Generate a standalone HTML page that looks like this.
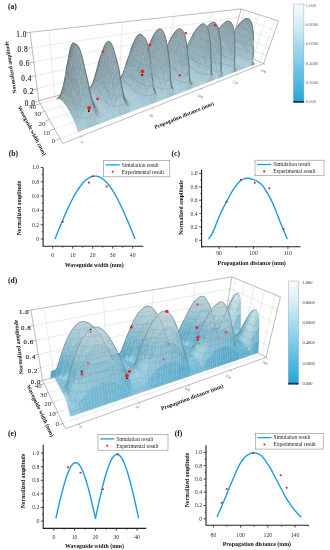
<!DOCTYPE html><html><head><meta charset="utf-8"><style>html,body{margin:0;padding:0;background:#fff;width:330px;height:550px;overflow:hidden}svg{display:block}</style></head><body><svg width="330" height="550" viewBox="0 0 330 550" font-family="Liberation Serif, serif"><style>.c0{fill:#87a2ab;stroke:#87a2ab}.c1{fill:#99bac6;stroke:#99bac6}.c2{fill:#a2c3cf;stroke:#a2c3cf}.c3{fill:#78878d;stroke:#78878d}.c4{fill:#8dabb7;stroke:#8dabb7}.c5{fill:#99bac3;stroke:#99bac3}.c6{fill:#8aa5ae;stroke:#8aa5ae}.c7{fill:#9cbac3;stroke:#9cbac3}.c8{fill:#a5c9d2;stroke:#a5c9d2}.c9{fill:#8aa2ab;stroke:#8aa2ab}.c10{fill:#a5c9d5;stroke:#a5c9d5}.c11{fill:#8dabb4;stroke:#8dabb4}.c12{fill:#8da5ae;stroke:#8da5ae}.c13{fill:#a8ccd8;stroke:#a8ccd8}.c14{fill:#a2c6cf;stroke:#a2c6cf}.c15{fill:#a8c9d5;stroke:#a8c9d5}.c16{fill:#7b8d96;stroke:#7b8d96}.c17{fill:#a2c6d2;stroke:#a2c6d2}.c18{fill:#9cbdc6;stroke:#9cbdc6}.c19{fill:#8da2ab;stroke:#8da2ab}.c20{fill:#a5c6d2;stroke:#a5c6d2}.c21{fill:#96b1bd;stroke:#96b1bd}.c22{fill:#9cc0c9;stroke:#9cc0c9}.c23{fill:#a8ccd5;stroke:#a8ccd5}.c24{fill:#9fc0cc;stroke:#9fc0cc}.c25{fill:#9fc0c9;stroke:#9fc0c9}.c26{fill:#8da2a8;stroke:#8da2a8}.c27{fill:#9cbdc9;stroke:#9cbdc9}.c28{fill:#8daeb7;stroke:#8daeb7}.c29{fill:#96b7c3;stroke:#96b7c3}.c30{fill:#93b1bd;stroke:#93b1bd}.c31{fill:#7b8d93;stroke:#7b8d93}.c32{fill:#96b7c0;stroke:#96b7c0}.c33{fill:#8d9fa8;stroke:#8d9fa8}.c34{fill:#728187;stroke:#728187}.c35{fill:#9cbac6;stroke:#9cbac6}.c36{fill:#8da8b1;stroke:#8da8b1}.c37{fill:#8a9fa5;stroke:#8a9fa5}.c38{fill:#84969f;stroke:#84969f}.c39{fill:#9fbdc9;stroke:#9fbdc9}.c40{fill:#8a9ca5;stroke:#8a9ca5}.c41{fill:#a2c3cc;stroke:#a2c3cc}.c42{fill:#96b4bd;stroke:#96b4bd}.c43{fill:#93b1ba;stroke:#93b1ba}.c44{fill:#99b7c3;stroke:#99b7c3}.c45{fill:#879ca5;stroke:#879ca5}.c46{fill:#90aeb7;stroke:#90aeb7}.c47{fill:#81969c;stroke:#81969c}.c48{fill:#90aeba;stroke:#90aeba}.c49{fill:#93aeb7;stroke:#93aeb7}.c50{fill:#9fc3cc;stroke:#9fc3cc}.c51{fill:#90b1ba;stroke:#90b1ba}.c52{fill:#87999f;stroke:#87999f}.c53{fill:#93b4c0;stroke:#93b4c0}.c54{fill:#99bdc6;stroke:#99bdc6}.c55{fill:#75848a;stroke:#75848a}.c56{fill:#8a9fa8;stroke:#8a9fa8}.c57{fill:#96b1ba;stroke:#96b1ba}.c58{fill:#8da5ab;stroke:#8da5ab}.c59{fill:#90abb4;stroke:#90abb4}.c60{fill:#9fc3cf;stroke:#9fc3cf}.c61{fill:#788a90;stroke:#788a90}.c62{fill:#81939c;stroke:#81939c}.c63{fill:#96b4c0;stroke:#96b4c0}.c64{fill:#8d9ca5;stroke:#8d9ca5}.c65{fill:#75848d;stroke:#75848d}.c66{fill:#7e939c;stroke:#7e939c}.c67{fill:#84999f;stroke:#84999f}.c68{fill:#8a99a2;stroke:#8a99a2}.c69{fill:#84969c;stroke:#84969c}.c70{fill:#727e87;stroke:#727e87}.c71{fill:#78848d;stroke:#78848d}.c72{fill:#7e9099;stroke:#7e9099}.c73{fill:#8d9fa5;stroke:#8d9fa5}.c74{fill:#93b4bd;stroke:#93b4bd}.c75{fill:#81969f;stroke:#81969f}.c76{fill:#758187;stroke:#758187}.c77{fill:#8aa5ab;stroke:#8aa5ab}.c78{fill:#879ca2;stroke:#879ca2}.c79{fill:#879fa8;stroke:#879fa8}.c80{fill:#8aa2a8;stroke:#8aa2a8}.c81{fill:#7b9096;stroke:#7b9096}.c82{fill:#819099;stroke:#819099}.c83{fill:#8da8b4;stroke:#8da8b4}.c84{fill:#8499a2;stroke:#8499a2}.c85{fill:#8a9ca2;stroke:#8a9ca2}.c86{fill:#849fa5;stroke:#849fa5}.c87{fill:#849ca5;stroke:#849ca5}.c88{fill:#7b8a90;stroke:#7b8a90}.c89{fill:#819399;stroke:#819399}.c90{fill:#90abb7;stroke:#90abb7}.c91{fill:#727e84;stroke:#727e84}.c92{fill:#93aeba;stroke:#93aeba}.c93{fill:#849ca2;stroke:#849ca2}.c94{fill:#7e9399;stroke:#7e9399}.c95{fill:#8aa2ae;stroke:#8aa2ae}.c96{fill:#8799a2;stroke:#8799a2}.c97{fill:#75818a;stroke:#75818a}.c98{fill:#99b7c0;stroke:#99b7c0}.c99{fill:#7e8d93;stroke:#7e8d93}.c100{fill:#84939c;stroke:#84939c}.c101{fill:#879fab;stroke:#879fab}.c102{fill:#7b8a93;stroke:#7b8a93}.c103{fill:#8199a2;stroke:#8199a2}.c104{fill:#7b878d;stroke:#7b878d}.c105{fill:#7b9099;stroke:#7b9099}.c106{fill:#87969c;stroke:#87969c}.c107{fill:#819096;stroke:#819096}.c108{fill:#818d93;stroke:#818d93}.c109{fill:#8abacc;stroke:#8abacc}.c110{fill:#78b7cf;stroke:#78b7cf}.c111{fill:#84c0d5;stroke:#84c0d5}.c112{fill:#abcfde;stroke:#abcfde}.c113{fill:#99c9db;stroke:#99c9db}.c114{fill:#93c6db;stroke:#93c6db}.c115{fill:#abd2e1;stroke:#abd2e1}.c116{fill:#63aec9;stroke:#63aec9}.c117{fill:#9cc3cf;stroke:#9cc3cf}.c118{fill:#abd2de;stroke:#abd2de}.c119{fill:#90c3d8;stroke:#90c3d8}.c120{fill:#81bacf;stroke:#81bacf}.c121{fill:#6cb1cc;stroke:#6cb1cc}.c122{fill:#60abc9;stroke:#60abc9}.c123{fill:#8ac0d5;stroke:#8ac0d5}.c124{fill:#84bdcf;stroke:#84bdcf}.c125{fill:#90bdcc;stroke:#90bdcc}.c126{fill:#a8c6cf;stroke:#a8c6cf}.c127{fill:#69b1cc;stroke:#69b1cc}.c128{fill:#aed2de;stroke:#aed2de}.c129{fill:#bad5de;stroke:#bad5de}.c130{fill:#bad8e1;stroke:#bad8e1}.c131{fill:#a5c6cf;stroke:#a5c6cf}.c132{fill:#aed2db;stroke:#aed2db}.c133{fill:#a2c9d2;stroke:#a2c9d2}.c134{fill:#b7cfd5;stroke:#b7cfd5}.c135{fill:#aec9d2;stroke:#aec9d2}.c136{fill:#5da8c6;stroke:#5da8c6}.c137{fill:#c9dee4;stroke:#c9dee4}.c138{fill:#c6dbe1;stroke:#c6dbe1}.c139{fill:#b7d2d8;stroke:#b7d2d8}.c140{fill:#63aecc;stroke:#63aecc}.c141{fill:#c3d8db;stroke:#c3d8db}.c142{fill:#c3d8de;stroke:#c3d8de}.c143{fill:#cfe1e4;stroke:#cfe1e4}.c144{fill:#60aec9;stroke:#60aec9}.c145{fill:#63abc9;stroke:#63abc9}.c146{fill:#66aecc;stroke:#66aecc}.c147{fill:#6caec9;stroke:#6caec9}.c148{fill:#75b7cf;stroke:#75b7cf}.c149{fill:#7bb4c9;stroke:#7bb4c9}.c150{fill:#6fb1cc;stroke:#6fb1cc}.c151{fill:#93c6d8;stroke:#93c6d8}.c152{fill:#5dabc9;stroke:#5dabc9}.c153{fill:#5aabc9;stroke:#5aabc9}.c154{fill:#9fccde;stroke:#9fccde}.c155{fill:#66b1cc;stroke:#66b1cc}.c156{fill:#8ac0d2;stroke:#8ac0d2}.c157{fill:#5daecc;stroke:#5daecc}.c158{fill:#66b1cf;stroke:#66b1cf}.c159{fill:#a8d2e1;stroke:#a8d2e1}.c160{fill:#7bbad2;stroke:#7bbad2}.c161{fill:#72b7d2;stroke:#72b7d2}.c162{fill:#8abdcc;stroke:#8abdcc}.c163{fill:#a2ccdb;stroke:#a2ccdb}.c164{fill:#96c9db;stroke:#96c9db}.c165{fill:#75b7d2;stroke:#75b7d2}.c166{fill:#60aecf;stroke:#60aecf}.c167{fill:#96c0cc;stroke:#96c0cc}.c168{fill:#6cb4cf;stroke:#6cb4cf}.c169{fill:#78bad2;stroke:#78bad2}.c170{fill:#a8cfde;stroke:#a8cfde}.c171{fill:#90c0d2;stroke:#90c0d2}.c172{fill:#72b4cc;stroke:#72b4cc}.c173{fill:#87c0d5;stroke:#87c0d5}.c174{fill:#63aecf;stroke:#63aecf}.c175{fill:#78b7cc;stroke:#78b7cc}.c176{fill:#93c0cc;stroke:#93c0cc}.c177{fill:#7bbacf;stroke:#7bbacf}.c178{fill:#6fb1c9;stroke:#6fb1c9}.c179{fill:#69b1cf;stroke:#69b1cf}.c180{fill:#6cb1cf;stroke:#6cb1cf}.c181{fill:#b4d5e1;stroke:#b4d5e1}.c182{fill:#a5cfde;stroke:#a5cfde}.c183{fill:#6fb4cf;stroke:#6fb4cf}.c184{fill:#9cc3d2;stroke:#9cc3d2}.c185{fill:#a8c9d2;stroke:#a8c9d2}.c186{fill:#93c0cf;stroke:#93c0cf}.c187{fill:#72b7cf;stroke:#72b7cf}.c188{fill:#63b1cf;stroke:#63b1cf}.c189{fill:#6cb1c9;stroke:#6cb1c9}.c190{fill:#99c6d5;stroke:#99c6d5}.c191{fill:#c3dbe4;stroke:#c3dbe4}.c192{fill:#63abc6;stroke:#63abc6}.c193{fill:#b4d2db;stroke:#b4d2db}.c194{fill:#7eb7c9;stroke:#7eb7c9}.c195{fill:#7eb7cc;stroke:#7eb7cc}.c196{fill:#5aa8c6;stroke:#5aa8c6}.c197{fill:#60abc6;stroke:#60abc6}.c198{fill:#78b4c9;stroke:#78b4c9}.c199{fill:#99c0cf;stroke:#99c0cf}.c200{fill:#72b1c9;stroke:#72b1c9}.c201{fill:#51a8c9;stroke:#51a8c9}.c202{fill:#5dabc6;stroke:#5dabc6}.c203{fill:#75b4c9;stroke:#75b4c9}.c204{fill:#90c6d8;stroke:#90c6d8}.c205{fill:#84bacc;stroke:#84bacc}.c206{fill:#abc9d2;stroke:#abc9d2}.c207{fill:#54a8c9;stroke:#54a8c9}.c208{fill:#b1ccd2;stroke:#b1ccd2}.c209{fill:#7ebad2;stroke:#7ebad2}.c210{fill:#66aec9;stroke:#66aec9}.c211{fill:#57a8c9;stroke:#57a8c9}.c212{fill:#aeccd2;stroke:#aeccd2}.c213{fill:#abc9cf;stroke:#abc9cf}.c214{fill:#96c0cf;stroke:#96c0cf}.c215{fill:#87bacc;stroke:#87bacc}.c216{fill:#b4ccd2;stroke:#b4ccd2}.c217{fill:#7bb7c9;stroke:#7bb7c9}.c218{fill:#b4ccd5;stroke:#b4ccd5}.c219{fill:#8dbdcc;stroke:#8dbdcc}.c220{fill:#6cb4cc;stroke:#6cb4cc}.c221{fill:#99c3cf;stroke:#99c3cf}.c222{fill:#7bb7cc;stroke:#7bb7cc}.c223{fill:#8ac0d8;stroke:#8ac0d8}.c224{fill:#99c0cc;stroke:#99c0cc}.c225{fill:#9cccde;stroke:#9cccde}.c226{fill:#81b7c9;stroke:#81b7c9}.c227{fill:#81bacc;stroke:#81bacc}.c228{fill:#99c9d8;stroke:#99c9d8}.c229{fill:#78bad5;stroke:#78bad5}.c230{fill:#87c0d8;stroke:#87c0d8}.c231{fill:#96c9de;stroke:#96c9de}.c232{fill:#a2cfde;stroke:#a2cfde}.c233{fill:#57a8c6;stroke:#57a8c6}.c234{fill:#7bbdd5;stroke:#7bbdd5}.c235{fill:#8dc3d8;stroke:#8dc3d8}.c236{fill:#81bdd5;stroke:#81bdd5}.c237{fill:#7bbad5;stroke:#7bbad5}.c238{fill:#84bacf;stroke:#84bacf}.c239{fill:#8ac3d8;stroke:#8ac3d8}.c240{fill:#9cc9db;stroke:#9cc9db}.c241{fill:#81b7cc;stroke:#81b7cc}.c242{fill:#87bdcf;stroke:#87bdcf}.c243{fill:#72b7d5;stroke:#72b7d5}.c244{fill:#bacfd5;stroke:#bacfd5}.c245{fill:#84b7cc;stroke:#84b7cc}.c246{fill:#60aecc;stroke:#60aecc}.c247{fill:#bdd2d5;stroke:#bdd2d5}.c248{fill:#93bdcc;stroke:#93bdcc}.c249{fill:#5aabcc;stroke:#5aabcc}.c250{fill:#a8c9cf;stroke:#a8c9cf}.c251{fill:#78b4cc;stroke:#78b4cc}.c252{fill:#69aec6;stroke:#69aec6}.c253{fill:#69aec9;stroke:#69aec9}.c254{fill:#9fc6cf;stroke:#9fc6cf}.c255{fill:#72b4c9;stroke:#72b4c9}.c256{fill:#b1ccd5;stroke:#b1ccd5}.c257{fill:#84bdd5;stroke:#84bdd5}.c258{fill:#90bdcf;stroke:#90bdcf}.c259{fill:#78b7d2;stroke:#78b7d2}.c260{fill:#7ebdd2;stroke:#7ebdd2}.c261{fill:#66abc6;stroke:#66abc6}.c262{fill:#7ebdd8;stroke:#7ebdd8}.c263{fill:#8abdcf;stroke:#8abdcf}.c264{fill:#84bdd2;stroke:#84bdd2}.c265{fill:#84c0d8;stroke:#84c0d8}.c266{fill:#99ccde;stroke:#99ccde}.c267{fill:#96c6d8;stroke:#96c6d8}.c268{fill:#81c0d8;stroke:#81c0d8}.c269{fill:#90c6db;stroke:#90c6db}.c270{fill:#8ac3db;stroke:#8ac3db}.c271{fill:#8abdd2;stroke:#8abdd2}.c272{fill:#93c3d5;stroke:#93c3d5}.c273{fill:#8dc0d2;stroke:#8dc0d2}.c274{fill:#a2ccde;stroke:#a2ccde}.c275{fill:#99c9de;stroke:#99c9de}.c276{fill:#99c6d8;stroke:#99c6d8}.c277{fill:#8dc6db;stroke:#8dc6db}.c278{fill:#a8c6d2;stroke:#a8c6d2}.c279{fill:#93c9db;stroke:#93c9db}.c280{fill:#9fc9db;stroke:#9fc9db}.c281{fill:#c0d2d8;stroke:#c0d2d8}.c282{fill:#6fb7d2;stroke:#6fb7d2}.c283{fill:#72b4cf;stroke:#72b4cf}.c284{fill:#c3d2d8;stroke:#c3d2d8}.c285{fill:#6fb4d2;stroke:#6fb4d2}.c286{fill:#69b1c9;stroke:#69b1c9}.c287{fill:#bdd2d8;stroke:#bdd2d8}.c288{fill:#9fc6d2;stroke:#9fc6d2}.c289{fill:#6fb4cc;stroke:#6fb4cc}.c290{fill:#b4cfd5;stroke:#b4cfd5}.c291{fill:#8dbdcf;stroke:#8dbdcf}.c292{fill:#aeccd5;stroke:#aeccd5}.c293{fill:#8dc0cf;stroke:#8dc0cf}.c294{fill:#7ebdd5;stroke:#7ebdd5}.c295{fill:#81bdd8;stroke:#81bdd8}.c296{fill:#87c3db;stroke:#87c3db}.c297{fill:#a2cfe1;stroke:#a2cfe1}.c298{fill:#87bdd2;stroke:#87bdd2}.c299{fill:#90c3d5;stroke:#90c3d5}path[class]{stroke-width:.3}path.sl{stroke:#66727a;stroke-width:.8;fill:none}path.sd{stroke:#6f8c99;stroke-width:.7;fill:none}path.cd{stroke:#3f86a8;stroke-opacity:.35;stroke-width:.4;fill:none}path.ct{stroke:#8a9aa2;stroke-width:.45;fill:none}</style><path d="M37.2 88.6L232.5 40.8M35.6 75.7L234.6 33.2M33.8 62.1L236.7 25.3M32 47.6L238.9 17.2M54.7 96.4L48.9 30.2M119.5 78.6L122.5 22M166.6 65.7L174 16.3M202.4 55.9L212 12.1M266.4 55.7L232.5 40.8M269.2 47.5L234.6 33.2M272.2 39L236.7 25.3M275.3 30.2L238.9 17.2M260.2 62.1L274.6 19.8M252.9 58.7L266.4 17.1M246 55.4L258.6 14.6M239.3 52.3L251.1 12.1M232.9 49.3L243.9 9.8M60.1 138.6L260.2 62.1M54.6 128.8L252.9 58.7M49.4 119.7L246 55.4M44.7 111.4L239.3 52.3M40.4 103.7L232.9 49.3M81.1 136.1L54.7 96.4M152.1 107.9L119.5 78.6M200.9 88.5L166.6 65.7M236.5 74.4L202.4 55.9" stroke="#d6d6d6" stroke-width=".5" fill="none"/><path d="M38.7 100.8L30.1 32.3M30.1 32.3L241.2 8.9M230.5 48.2L241.2 8.9M241.2 8.9L278.5 21M278.5 21L263.6 63.7M38.7 100.8L62.8 143.4M62.8 143.4L263.6 63.7M263.6 63.7L230.5 48.2M38.7 100.8L230.5 48.2" stroke="#8e8e8e" stroke-width=".6" fill="none"/><path class="c0" d="M232.2 36.5l2.6-6.5-3.4 5.5-2.2 4.9z"/><path class="c1" d="M232.3 51.2l3.1-8.1-2.1 .3-2.9 7.5z"/><path class="c2" d="M233.9 56.4l2-3.9-1.8-.7-1.9 3.8z"/><path class="c3" d="M253 62.1l.6 .3-1.7-1.3-.5-.8z"/><path class="c4" d="M233.3 43.4l4.2-12.3-2.6 2.3-3.8 10.7z"/><path class="c5" d="M234.1 51.7l3.3-8.5-2-.1-3.1 8.1z"/><path class="c6" d="M235 33.4l3-7.9-3.2 4.5-2.6 6.5z"/><path class="c7" d="M254.4 64.3l.8-.3-1.7-1.5-.6-.3z"/><path class="c8" d="M234.2 59.2l1.4-1.9-1.7-.9-1.4 2z"/><path class="c2" d="M235.6 57.3l2-3.9-1.7-.9-2 3.9z"/><path class="c5" d="M235.9 52.5l3.3-8.7-1.9-.6-3.3 8.5z"/><path class="c9" d="M253.6 64.6l.9-.3-1.4-2.2-.4-1.2z"/><path class="c10" d="M236 60.2l1.4-1.9-1.7-1-1.4 1.9z"/><path class="c11" d="M235.4 43.1l4.6-13.4-2.4 1.5-4.2 12.3z"/><path class="c2" d="M237.4 58.3l1.9-3.7-1.7-1.2-2 3.9z"/><path class="c10" d="M234.8 61.3l1.2-1.2-1.7-1-1.2 1.2z"/><path class="c5" d="M237.6 53.4l3.3-8.6-1.7-1-3.3 8.7z"/><path class="c10" d="M237.7 61.2l1.4-1.8-1.7-1.1-1.4 1.9z"/><path class="c3" d="M252.7 64.9l.9-.3-1-3.7 .2-2.8z"/><path class="c12" d="M237.6 31.2l3.4-9.1-3 3.4-3 7.9z"/><path class="c12" d="M241 22.1l-.3 4-2.8 2.9 .1-3.5z"/><path class="c2" d="M239.1 59.4l1.9-3.5-1.7-1.4-1.9 3.7z"/><path class="c10" d="M236.6 62.3l1.2-1.1-1.8-1-1.2 1.2z"/><path class="c11" d="M237.3 43.2l4.9-14.1-2.2 .6-4.6 13.4z"/><path class="c1" d="M239.3 54.6l3.3-8.3-1.6-1.5-3.3 8.6z"/><path class="c13" d="M235.5 63l1.1-.7-1.8-1-1.1 .8z"/><path class="c10" d="M239.5 62.3l1.3-1.6-1.7-1.2-1.4 1.8z"/><path class="c14" d="M240.8 60.6l1.8-3.1-1.6-1.6-1.9 3.5z"/><path class="c15" d="M238.4 63.3l1.1-1-1.8-1.1-1.2 1.1z"/><path class="c1" d="M241 55.9l3.1-7.7-1.5-2-3.3 8.3z"/><path class="c10" d="M234.5 63.5l1-.5-1.8-.9-1 .5z"/><path class="c16" d="M251.9 65.3l.9-.3 .1-6.9 .4-3.7z"/><path class="c13" d="M237.3 64l1-.7-1.8-1-1.1 .7z"/><path class="c17" d="M242.5 62l1.6-2.7-1.6-1.8-1.8 3.1z"/><path class="c11" d="M239.2 43.7l5-14.4-2-.3-4.9 14.1z"/><path class="c10" d="M241.3 63.4l1.2-1.4-1.7-1.3-1.3 1.6z"/><path class="c18" d="M242.6 57.5l2.9-6.8-1.4-2.4-3.1 7.7z"/><path class="c19" d="M240 29.7l3.7-9.9-2.7 2.3-3.4 9.1z"/><path class="c19" d="M243.6 19.8l-.4 4.5-2.6 1.9 .3-4z"/><path class="c15" d="M240.2 64.3l1.1-.9-1.8-1.1-1.1 1z"/><path class="c8" d="M236.3 64.5l1-.5-1.8-1-1 .5z"/><path class="c20" d="M244.2 63.4l1.5-2.1-1.5-2-1.6 2.7z"/><path class="c21" d="M251 65.6l.9-.3 1.3-10.9-.4-1.1z"/><path class="c22" d="M244.1 59.3l2.6-5.8-1.3-2.9-2.9 6.8z"/><path class="c10" d="M243 64.6l1.2-1.2-1.7-1.5-1.2 1.4z"/><path class="c12" d="M253.2 54.4l-.4 3.7-.6-4.9 1.3-6.5z"/><path class="c23" d="M239.1 64.9l1-.6-1.8-1-1 .7z"/><path class="c11" d="M240.9 44.8l5-14.2-1.8-1.2-5 14.4z"/><path class="c24" d="M245.7 61.3l2.2-4.4-1.1-3.4-2.6 5.8z"/><path class="c14" d="M235.4 64.9l1-.4-1.8-.9-1 .4z"/><path class="c25" d="M250.1 65.9l.9-.3 1.8-12.3-1.8 3.2z"/><path class="c13" d="M242 65.4l1.1-.8-1.8-1.2-1.1 .9z"/><path class="c10" d="M245.9 65l1.2-1.4-1.4-2.3-1.5 2.1z"/><path class="c17" d="M249.2 66.3l.9-.3 .8-9.5-2.2 4.3z"/><path class="c14" d="M247.1 63.6l1.7-2.8-.9-3.9-2.2 4.4z"/><path class="c20" d="M238.2 65.4l1-.5-1.8-1-1 .5z"/><path class="c10" d="M248.3 66.6l.9-.3-.4-5.5-1.7 2.8z"/><path class="c15" d="M244.8 65.9l1.1-.8-1.7-1.6-1.2 1.2z"/><path class="c11" d="M242.6 46.3l4.9-13.6-1.5-2.1-5 14.2z"/><path class="c10" d="M241 65.9l1-.6-1.8-1.1-1 .6z"/><path class="c2" d="M234.4 65.2l1-.3-1.8-.9-1 .3z"/><path class="c13" d="M247.4 67l.9-.3-1.2-3-1.2 1.4z"/><path class="c19" d="M242.2 29.1l3.9-10.5-2.4 1.2-3.7 9.9z"/><path class="c26" d="M246.1 18.6l-.5 4.7-2.3 .9 .4-4.5z"/><path class="c14" d="M237.2 65.8l1-.4-1.8-1-1 .4z"/><path class="c13" d="M243.8 66.5l1-.6-1.8-1.3-1.1 .8z"/><path class="c27" d="M248.8 60.8l2.2-4.3-.1-6.6-3 7z"/><path class="c4" d="M244.1 48.2l4.6-12.6-1.2-3-4.9 13.6z"/><path class="c13" d="M246.5 67.3l.9-.3-1.6-1.9-1.1 .8z"/><path class="c20" d="M240 66.4l1-.4-1.8-1-1 .5z"/><path class="c28" d="M245.5 50.7l4.2-11.1-1-3.9-4.6 12.6z"/><path class="c29" d="M247.8 56.9l3-7-.4-5.6-3.7 9.3z"/><path class="c30" d="M246.7 53.5l3.7-9.3-.7-4.7-4.2 11.1z"/><path class="c31" d="M252.8 53.3l.4 1.1 .2-7.6-.2-2z"/><path class="c10" d="M242.8 67l1-.5-1.8-1.1-1 .6z"/><path class="c2" d="M236.3 66.1l1-.3-1.8-.9-1 .3z"/><path class="c10" d="M245.6 67.7l.9-.4-1.7-1.5-1 .6z"/><path class="c32" d="M251 56.5l1.8-3.2 .5-8.6-2.4 5.2z"/><path class="c2" d="M239.1 66.8l1-.4-1.8-1-1 .4z"/><path class="c19" d="M244.2 29.3l4-10.7-2.1-.1-3.9 10.5z"/><path class="c33" d="M248.2 18.6l-.5 4.8-2-.2 .5-4.7z"/><path class="c20" d="M241.9 67.4l1-.4-1.9-1-1 .4z"/><path class="c24" d="M235.3 66.4l.9-.3-1.8-1-.9 .3z"/><path class="c20" d="M244.7 68l.9-.4-1.8-1.2-1 .5z"/><path class="c2" d="M238.1 67.1l1-.3-1.8-1-1 .3z"/><path class="c34" d="M253.3 44.7l.2 2-.2-6.4 .1-2.9z"/><path class="c2" d="M240.9 67.7l.9-.4-1.9-1-1 .4z"/><path class="c28" d="M250.9 49.9l2.4-5.2 .1-7.3-2.9 6.8z"/><path class="c19" d="M245.9 30.5l4-10.6-1.8-1.3-4 10.7z"/><path class="c35" d="M234.4 66.6l.9-.2-1.8-1-.9 .2z"/><path class="c33" d="M249.9 19.9l-.5 4.8-1.8-1.2 .5-4.8z"/><path class="c14" d="M243.8 68.4l.9-.4-1.9-1.1-1 .4z"/><path class="c24" d="M237.2 67.4l.9-.3-1.9-1-.9 .3z"/><path class="c34" d="M253.4 37.4l-.1 2.9-.5-5.4 .3-3.6z"/><path class="c2" d="M240 68.1l.9-.4-1.9-1-1 .3z"/><path class="c36" d="M250.4 44.2l2.9-6.8-.3-6.1-3.4 8.2z"/><path class="c19" d="M247.5 32.6l3.9-10.1-1.4-2.6-4 10.6z"/><path class="c37" d="M251.3 22.5l-.5 4.5-1.4-2.3 .5-4.8z"/><path class="c2" d="M242.8 68.7l.9-.4-1.9-1-.9 .4z"/><path class="c12" d="M249.7 39.5l3.4-8.2-.7-5-3.7 9.3z"/><path class="c12" d="M248.7 35.6l3.7-9.3-1-3.8-3.9 10.1z"/><path class="c38" d="M253 31.3l-.3 3.6-.8-4.4 .4-4.1z"/><path class="c39" d="M236.2 67.7l.9-.2-1.8-1-.9 .2z"/><path class="c40" d="M252.4 26.3l-.4 4.1-1.1-3.4 .5-4.5z"/><path class="c41" d="M239 68.4l.9-.3-1.9-1-.9 .3z"/><path class="c2" d="M241.9 69.1l.9-.4-1.9-1-.9 .4z"/><path class="c42" d="M235.3 67.8l.9-.1-1.8-1-.9 0z"/><path class="c24" d="M238.1 68.7l.9-.3-1.9-1-.9 .2z"/><path class="c2" d="M240.9 69.5l1-.4-1.9-1-.9 .3z"/><path class="c16" d="M234.5 67.7l.8 .1-1.8-1.1-.8-.3z"/><path class="c35" d="M237.2 68.9l.9-.2-1.9-1.1-.9 .1z"/><path class="c2" d="M239.9 69.8l1-.4-1.9-1-.9 .3z"/><path class="c43" d="M236.3 69l.9-.1-1.8-1.2-.8-.1z"/><path class="c2" d="M239 70.2l1-.4-1.9-1.1-.9 .2z"/><path class="c2" d="M238 70.6l1-.4-1.8-1.3-.9 .1z"/><path class="c3" d="M235.4 68.9l.8 .2-1.8-1.4-.7-.5z"/><path class="c24" d="M237 71l1-.4-1.7-1.6-.8-.2z"/><path class="c44" d="M236 71.3l1-.4-1.6-2.1-.7-.8z"/><path class="c12" d="M216.1 41l4.2-13-2.8 3.3-3.7 11.4z"/><path class="c45" d="M235 71.7l1-.4-1.3-3.2-.3-2.2z"/><path class="c46" d="M218.1 53.4l4.3-13.2-2-.5-4.2 12.9z"/><path class="c47" d="M234 72.1l1-.4-.5-5.8 .2-3.8z"/><path class="c3" d="M220.3 28l1.8-3.2-2.9 3.7-1.7 2.8z"/><path class="c22" d="M220.7 63.8l2.5-6-1.6-1.9-2.6 6.4z"/><path class="c17" d="M220.8 67.8l1.6-2.4-1.7-1.6-1.7 2.6z"/><path class="c12" d="M218.4 40l4.5-14.3-2.6 2.2-4.2 13z"/><path class="c48" d="M219.9 54.5l4.3-13-1.8-1.2-4.3 13.2z"/><path class="c24" d="M222.4 65.4l2.4-5.3-1.6-2.2-2.5 6z"/><path class="c36" d="M234.7 62.1l-.2 3.8-1-4.2 1-6.7z"/><path class="c20" d="M222.5 69.2l1.5-2.1-1.7-1.8-1.6 2.4z"/><path class="c49" d="M233 72.5l1-.4 .7-10-.1-3z"/><path class="c10" d="M221.3 70.2l1.3-1-1.8-1.4-1.3 1.1z"/><path class="c50" d="M224.1 67.1l2.2-4.5-1.5-2.6-2.4 5.3z"/><path class="c51" d="M221.6 56l4.2-12.5-1.6-2-4.3 13z"/><path class="c10" d="M224.3 70.8l1.4-1.7-1.6-2-1.5 2.1z"/><path class="c12" d="M220.5 39.8l4.8-15.1-2.4 1.1-4.5 14.3z"/><path class="c19" d="M227.2 21.1l-1.9 11.7-2.2 .6 1.7-11.1z"/><path class="c2" d="M225.7 69.1l1.9-3.5-1.4-3-2.2 4.5z"/><path class="c30" d="M223.3 57.8l4-11.6-1.4-2.8-4.2 12.5z"/><path class="c52" d="M222.9 25.8l1.9-3.4-2.7 2.5-1.8 3.2z"/><path class="c35" d="M231.9 72.9l1-.4 1.6-13.4-1.3 1.3z"/><path class="c10" d="M223.1 71.7l1.2-.9-1.8-1.6-1.3 1z"/><path class="c2" d="M230.9 73.3l1-.4 1.3-12.5-2.2 4.5z"/><path class="c17" d="M227.3 71.3l1.6-2.3-1.3-3.4-1.9 3.5z"/><path class="c8" d="M229.8 73.7l1.1-.4 .1-8.3-2.1 4.1z"/><path class="c53" d="M224.8 60l3.7-10.3-1.2-3.5-4 11.6z"/><path class="c10" d="M226 72.5l1.3-1.2-1.6-2.2-1.4 1.7z"/><path class="c10" d="M228.8 74.1l1.1-.4-.9-4.7-1.6 2.3z"/><path class="c17" d="M222 72l1.1-.4-1.8-1.4-1.1 .3z"/><path class="c29" d="M226.3 62.6l3.3-8.6-1.1-4.3-3.7 10.3z"/><path class="c24" d="M228.9 69l2.1-4.1-.6-5.9-2.8 6.5z"/><path class="c54" d="M227.7 65.6l2.8-6.5-.8-5-3.3 8.6z"/><path class="c15" d="M224.9 73.2l1.2-.7-1.7-1.7-1.2 .9z"/><path class="c55" d="M234.6 59.1l.1 3-.2-7.1 .5-5.3z"/><path class="c12" d="M222.5 40.2l4.9-15.4-2.1-.1-4.8 15.1z"/><path class="c13" d="M227.7 74.5l1.1-.4-1.4-2.8-1.3 1.2z"/><path class="c26" d="M229.4 21.1l-2.1 12-2-.3 1.9-11.7z"/><path class="c56" d="M221 71.9l1 .2-1.8-1.4-.9-.3z"/><path class="c20" d="M223.8 73.6l1.1-.4-1.8-1.5-1.1 .4z"/><path class="c13" d="M226.6 74.9l1.1-.4-1.7-2-1.2 .7z"/><path class="c40" d="M225.3 24.7l2-3.6-2.4 1.3-1.9 3.4z"/><path class="c5" d="M231 65l2.2-4.5 .2-8.8-3 7.4z"/><path class="c12" d="M224.2 41.5l4.9-15.2-1.8-1.4-4.9 15.4z"/><path class="c26" d="M231.2 22.6l-2.1 11.8-1.8-1.3 2.1-12z"/><path class="c30" d="M233.3 60.4l1.3-1.3 .4-9.4-1.5 1.9z"/><path class="c44" d="M222.8 73.6l1-.1-1.8-1.5-1-.2z"/><path class="c10" d="M225.5 75.4l1.1-.4-1.7-1.8-1.1 .4z"/><path class="c51" d="M230.4 59.1l3-7.4-.2-7.4-3.7 9.8z"/><path class="c12" d="M225.9 43.5l4.8-14.6-1.5-2.7-4.9 15.2z"/><path class="c26" d="M232.7 25.4l-2 11.3-1.6-2.3 2.1-11.8z"/><path class="c11" d="M229.6 54l3.7-9.8-.5-6.3-4.2 11.8z"/><path class="c33" d="M227.4 24.8l2-3.7-2.1-.1-2 3.6z"/><path class="c20" d="M224.4 75.8l1.1-.4-1.7-1.8-1 .1z"/><path class="c36" d="M227.3 46.3l4.6-13.4-1.2-3.9-4.8 14.6z"/><path class="c36" d="M228.5 49.8l4.2-11.8-.9-5.1-4.6 13.4z"/><path class="c3" d="M221.9 73.2l.9 .4-1.7-1.8-.7-1z"/><path class="c11" d="M233.5 51.7l1.5-1.9 0-8-1.7 2.5z"/><path class="c24" d="M223.3 76.2l1.1-.4-1.7-2.1-.9-.4z"/><path class="c33" d="M229.2 26.3l2-3.7-1.8-1.4-2 3.7z"/><path class="c36" d="M233.3 44.2l1.7-2.5-.4-6.7-1.8 2.9z"/><path class="c33" d="M230.7 28.9l2-3.5-1.5-2.8-2 3.7z"/><path class="c12" d="M232.7 38l1.8-2.9-.8-5.5-1.9 3.3z"/><path class="c57" d="M222.2 76.6l1.1-.4-1.4-3-.6-1.6z"/><path class="c19" d="M231.9 32.8l1.9-3.3-1.1-4.2-2 3.5z"/><path class="c6" d="M186 52.4l3.1-10-2.9 5.4-2.6 7.5z"/><path class="c9" d="M221.1 77.1l1.1-.4-.9-5-.1-3.4z"/><path class="c30" d="M185.3 59.9l3.1-9.7-2.3 2.2-2.7 8.1z"/><path class="c11" d="M191.3 37.7l.3 4.9-2.9 5.2-.6-3.5z"/><path class="c58" d="M207.3 26.5l.5 3.3-2.8 3.6-.6-2.8z"/><path class="c9" d="M221.2 68.2l.1 3.4-1.3-3.7 .5-6z"/><path class="c34" d="M189.1 42.4l2.1-4.7-3.2 6.6-1.9 3.5z"/><path class="c59" d="M219.9 77.5l1.1-.4 .1-8.9 0-3.9z"/><path class="c18" d="M186.7 66.2l2.5-6.3-1.9-.1-2.3 5.8z"/><path class="c43" d="M187.3 59.7l3.4-11.1-2.3 1.6-3.1 9.7z"/><path class="c36" d="M206.1 49.8l4.6-15.3-2.1-.3-4.5 15z"/><path class="c6" d="M188.4 50.2l3.6-12.2-2.8 4.4-3.1 10z"/><path class="c44" d="M218.8 77.9l1.2-.4 1.2-13.2-.9-.7z"/><path class="c26" d="M210 23.7l.4 3.6-2.6 2.4-.5-3.3z"/><path class="c18" d="M188.5 67l2.5-6.6-1.9-.5-2.5 6.3z"/><path class="c29" d="M209.8 65.5l2.8-7-1.4-3.1-3 7.8z"/><path class="c55" d="M221.1 64.3l0 3.9-.6-6.3 .7-6.9z"/><path class="c24" d="M217.6 78.4l1.2-.4 1.5-14.4-2 3.6z"/><path class="c14" d="M188.4 71.3l1.9-3.3-1.8-1-1.9 3.2z"/><path class="c1" d="M211.3 68.2l2.5-5.9-1.3-3.7-2.8 7z"/><path class="c17" d="M216.4 78.8l1.2-.5 .7-11.3-2.3 4.6z"/><path class="c36" d="M194.3 32.3l.1 6.1-2.8 4.2-.3-4.9z"/><path class="c60" d="M211.4 72.5l1.4-1.4-1.5-3-1.5 1.7z"/><path class="c36" d="M207.9 51l4.6-15.2-1.8-1.4-4.6 15.3z"/><path class="c51" d="M189.2 59.8l3.6-12.1-2.2 .9-3.4 11.1z"/><path class="c10" d="M215.2 79.3l1.2-.5-.4-7.1-1.8 2.9z"/><path class="c27" d="M212.8 71.2l2.2-4.5-1.1-4.3-2.5 5.9z"/><path class="c60" d="M214.2 74.6l1.8-2.9-1-5.1-2.2 4.5z"/><path class="c17" d="M212.8 75.6l1.3-1-1.4-3.5-1.4 1.4z"/><path class="c18" d="M190.3 68l2.6-6.8-1.8-.9-2.5 6.6z"/><path class="c10" d="M214 79.8l1.2-.5-1.1-4.7-1.3 1z"/><path class="c61" d="M191.9 38l2.4-5.7-3 5.4-2.1 4.7z"/><path class="c17" d="M190.2 72.4l1.9-3.3-1.8-1.2-1.9 3.3z"/><path class="c33" d="M208.7 34.1l3.8-11.8-2.4 1.4-3.6 11.1z"/><path class="c36" d="M209.6 52.9l4.5-14.5-1.6-2.5-4.6 15.2z"/><path class="c10" d="M188.6 74.3l1.6-1.9-1.8-1.2-1.6 1.9z"/><path class="c18" d="M216 71.7l2.3-4.6-.2-7.9-3 7.5z"/><path class="c33" d="M212.5 22.4l.3 3.9-2.4 1.1-.4-3.6z"/><path class="c62" d="M211.9 75l1 .6-1.5-3.1-.8-1.3z"/><path class="c6" d="M190.6 48.6l4-13.9-2.7 3.3-3.6 12.2z"/><path class="c24" d="M212.8 80.2l1.2-.5-1.2-4.1-1-.6z"/><path class="c11" d="M211.2 55.5l4.3-13.4-1.4-3.6-4.5 14.5z"/><path class="c48" d="M191.1 60.3l3.8-12.7-2.1 .1-3.6 12.1z"/><path class="c63" d="M215 66.7l3-7.5-.6-6.7-3.6 9.9z"/><path class="c6" d="M220.3 63.6l.9 .7 .1-9.3-.7-1.6z"/><path class="c27" d="M192.1 69.2l2.6-6.7-1.8-1.3-2.6 6.8z"/><path class="c4" d="M212.6 58.6l4-11.9-1.1-4.7-4.3 13.4z"/><path class="c48" d="M213.9 62.3l3.6-9.9-.8-5.7-4 11.9z"/><path class="c63" d="M218.3 67.1l2-3.6 .3-10.2-2.6 5.8z"/><path class="c17" d="M192 73.7l1.9-3.2-1.8-1.4-1.9 3.3z"/><path class="c10" d="M190.4 75.6l1.6-1.8-1.8-1.3-1.6 1.9z"/><path class="c26" d="M210.7 34.4l3.9-12-2.2-.1-3.8 11.8z"/><path class="c10" d="M188.9 76.7l1.5-1.2-1.8-1.2-1.5 1.2z"/><path class="c57" d="M211.6 80.7l1.2-.5-1-5.2-.5-2.6z"/><path class="c27" d="M193.9 70.6l2.6-6.5-1.7-1.6-2.6 6.7z"/><path class="c64" d="M214.6 22.4l.3 4-2.1-.2-.3-3.9z"/><path class="c48" d="M192.9 61.2l3.9-13-2-.6-3.8 12.7z"/><path class="c17" d="M193.8 75.1l1.9-3-1.8-1.6-1.9 3.2z"/><path class="c65" d="M211.4 72.5l.5 2.6-1.3-3.8 0-4.6z"/><path class="c10" d="M192.2 76.9l1.6-1.7-1.8-1.4-1.6 1.8z"/><path class="c66" d="M220.6 53.4l.7 1.6-.3-7.9-.5-2.3z"/><path class="c4" d="M218 59.2l2.6-5.8-.1-8.6-3 7.6z"/><path class="c12" d="M192.8 47.8l4.3-15.3-2.5 2.2-4 13.9z"/><path class="c26" d="M212.5 35.9l3.9-11.9-1.8-1.6-3.9 12z"/><path class="c10" d="M190.7 78l1.5-1.1-1.8-1.3-1.5 1.2z"/><path class="c67" d="M194.6 34.7l2.6-6.6-2.9 4.2-2.4 5.7z"/><path class="c22" d="M195.6 72.2l2.5-6-1.7-2-2.6 6.5z"/><path class="c68" d="M216.5 24l.3 3.9-1.8-1.5-.3-4z"/><path class="c17" d="M195.6 76.6l1.8-2.7-1.7-1.8-1.9 3z"/><path class="c49" d="M210.4 81.2l1.2-.5-.2-8.2-.2-3.8z"/><path class="c48" d="M194.7 62.5l3.9-12.8-1.8-1.4-3.9 13z"/><path class="c36" d="M217.4 52.4l3-7.6-.5-7.3-3.4 9.2z"/><path class="c34" d="M220.5 44.8l.5 2.3-.6-6.7-.4-2.9z"/><path class="c10" d="M194 78.2l1.6-1.6-1.8-1.5-1.6 1.7z"/><path class="c10" d="M189.3 78.6l1.4-.7-1.8-1.3-1.4 .7z"/><path class="c19" d="M214.1 38.4l3.8-11.4-1.5-3.1-3.9 11.9z"/><path class="c24" d="M197.4 73.9l2.4-5.4-1.6-2.4-2.5 6z"/><path class="c12" d="M216.6 46.7l3.4-9.2-.8-5.9-3.7 10.5z"/><path class="c19" d="M215.5 42l3.7-10.5-1.2-4.5-3.8 11.4z"/><path class="c69" d="M218 27.1l.3 3.7-1.5-2.9-.3-3.9z"/><path class="c15" d="M192.5 79.3l1.5-1.1-1.8-1.4-1.5 1.1z"/><path class="c70" d="M220 37.5l.4 2.9-.9-5.5-.3-3.3z"/><path class="c71" d="M219.2 31.6l.3 3.3-1.2-4.2-.3-3.7z"/><path class="c20" d="M197.4 78.3l1.7-2.3-1.7-2-1.8 2.7z"/><path class="c51" d="M196.5 64.1l3.8-12.3-1.7-2.2-3.9 12.8z"/><path class="c12" d="M194.9 47.6l4.5-16.2-2.3 1-4.3 15.3z"/><path class="c10" d="M195.8 79.7l1.5-1.4-1.8-1.6-1.6 1.6z"/><path class="c60" d="M199.1 75.9l2.2-4.6-1.6-2.8-2.4 5.4z"/><path class="c10" d="M191.2 79.9l1.4-.6-1.8-1.3-1.4 .7z"/><path class="c44" d="M209.1 81.6l1.2-.5 .8-12.5-.7-1.9z"/><path class="c55" d="M211.2 68.7l.2 3.8-.8-5.9 .5-6.8z"/><path class="c30" d="M198.2 66.1l3.7-11.4-1.5-2.9-3.8 12.3z"/><path class="c23" d="M194.4 80.6l1.4-1-1.8-1.4-1.5 1.1z"/><path class="c10" d="M199.2 80l1.6-1.9-1.7-2.2-1.7 2.3z"/><path class="c2" d="M200.8 78.1l2-3.6-1.5-3.2-2.2 4.6z"/><path class="c40" d="M197.1 32.5l2.7-7.2-2.7 2.8-2.6 6.6z"/><path class="c24" d="M189.8 80.2l1.3-.3-1.8-1.3-1.3 .2z"/><path class="c22" d="M207.9 82.1l1.3-.5 1.3-14.9-1.8 2.4z"/><path class="c10" d="M197.7 81.2l1.5-1.2-1.8-1.7-1.5 1.4z"/><path class="c63" d="M199.8 68.5l3.5-10.1-1.4-3.7-3.7 11.4z"/><path class="c10" d="M193 81.3l1.4-.6-1.8-1.4-1.4 .6z"/><path class="c14" d="M206.6 82.6l1.3-.5 .8-12.9-2.3 4.9z"/><path class="c20" d="M202.5 80.5l1.7-2.4-1.4-3.7-2 3.6z"/><path class="c10" d="M205.3 83.1l1.3-.5-.2-8.5-2.1 4.1z"/><path class="c12" d="M196.8 48.3l4.7-16.5-2.1-.3-4.5 16.2z"/><path class="c10" d="M201 81.9l1.5-1.3-1.7-2.4-1.6 1.9z"/><path class="c5" d="M201.3 71.3l3.1-8.5-1.2-4.4-3.5 10.1z"/><path class="c13" d="M196.3 82.1l1.4-.9-1.8-1.5-1.4 1z"/><path class="c10" d="M204 83.6l1.3-.5-1.1-4.9-1.7 2.4z"/><path class="c27" d="M202.8 74.5l2.7-6.5-1.1-5.2-3.1 8.5z"/><path class="c24" d="M204.2 78.2l2.1-4.1-.8-6.1-2.7 6.5z"/><path class="c33" d="M202.2 23.9l-.5 8.4-2.3 .9 .3-7.9z"/><path class="c23" d="M199.5 82.8l1.4-.9-1.8-1.9-1.5 1.2z"/><path class="c2" d="M191.7 81.6l1.3-.3-1.9-1.3-1.3 .3z"/><path class="c13" d="M202.7 84.1l1.3-.5-1.5-3.1-1.5 1.3z"/><path class="c10" d="M194.9 82.7l1.4-.6-1.9-1.4-1.4 .6z"/><path class="c72" d="M210.5 66.7l.7 1.9-.2-8.8-.3-3.6z"/><path class="c12" d="M198.6 49.6l4.7-16.3-1.9-1.6-4.7 16.5z"/><path class="c13" d="M198.1 83.5l1.4-.7-1.9-1.6-1.4 .9z"/><path class="c73" d="M199.4 31.5l2.8-7.6-2.4 1.4-2.7 7.2z"/><path class="c1" d="M206.3 74.1l2.3-4.9-.1-9.1-3.1 8z"/><path class="c13" d="M201.4 84.6l1.3-.5-1.7-2.2-1.4 .9z"/><path class="c21" d="M190.4 81.5l1.3 0-1.8-1.4-1.3-.1z"/><path class="c14" d="M193.5 83l1.3-.4-1.9-1.4-1.3 .3z"/><path class="c10" d="M196.8 84.1l1.4-.6-1.9-1.5-1.4 .6z"/><path class="c74" d="M208.7 69.2l1.8-2.4 .2-10.5-2.1 3.8z"/><path class="c12" d="M200.3 51.8l4.6-15.6-1.6-2.9-4.7 16.3z"/><path class="c30" d="M205.5 68l3.1-8-.5-7.8-3.6 10.6z"/><path class="c13" d="M200 85.1l1.3-.5-1.8-1.8-1.4 .7z"/><path class="c36" d="M201.9 54.7l4.4-14.4-1.3-4.1-4.6 15.6z"/><path class="c34" d="M210.7 56.2l.3 3.6-.5-7.5 0-5.1z"/><path class="c4" d="M204.5 62.8l3.6-10.6-.8-6.6-4.1 12.7z"/><path class="c35" d="M192.3 83.1l1.3-.1-1.9-1.4-1.3 0z"/><path class="c11" d="M203.2 58.4l4.1-12.7-1.1-5.4-4.4 14.4z"/><path class="c20" d="M195.4 84.5l1.3-.4-1.9-1.4-1.3 .4z"/><path class="c73" d="M201.5 31.7l2.9-7.8-2.2-.1-2.8 7.6z"/><path class="c15" d="M198.7 85.6l1.4-.5-1.9-1.6-1.4 .6z"/><path class="c34" d="M166.3 48.5l2.3-5.5-2.9 6.8-2 4.1z"/><path class="c11" d="M208.6 60l2.1-3.8-.2-9-2.4 5z"/><path class="c55" d="M210.5 47.2l0 5.1-.8-6.3 .2-6.3z"/><path class="c56" d="M191 82.9l1.2 .3-1.8-1.6-1.2-.5z"/><path class="c41" d="M194.1 84.8l1.3-.3-1.9-1.5-1.3 .1z"/><path class="c10" d="M197.3 86.2l1.4-.5-1.9-1.5-1.3 .4z"/><path class="c33" d="M203.3 33.3l2.9-7.7-1.9-1.6-2.9 7.8z"/><path class="c36" d="M208.1 52.3l2.4-5-.6-7.6-2.6 6z"/><path class="c7" d="M192.8 84.8l1.3-.1-1.8-1.7-1.2-.3z"/><path class="c10" d="M195.9 86.7l1.4-.5-1.9-1.6-1.3 .3z"/><path class="c26" d="M204.9 36.2l2.9-7.4-1.5-3.2-2.9 7.7z"/><path class="c0" d="M165.5 56.5l3.3-12.4-2.6 4.4-2.9 10.2z"/><path class="c3" d="M189.9 81.9l1.1 1-1.8-1.8-1-1.5z"/><path class="c12" d="M207.3 45.7l2.6-6-.9-6.2-2.8 6.8z"/><path class="c19" d="M206.3 40.3l2.8-6.8-1.2-4.7-2.9 7.4z"/><path class="c10" d="M194.5 87.2l1.4-.5-1.8-1.9-1.3 .1z"/><path class="c75" d="M191.6 84.5l1.2 .4-1.8-2-1.1-1z"/><path class="c46" d="M166.4 66.2l3.3-12-2.1 .8-3.1 11z"/><path class="c17" d="M193.1 87.8l1.4-.5-1.7-2.4-1.2-.4z"/><path class="c76" d="M168.8 44.1l2.5-6.7-2.8 5.6-2.3 5.5z"/><path class="c9" d="M167.7 55l3.6-14.2-2.5 3.3-3.3 12.4z"/><path class="c3" d="M190.6 83l1 1.4-1.7-2.6-.8-2.8z"/><path class="c39" d="M191.7 88.3l1.4-.5-1.5-3.3-1-1.4z"/><path class="c46" d="M168.3 66.8l3.4-12.6-2 0-3.3 12z"/><path class="c1" d="M169.4 75.8l2.5-6.5-1.8-1.4-2.5 6.6z"/><path class="c2" d="M169.2 80.1l1.9-2.7-1.8-1.6-1.9 2.8z"/><path class="c42" d="M190.3 88.8l1.4-.6-1.1-5.3-.7-3.2z"/><path class="c46" d="M170.1 67.8l3.5-12.9-1.9-.7-3.4 12.6z"/><path class="c18" d="M171.2 77.4l2.5-6.3-1.7-1.8-2.5 6.5z"/><path class="c65" d="M189.9 79.8l.7 3.2-1.4-3.9-.2-5.7z"/><path class="c77" d="M169.7 54.3l3.9-15.6-2.3 2.2-3.6 14.2z"/><path class="c38" d="M171.3 40.8l2.7-7.7-2.7 4.3-2.5 6.7z"/><path class="c14" d="M171 81.7l1.9-2.6-1.8-1.8-1.9 2.7z"/><path class="c27" d="M172.9 79.2l2.5-5.9-1.7-2.2-2.5 6.3z"/><path class="c46" d="M171.9 69.2l3.6-12.8-1.8-1.5-3.5 12.9z"/><path class="c63" d="M188.8 89.4l1.5-.6-.4-9-.6-4z"/><path class="c17" d="M172.8 83.5l1.9-2.3-1.7-2-1.9 2.6z"/><path class="c24" d="M174.6 81.2l2.4-5.3-1.7-2.6-2.5 5.9z"/><path class="c20" d="M171.2 84.4l1.6-.9-1.8-1.8-1.6 .9z"/><path class="c6" d="M171.7 54.2l4.1-16.5-2.2 .9-3.9 15.6z"/><path class="c51" d="M173.7 71.1l3.5-12.2-1.7-2.3-3.6 12.8z"/><path class="c26" d="M176.5 30.2l.4 6.8-2.4 2.2-.5-6.1z"/><path class="c17" d="M174.6 85.5l1.8-2.1-1.7-2.3-1.9 2.3z"/><path class="c60" d="M176.4 83.5l2.3-4.5-1.6-3-2.4 5.3z"/><path class="c35" d="M187.3 90l1.5-.6 .5-13.5-1.1-1.5z"/><path class="c55" d="M189.3 75.9l.6 4-.9-6.4 0-7.1z"/><path class="c78" d="M173.6 38.7l2.9-8.5-2.5 2.9-2.7 7.7z"/><path class="c30" d="M175.4 73.3l3.4-11.4-1.6-3.1-3.5 12.2z"/><path class="c8" d="M172.9 86.4l1.6-.8-1.8-2-1.6 .9z"/><path class="c2" d="M178.1 86l2.1-3.5-1.5-3.5-2.3 4.5z"/><path class="c20" d="M176.3 87.7l1.8-1.7-1.7-2.5-1.8 2.1z"/><path class="c24" d="M185.9 90.5l1.5-.6 .9-15.6-2 2.9z"/><path class="c63" d="M177 75.9l3.2-10.1-1.5-3.9-3.4 11.4z"/><path class="c12" d="M173.7 55l4.2-16.9-2-.4-4.1 16.5z"/><path class="c17" d="M184.4 91.1l1.5-.6 .4-13.3-2.4 5.1z"/><path class="c44" d="M171.5 86.2l1.5 .1-1.8-1.9-1.4-.3z"/><path class="c10" d="M182.8 91.7l1.5-.6-.5-8.8-2.2 4.1z"/><path class="c17" d="M179.8 88.7l1.9-2.4-1.5-4-2.1 3.5z"/><path class="c10" d="M174.7 88.4l1.6-.8-1.8-2.1-1.6 .8z"/><path class="c44" d="M178.6 79l3-8.5-1.3-4.7-3.2 10.1z"/><path class="c10" d="M178.1 90l1.7-1.3-1.7-2.8-1.8 1.7z"/><path class="c27" d="M180.2 82.4l2.6-6.5-1.2-5.4-3 8.5z"/><path class="c50" d="M181.6 86.4l2.2-4.1-1-6.4-2.6 6.5z"/><path class="c10" d="M181.3 92.3l1.5-.6-1.2-5.3-1.9 2.4z"/><path class="c12" d="M175.5 56.5l4.3-16.7-1.9-1.7-4.2 16.9z"/><path class="c25" d="M173.2 88.5l1.5 0-1.8-2.1-1.5-.1z"/><path class="c10" d="M176.5 90.7l1.6-.7-1.8-2.3-1.6 .8z"/><path class="c40" d="M175.9 37.7l3-9-2.3 1.4-2.9 8.5z"/><path class="c13" d="M179.8 92.9l1.6-.6-1.6-3.5-1.7 1.3z"/><path class="c6" d="M188.2 74.3l1.1 1.5-.4-9.6-.8-3.1z"/><path class="c1" d="M183.8 82.3l2.4-5.1-.4-9.5-3 8.2z"/><path class="c12" d="M177.2 58.8l4.2-16-1.7-3-4.3 16.7z"/><path class="c13" d="M178.2 93.5l1.6-.6-1.7-2.9-1.6 .7z"/><path class="c17" d="M175 91l1.5-.3-1.8-2.3-1.5 0z"/><path class="c53" d="M186.2 77.2l2-2.9-.1-11.1-2.3 4.5z"/><path class="c74" d="M182.8 75.9l3-8.2-.7-8.1-3.5 10.8z"/><path class="c3" d="M171.9 87.4l1.3 1.1-1.8-2.3-1.2-1.7z"/><path class="c36" d="M178.8 61.9l4.1-14.7-1.4-4.4-4.2 16z"/><path class="c28" d="M181.6 70.5l3.5-10.8-1-6.8-3.8 13z"/><path class="c11" d="M180.3 65.8l3.8-13-1.2-5.6-4.1 14.7z"/><path class="c73" d="M177.9 38.1l3-9.2-2.1-.2-3 9z"/><path class="c13" d="M176.6 94.1l1.6-.6-1.7-2.7-1.5 .3z"/><path class="c34" d="M188.1 63.2l.8 3.1-.7-8.2-.6-4.4z"/><path class="c36" d="M119.4 81.8l2.1-3.4-1.6 1.1-2 2.2z"/><path class="c59" d="M173.5 90.6l1.4 .4-1.7-2.5-1.3-1.1z"/><path class="c3" d="M121.5 78.4l2.2-6.1-1.8 3.3-2.1 3.8z"/><path class="c11" d="M185.8 67.7l2.3-4.5-.5-9.5-2.6 5.9z"/><path class="c20" d="M175 94.7l1.6-.6-1.7-3.1-1.4-.4z"/><path class="c34" d="M187.6 53.8l.6 4.4-.9-6.9-.5-5.4z"/><path class="c33" d="M179.8 39.8l3.1-9.1-1.9-1.8-3 9.2z"/><path class="c55" d="M123.7 72.3l2.4-8.3-2.1 6.6-2.2 5.1z"/><path class="c34" d="M149.2 47.1l2.6-8.3-2.6 6.3-2.4 6.8z"/><path class="c36" d="M185.1 59.7l2.6-5.9-.8-8-2.8 7.1z"/><path class="c79" d="M148 58.7l3.4-15.2-2.3 3.6-3.1 13.3z"/><path class="c21" d="M121 82.1l2.1-4.3-1.7 .6-2.1 3.4z"/><path class="c3" d="M172.3 88.8l1.2 1.8-1.6-3.2-1-3.4z"/><path class="c26" d="M181.4 42.8l3-8.7-1.6-3.4-3.1 9.1z"/><path class="c25" d="M173.4 95.3l1.6-.6-1.5-4.1-1.2-1.8z"/><path class="c61" d="M126.1 64l2.3-6.4-2.3 9.1-2.1 3.9z"/><path class="c12" d="M184.1 52.8l2.8-7.1-1.1-6.6-2.9 8z"/><path class="c19" d="M182.9 47.2l2.9-8-1.3-5-3 8.7z"/><path class="c11" d="M148.8 70.5l3.2-12.8-1.9 .1-3.1 12.1z"/><path class="c9" d="M123.1 77.8l2.4-8-1.8 2.6-2.2 6.1z"/><path class="c29" d="M149.9 79.1l2.4-6-1.8-1.6-2.4 6z"/><path class="c39" d="M120.5 85.3l2.1-2.7-1.6-.5-2 2.3z"/><path class="c44" d="M171.7 95.9l1.6-.6-1.1-6.6-.9-3.7z"/><path class="c42" d="M122.6 82.7l2.2-5.2-1.7 .3-2.1 4.3z"/><path class="c11" d="M150.6 71.6l3.3-13-1.9-.8-3.2 12.8z"/><path class="c80" d="M150 57.8l3.7-16.7-2.2 2.4-3.4 15.2z"/><path class="c19" d="M154.3 33.9l1.1 5-2.4 4.1-1.2-4.2z"/><path class="c44" d="M151.6 81l2.4-5.8-1.7-2.1-2.4 6z"/><path class="c65" d="M171.4 85.1l.9 3.7-1.4-4.8-.5-6.6z"/><path class="c81" d="M125.5 69.8l2.6-11.1-2.1 5.4-2.4 8.3z"/><path class="c82" d="M151.5 43.5l2.8-9.6-2.5 4.9-2.6 8.3z"/><path class="c36" d="M124.8 77.5l2.5-9.6-1.8 1.9-2.4 8z"/><path class="c25" d="M122.1 86.4l2.1-3-1.6-.7-2.1 2.7z"/><path class="c5" d="M170.1 96.6l1.7-.6-.4-10.9-.9-4.1z"/><path class="c11" d="M152.3 73.2l3.3-12.9-1.8-1.7-3.3 13z"/><path class="c63" d="M124.2 83.4l2.3-5.8-1.7-.1-2.2 5.2z"/><path class="c14" d="M120.1 88.1l2-1.7-1.6-1-2 1.5z"/><path class="c1" d="M153.4 83.1l2.4-5.4-1.7-2.5-2.4 5.8z"/><path class="c34" d="M128.2 58.7l2.5-8.6-2.3 7.5-2.3 6.4z"/><path class="c9" d="M152 57.8l3.9-17.7-2.1 1-3.7 16.7z"/><path class="c36" d="M130.7 50.1l1.8 .8-2.3 7.2-1.8-.4z"/><path class="c27" d="M155.1 85.6l2.3-4.8-1.7-3-2.4 5.4z"/><path class="c24" d="M153.2 86.8l1.9-1.2-1.7-2.5-1.9 1.3z"/><path class="c4" d="M154.1 75.2l3.3-12.4-1.7-2.6-3.3 12.9z"/><path class="c25" d="M123.7 87.6l2.1-3.2-1.6-1-2.1 3z"/><path class="c18" d="M168.4 97.2l1.7-.6 .4-15.6-1.4-1.1z"/><path class="c17" d="M121.7 89.4l2-1.8-1.6-1.2-2 1.7z"/><path class="c83" d="M126.5 77.6l2.7-10.9-1.8 1.2-2.5 9.6z"/><path class="c63" d="M125.8 84.4l2.4-6.3-1.7-.5-2.3 5.8z"/><path class="c24" d="M156.8 88.5l2.3-4.1-1.6-3.5-2.3 4.8z"/><path class="c60" d="M154.9 89.6l1.9-1.1-1.7-2.8-1.9 1.2z"/><path class="c48" d="M155.8 77.8l3.2-11.5-1.6-3.5-3.3 12.4z"/><path class="c84" d="M127.3 67.9l2.9-13.5-2.1 4.3-2.6 11.1z"/><path class="c55" d="M170.5 80.9l.9 4.1-.9-7.8-.4-7.5z"/><path class="c52" d="M153.7 41.1l3-10.5-2.4 3.3-2.8 9.6z"/><path class="c24" d="M166.7 97.9l1.7-.6 .6-17.4-2.2 3.5z"/><path class="c60" d="M158.4 91.6l2.1-3.3-1.5-4-2.3 4.1z"/><path class="c17" d="M165 98.5l1.7-.7 .1-14.5-2.5 5.4z"/><path class="c30" d="M157.4 80.8l3.1-10.2-1.5-4.3-3.2 11.5z"/><path class="c24" d="M125.3 88.9l2.2-3.4-1.7-1.2-2.1 3.2z"/><path class="c9" d="M153.8 58.6l4-18.1-2-.4-3.9 17.7z"/><path class="c10" d="M163.3 99.2l1.7-.7-.7-9.8-2.3 4.2z"/><path class="c14" d="M156.6 92.6l1.8-1-1.7-3.2-1.9 1.1z"/><path class="c17" d="M123.3 90.7l2.1-1.8-1.6-1.3-2 1.8z"/><path class="c17" d="M160 95.2l2-2.2-1.5-4.6-2.1 3.3z"/><path class="c32" d="M159 84.3l2.9-8.6-1.4-5.2-3.1 10.2z"/><path class="c10" d="M161.5 99.8l1.8-.7-1.2-6.2-2 2.2z"/><path class="c32" d="M127.5 85.5l2.4-6.6-1.7-.9-2.4 6.3z"/><path class="c65" d="M153.4 88l1.5 1.5-1.7-2.7-1.5-2z"/><path class="c34" d="M170 69.8l.4 7.5-1.1-6.6 0-10.4z"/><path class="c24" d="M162 93l2.3-4.2-1.1-7-2.6 6.6z"/><path class="c54" d="M160.6 88.3l2.6-6.6-1.3-6-2.9 8.6z"/><path class="c20" d="M158.2 96.1l1.8-.9-1.6-3.6-1.8 1z"/><path class="c11" d="M128.2 78.1l2.8-11.9-1.8 .5-2.7 10.9z"/><path class="c20" d="M121.3 91.6l2-.9-1.6-1.4-2 .9z"/><path class="c10" d="M159.7 100.5l1.8-.7-1.5-4.6-1.8 .9z"/><path class="c9" d="M155 91.7l1.6 1-1.7-3.1-1.5-1.5z"/><path class="c9" d="M155.6 60.2l4-17.9-1.9-1.9-4 18.1z"/><path class="c24" d="M127 90.4l2.2-3.4-1.7-1.4-2.2 3.4z"/><path class="c20" d="M124.9 92.2l2.1-1.9-1.6-1.5-2.1 1.8z"/><path class="c1" d="M164.3 88.8l2.5-5.4-.6-10.4-3 8.8z"/><path class="c85" d="M155.8 40.1l3.1-11.2-2.3 1.7-3 10.5z"/><path class="c11" d="M169 79.8l1.4 1.1-.4-11.1-1.3-2.4z"/><path class="c34" d="M130.2 54.4l2.7-10.5-2.3 6.2-2.5 8.6z"/><path class="c35" d="M156.6 95.8l1.7 .3-1.6-3.4-1.6-1z"/><path class="c44" d="M129.2 86.9l2.4-6.8-1.7-1.3-2.4 6.6z"/><path class="c86" d="M129.2 66.7l3.1-15.5-2 3.2-2.9 13.5z"/><path class="c12" d="M132.9 43.9l1.9 1.1-2.3 5.9-1.8-.8z"/><path class="c20" d="M122.9 93.2l2-.9-1.6-1.5-2 .9z"/><path class="c10" d="M157.9 101.2l1.8-.7-1.5-4.4-1.7-.3z"/><path class="c12" d="M157.4 62.8l4-17.2-1.7-3.3-4 17.9z"/><path class="c74" d="M166.8 83.3l2.2-3.5-.3-12.4-2.5 5.5z"/><path class="c30" d="M163.2 81.7l3-8.8-.9-8.8-3.4 11.6z"/><path class="c11" d="M129.9 78.9l2.9-12.6-1.8-.2-2.8 11.9z"/><path class="c24" d="M128.7 92l2.2-3.4-1.7-1.6-2.2 3.4z"/><path class="c12" d="M159 66.3l3.9-15.8-1.5-4.8-4 17.2z"/><path class="c20" d="M126.6 93.9l2.1-1.9-1.7-1.6-2.1 1.9z"/><path class="c11" d="M161.9 75.7l3.4-11.6-1.1-7.5-3.7 14z"/><path class="c36" d="M160.5 70.6l3.7-14-1.3-6.2-3.9 15.8z"/><path class="c44" d="M130.9 88.6l2.5-6.7-1.7-1.7-2.4 6.8z"/><path class="c24" d="M156.1 101.9l1.8-.7-1.4-5.4-1.5-2z"/><path class="c40" d="M157.8 40.5l3.2-11.5-2.1-.1-3.1 11.2z"/><path class="c10" d="M124.5 94.8l2-.9-1.7-1.6-2 .9z"/><path class="c87" d="M168.7 67.4l1.3 2.4-.8-9.5-1.2-3.4z"/><path class="c71" d="M155.1 93.7l1.5 2-1.6-4.1-1.2-3.9z"/><path class="c60" d="M130.3 93.7l2.2-3.3-1.7-1.9-2.2 3.4z"/><path class="c11" d="M131.6 80.2l3-12.8-1.8-1-2.9 12.6z"/><path class="c11" d="M166.2 73l2.5-5.5-.6-10.6-2.8 7.3z"/><path class="c8" d="M128.3 95.6l2.1-1.9-1.7-1.8-2.1 1.9z"/><path class="c79" d="M131 66.1l3.3-17-2 2-3.1 15.5z"/><path class="c5" d="M132.5 90.4l2.5-6.5-1.7-2.1-2.5 6.7z"/><path class="c18" d="M122.5 94.8l2 0-1.6-1.6-2 0z"/><path class="c88" d="M168.1 56.9l1.2 3.4-1-8.1-1.1-4.4z"/><path class="c10" d="M126.2 96.5l2-.9-1.7-1.7-2 .9z"/><path class="c73" d="M159.7 42.3l3.3-11.3-1.9-2-3.2 11.5z"/><path class="c89" d="M132.3 51.1l2.9-12.1-2.2 4.8-2.7 10.5z"/><path class="c18" d="M154.3 102.6l1.8-.7-1-8.2-1.3-3.8z"/><path class="c2" d="M132 95.6l2.2-3.1-1.7-2.1-2.2 3.3z"/><path class="c36" d="M165.3 64.1l2.8-7.3-.9-9-3 8.8z"/><path class="c90" d="M133.3 81.9l3-12.7-1.8-1.8-3 12.8z"/><path class="c3" d="M90.3 88.8l2.2-4.5-1.4 1.9-2.2 2.9z"/><path class="c10" d="M130 97.4l2.1-1.8-1.7-1.9-2.1 1.9z"/><path class="c26" d="M135.2 39.1l1.9 1.3-2.2 4.6-1.9-1.1z"/><path class="c70" d="M167.2 47.8l1.1 4.4-1.2-6.6-1-5.1z"/><path class="c9" d="M88.1 91.1l2.2-2.3-1.4 .3-2.2 1.6z"/><path class="c35" d="M134.3 92.5l2.5-6.1-1.7-2.5-2.5 6.5z"/><path class="c33" d="M161.4 45.7l3.2-10.8-1.7-3.8-3.3 11.3z"/><path class="c91" d="M166 40.5l1 5.1-1.5-5.1-1-5.7z"/><path class="c65" d="M92.6 84.3l2.2-7.3-1.4 4.7-2.2 4.5z"/><path class="c39" d="M124.2 96.6l2-.1-1.7-1.7-2 0z"/><path class="c12" d="M164.2 56.6l3-8.8-1.2-7.4-3.1 10z"/><path class="c19" d="M162.9 50.4l3.1-10-1.4-5.6-3.2 10.8z"/><path class="c10" d="M127.9 98.3l2-.9-1.7-1.8-2 .9z"/><path class="c79" d="M132.8 66.4l3.4-18-2 .8-3.3 17z"/><path class="c55" d="M153.8 89.9l1.3 3.8-1.3-6-.9-7z"/><path class="c17" d="M133.8 97.7l2.2-2.9-1.7-2.3-2.2 3.1z"/><path class="c46" d="M135 83.9l3-12.2-1.7-2.6-3 12.7z"/><path class="c27" d="M136 94.8l2.4-5.5-1.7-2.9-2.5 6.1z"/><path class="c10" d="M131.7 99.4l2.1-1.7-1.7-2.1-2.1 1.8z"/><path class="c18" d="M152.4 103.3l1.9-.7-.5-12.7-1.4-3.5z"/><path class="c55" d="M94.8 77l2.3-8.1-1.5 7.8-2.2 5z"/><path class="c24" d="M125.9 98.5l2-.1-1.7-1.8-2 .1z"/><path class="c92" d="M89.5 91.7l2.3-2.9-1.4 0-2.2 2.3z"/><path class="c10" d="M129.6 100.3l2.1-.9-1.7-1.9-2 .9z"/><path class="c20" d="M135.5 99.9l2.2-2.5-1.7-2.5-2.2 2.9z"/><path class="c43" d="M136.7 86.4l3-11.4-1.7-3.4-3 12.2z"/><path class="c93" d="M91.7 88.8l2.3-5.8-1.4 1.3-2.2 4.5z"/><path class="c24" d="M137.7 97.3l2.4-4.7-1.7-3.3-2.4 5.5z"/><path class="c38" d="M134.3 49.1l3.1-13.3-2.2 3.3-2.9 12.1z"/><path class="c10" d="M133.4 101.4l2.1-1.5-1.7-2.2-2.1 1.7z"/><path class="c9" d="M134.6 67.3l3.5-18.4-1.9-.6-3.4 18z"/><path class="c22" d="M150.5 104l1.9-.7 0-17-1.9 .1z"/><path class="c74" d="M138.4 89.3l2.9-10.1-1.6-4.1-3 11.4z"/><path class="c2" d="M127.6 100.5l2-.2-1.7-1.9-2 .1z"/><path class="c73" d="M137.3 35.8l1.9 1.5-2.2 3.1-1.9-1.3z"/><path class="c14" d="M139.4 100.1l2.3-3.7-1.6-3.7-2.4 4.7z"/><path class="c84" d="M123.9 97.6l2 .9-1.7-1.9-2-1z"/><path class="c10" d="M137.3 102.2l2.1-2.1-1.7-2.8-2.2 2.5z"/><path class="c10" d="M131.4 102.3l2.1-.9-1.7-2.1-2.1 .9z"/><path class="c55" d="M94 83l2.3-9.7-1.5 3.7-2.2 7.3z"/><path class="c60" d="M148.6 104.8l1.9-.7 0-17.6-2.4 4.3z"/><path class="c29" d="M140.1 92.7l2.8-8.5-1.5-4.9-2.9 10.1z"/><path class="c17" d="M146.7 105.5l1.9-.7-.4-14-2.5 5.6z"/><path class="c10" d="M135.2 103.6l2.1-1.4-1.8-2.4-2.1 1.5z"/><path class="c42" d="M90.9 92.5l2.3-3.4-1.4-.3-2.3 2.9z"/><path class="c94" d="M152.4 86.4l1.4 3.5-1-9.1-1-6.6z"/><path class="c20" d="M141.1 103.2l2.2-2.5-1.6-4.3-2.3 3.7z"/><path class="c10" d="M144.7 106.3l2-.7-1-9.1-2.4 4.2z"/><path class="c27" d="M141.7 96.4l2.6-6.6-1.5-5.7-2.8 8.5z"/><path class="c9" d="M136.3 69.1l3.6-18.3-1.8-2-3.5 18.4z"/><path class="c60" d="M143.3 100.7l2.4-4.2-1.4-6.6-2.6 6.6z"/><path class="c18" d="M88.6 94l2.3-1.5-1.4-.8-2.3 1.4z"/><path class="c10" d="M139 104.8l2.1-1.6-1.7-3.1-2.1 2.1z"/><path class="c95" d="M93.2 89.1l2.3-6.9-1.5 .8-2.3 5.8z"/><path class="c17" d="M129.3 102.6l2-.3-1.7-2-2 .2z"/><path class="c10" d="M142.8 107l2-.8-1.5-5.6-2.2 2.5z"/><path class="c36" d="M125.6 99.8l2 .7-1.7-2-2-.9z"/><path class="c10" d="M133.1 104.5l2.1-.9-1.8-2.2-2.1 .9z"/><path class="c96" d="M136.2 48.3l3.2-14.1-2.1 1.6-3.1 13.3z"/><path class="c15" d="M137 105.9l2.1-1.1-1.8-2.5-2.1 1.4z"/><path class="c6" d="M138.1 71.7l3.6-17.5-1.7-3.3-3.6 18.3z"/><path class="c13" d="M140.8 107.8l2-.8-1.7-3.8-2.1 1.6z"/><path class="c18" d="M145.7 96.4l2.5-5.6-1-10-2.9 9z"/><path class="c97" d="M96.3 73.3l2.4-10.9-1.6 6.4-2.3 8.1z"/><path class="c34" d="M151.8 74.2l1 6.6-1.2-7.8-.8-9.2z"/><path class="c63" d="M92.3 93.5l2.3-3.8-1.5-.6-2.3 3.4z"/><path class="c68" d="M139.4 34.2l1.8 1.7-2.1 1.4-1.9-1.5z"/><path class="c10" d="M131.1 104.9l2-.4-1.8-2.2-2 .3z"/><path class="c42" d="M127.3 102.2l2 .4-1.7-2.1-2-.7z"/><path class="c6" d="M139.7 75.1l3.5-16.1-1.6-4.7-3.6 17.5z"/><path class="c13" d="M134.9 106.8l2.1-.8-1.8-2.3-2.1 .9z"/><path class="c74" d="M144.3 89.8l2.9-9-1.2-8.6-3.2 11.9z"/><path class="c39" d="M90 95.2l2.3-1.7-1.4-1-2.3 1.5z"/><path class="c51" d="M150.6 86.5l1.9-.1-.7-12.2-1.9-.3z"/><path class="c62" d="M95.4 82.2l2.4-11.7-1.5 2.8-2.3 9.7z"/><path class="c13" d="M138.7 108.6l2-.8-1.7-3-2.1 1.1z"/><path class="c36" d="M141.3 79.2l3.4-14.3-1.5-6-3.5 16.1z"/><path class="c4" d="M142.8 84.1l3.2-11.9-1.3-7.3-3.4 14.3z"/><path class="c63" d="M148.2 90.8l2.4-4.3-.7-12.6-2.7 6.9z"/><path class="c36" d="M94.6 89.7l2.3-7.8-1.5 .3-2.3 6.9z"/><path class="c3" d="M123.7 97.5l1.9 2.3-1.7-2.2-1.9-2.7z"/><path class="c75" d="M98.6 62.4l2.4-5.2-1.6 7.7-2.3 3.9z"/><path class="c85" d="M138.1 48.9l3.3-14.5-2-.2-3.2 14.1z"/><path class="c15" d="M132.8 107.3l2.1-.6-1.8-2.3-2 .4z"/><path class="c39" d="M129 104.8l2 .1-1.7-2.3-2-.4z"/><path class="c13" d="M136.7 109.4l2.1-.8-1.8-2.7-2.1 .8z"/><path class="c98" d="M93.8 94.7l2.3-4.1-1.5-.9-2.3 3.8z"/><path class="c3" d="M125.4 100.4l2 1.8-1.7-2.4-1.9-2.3z"/><path class="c24" d="M91.4 96.5l2.3-1.8-1.5-1.2-2.3 1.7z"/><path class="c99" d="M141.4 34.5l1.8 1.7-2-.3-1.8-1.7z"/><path class="c4" d="M147.2 80.8l2.7-6.9-.9-10.8-3 9.2z"/><path class="c36" d="M149.9 73.9l1.9 .3-.9-10.4-1.8-.7z"/><path class="c13" d="M134.6 110.1l2.1-.8-1.8-2.6-2.1 .6z"/><path class="c17" d="M130.8 107.6l2.1-.3-1.8-2.4-2-.1z"/><path class="c83" d="M96.1 90.6l2.4-8.5-1.5-.2-2.3 7.8z"/><path class="c37" d="M139.9 50.9l3.3-14.3-1.9-2.1-3.3 14.5z"/><path class="c84" d="M96.9 81.9l2.4-13.3-1.6 1.9-2.4 11.7z"/><path class="c84" d="M127.1 103.7l2 1.1-1.7-2.6-2-1.8z"/><path class="c34" d="M97.8 70.5l2.5-13.3-1.6 5.2-2.4 10.9z"/><path class="c44" d="M95.3 96.2l2.4-4.3-1.5-1.2-2.3 4.1z"/><path class="c36" d="M146 72.3l3-9.2-1.1-9.2-3.1 11.1z"/><path class="c91" d="M143.3 36.6l1.8 1.7-1.9-2.1-1.8-1.7z"/><path class="c50" d="M92.9 98l2.4-1.8-1.5-1.4-2.3 1.8z"/><path class="c33" d="M141.7 54.2l3.3-13.7-1.7-4-3.3 14.3z"/><path class="c13" d="M132.5 111l2.1-.8-1.8-2.8-2.1 .3z"/><path class="c12" d="M149 63.1l1.8 .7-1.1-8.9-1.8-1.1z"/><path class="c12" d="M144.7 65l3.1-11.1-1.3-7.5-3.3 12.6z"/><path class="c5" d="M128.7 107.2l2 .4-1.7-2.8-2-1.1z"/><path class="c19" d="M143.2 58.9l3.3-12.6-1.5-5.8-3.3 13.7z"/><path class="c59" d="M97.6 91.9l2.4-9-1.6-.8-2.4 8.5z"/><path class="c100" d="M145 40.5l1.8 1.6-1.7-3.8-1.8-1.7z"/><path class="c35" d="M90.5 98.3l2.4-.3-1.5-1.5-2.4 .3z"/><path class="c33" d="M147.9 53.9l1.8 1.1-1.3-7.3-1.8-1.4z"/><path class="c61" d="M57.5 98.4l2.4-2.9-.8 2.9-2.6 .7z"/><path class="c85" d="M146.5 46.3l1.8 1.4-1.5-5.6-1.8-1.6z"/><path class="c13" d="M130.4 111.8l2.1-.8-1.7-3.4-2-.4z"/><path class="c5" d="M96.8 97.8l2.4-4.4-1.5-1.5-2.4 4.3z"/><path class="c34" d="M100.3 57.2l2.4-6.3-1.7 6.3-2.4 5.2z"/><path class="c2" d="M94.4 99.7l2.4-1.9-1.5-1.6-2.4 1.8z"/><path class="c87" d="M98.5 82.1l2.5-14.6-1.6 1-2.4 13.3z"/><path class="c71" d="M125.2 100.4l1.9 3.3-1.7-3.2-1.8-4.6z"/><path class="c75" d="M126.7 105.6l2 1.6-1.7-3.6-1.9-3.3z"/><path class="c90" d="M99.2 93.4l2.5-9.1-1.6-1.4-2.4 9z"/><path class="c27" d="M92 99.9l2.4-.3-1.5-1.7-2.4 .3z"/><path class="c17" d="M128.2 112.6l2.2-.8-1.6-4.5-2-1.6z"/><path class="c16" d="M99.4 68.6l2.6-15.3-1.7 3.9-2.5 13.3z"/><path class="c1" d="M98.3 99.7l2.4-4.4-1.6-1.9-2.4 4.4z"/><path class="c2" d="M96 101.5l2.4-1.9-1.6-1.9-2.4 1.9z"/><path class="c79" d="M100 82.9l2.6-15.4-1.6 0-2.5 14.6z"/><path class="c3" d="M58.6 98.5l2.4-4.4-1 1.4-2.4 2.9z"/><path class="c46" d="M100.8 95.3l2.5-9.1-1.6-1.9-2.5 9.1z"/><path class="c24" d="M93.5 101.8l2.4-.3-1.5-1.9-2.4 .3z"/><path class="c65" d="M60.9 94.1l2.2-7.3-.8 4.1-2.3 4.6z"/><path class="c18" d="M99.9 101.7l2.4-4.2-1.6-2.2-2.4 4.4z"/><path class="c24" d="M126 113.4l2.2-.8-1.5-7-1.9-3.4z"/><path class="c17" d="M97.5 103.6l2.4-1.9-1.6-2.1-2.4 1.9z"/><path class="c65" d="M124.8 102.3l1.9 3.4-1.6-5.2-1.8-6.2z"/><path class="c70" d="M101.9 53.2l2.5-7.2-1.7 4.9-2.4 6.3z"/><path class="c55" d="M123.4 94.2l1.8 6.2-1.6-4.6-1.7-8.6z"/><path class="c43" d="M102.3 97.5l2.5-8.8-1.6-2.5-2.5 9.1z"/><path class="c50" d="M95.1 103.9l2.4-.3-1.6-2.1-2.4 .3z"/><path class="c101" d="M101.6 84.3l2.7-15.8-1.7-1-2.6 15.4z"/><path class="c47" d="M101 67.5l2.7-16.8-1.7 2.5-2.6 15.3z"/><path class="c3" d="M91.1 100.2l2.5 1.6-1.5-1.9-2.5-1.7z"/><path class="c27" d="M101.5 104l2.4-4-1.6-2.5-2.4 4.2z"/><path class="c17" d="M99.1 105.8l2.4-1.8-1.6-2.3-2.4 1.9z"/><path class="c61" d="M59.7 98.9l2.3-5.7-1.1 .8-2.4 4.4z"/><path class="c25" d="M123.8 114.3l2.2-.8-1.2-11.2-2-4z"/><path class="c42" d="M104 100.1l2.6-8.2-1.6-3.1-2.5 8.8z"/><path class="c2" d="M96.7 106.2l2.4-.4-1.6-2.3-2.4 .3z"/><path class="c24" d="M103.2 106.6l2.5-3.7-1.6-2.9-2.4 4z"/><path class="c0" d="M103.3 86.2l2.7-15.6-1.7-2.1-2.7 15.8z"/><path class="c102" d="M92.6 102.4l2.5 1.5-1.6-2.1-2.5-1.6z"/><path class="c55" d="M62 93.3l2.1-9.7-1 3.2-2.2 7.3z"/><path class="c17" d="M100.7 108.3l2.4-1.7-1.6-2.5-2.4 1.8z"/><path class="c32" d="M105.6 102.9l2.6-7.3-1.6-3.7-2.6 8.2z"/><path class="c67" d="M102.6 67.5l2.8-17.8-1.7 1-2.7 16.8z"/><path class="c24" d="M121.5 115.1l2.2-.9-.9-16-2.2-1.5z"/><path class="c2" d="M104.8 109.3l2.5-3.2-1.7-3.2-2.5 3.7z"/><path class="c91" d="M103.6 50.7l2.6-8-1.8 3.3-2.5 7.2z"/><path class="c75" d="M60.8 99.6l2.3-6.7-1.1 .4-2.3 5.7z"/><path class="c17" d="M98.3 108.8l2.4-.5-1.6-2.4-2.4 .4z"/><path class="c75" d="M122.9 98.3l2 4-1.4-8.1-1.8-7.4z"/><path class="c6" d="M104.9 88.8l2.8-15-1.7-3.2-2.7 15.6z"/><path class="c45" d="M94.2 104.9l2.5 1.3-1.6-2.3-2.5-1.5z"/><path class="c20" d="M102.4 110.9l2.4-1.6-1.6-2.8-2.4 1.7z"/><path class="c1" d="M107.3 106.1l2.6-6.3-1.6-4.3-2.6 7.3z"/><path class="c50" d="M119.3 116l2.3-.9-.8-18.4-2.5 2.9z"/><path class="c17" d="M106.5 112.3l2.5-2.7-1.7-3.6-2.5 3.2z"/><path class="c97" d="M64 83.6l2-12.7-.8 6.4-2.1 9.4z"/><path class="c36" d="M106.5 91.9l2.8-13.9-1.7-4.2-2.8 15z"/><path class="c97" d="M121.6 86.8l1.8 7.4-1.5-7-1.7-10.3z"/><path class="c24" d="M108.9 109.7l2.5-4.9-1.6-4.9-2.6 6.3z"/><path class="c17" d="M117 116.9l2.3-.9-1-16.3-2.6 5.6z"/><path class="c20" d="M99.9 111.5l2.5-.5-1.6-2.6-2.4 .5z"/><path class="c8" d="M114.6 117.8l2.3-.9-1.3-11.7-2.6 5.1z"/><path class="c59" d="M95.8 107.7l2.5 1-1.6-2.5-2.5-1.3z"/><path class="c10" d="M104 113.8l2.4-1.4-1.7-3-2.4 1.6z"/><path class="c55" d="M63.1 92.9l2-11.7-1.1 2.3-2.1 9.7z"/><path class="c34" d="M120.2 76.9l1.7 10.3-1.6-6-1.6-12.8z"/><path class="c78" d="M104.3 68.5l2.8-18.3-1.8-.6-2.8 17.8z"/><path class="c17" d="M110.6 113.7l2.5-3.3-1.6-5.6-2.5 4.9z"/><path class="c4" d="M108.2 95.6l2.8-12.4-1.6-5.3-2.8 13.9z"/><path class="c10" d="M108.2 115.6l2.4-2-1.7-4-2.5 2.7z"/><path class="c10" d="M112.2 118.7l2.4-.9-1.5-7.5-2.5 3.3z"/><path class="c45" d="M62 100.6l2.3-7.6-1.2-.1-2.3 6.7z"/><path class="c43" d="M109.8 99.9l2.7-10.4-1.6-6.3-2.8 12.4z"/><path class="c25" d="M113.1 110.3l2.6-5.1-1.5-8.5-2.7 8z"/><path class="c29" d="M111.5 104.7l2.7-8-1.6-7.3-2.7 10.4z"/><path class="c10" d="M101.6 114.4l2.5-.7-1.7-2.8-2.5 .5z"/><path class="c82" d="M105.4 49.7l2.6-8.4-1.8 1.5-2.6 8z"/><path class="c10" d="M105.7 116.9l2.4-1.2-1.7-3.3-2.4 1.4z"/><path class="c23" d="M109.8 119.6l2.4-.9-1.6-5-2.4 2z"/><path class="c98" d="M97.4 110.8l2.5 .7-1.6-2.7-2.5-1z"/><path class="c48" d="M120.7 96.8l2.2 1.5-1.3-11.5-2.1-3.3z"/><path class="c45" d="M106 70.6l2.9-18.1-1.7-2.2-2.8 18.3z"/><path class="c5" d="M115.6 105.2l2.6-5.6-1.3-11.8-2.8 8.9z"/><path class="c13" d="M107.4 120.6l2.4-.9-1.7-4-2.4 1.2z"/><path class="c10" d="M103.2 117.6l2.5-.8-1.7-3.1-2.5 .7z"/><path class="c65" d="M93.3 103.9l2.5 3.9-1.6-2.8-2.6-4.5z"/><path class="c53" d="M118.2 99.7l2.5-2.9-1.2-13.3-2.6 4.4z"/><path class="c25" d="M99.1 114.1l2.5 .3-1.7-2.9-2.5-.7z"/><path class="c79" d="M63.3 101.8l2.3-8.2-1.3-.6-2.3 7.6z"/><path class="c61" d="M64.3 93l2-13.3-1.1 1.5-2 11.7z"/><path class="c56" d="M107.6 73.8l2.9-17.3-1.7-3.9-2.9 18.1z"/><path class="c51" d="M114.1 96.8l2.8-8.9-1.5-10.1-2.9 11.7z"/><path class="c34" d="M65.1 81.3l1.9-15.5-1 5.1-2 12.7z"/><path class="c0" d="M119.5 83.5l2.1 3.3-1.4-9.9-2.1-4.8z"/><path class="c52" d="M107.1 50.2l2.7-8.6-1.8-.4-2.6 8.4z"/><path class="c13" d="M104.9 121.5l2.5-.9-1.7-3.7-2.5 .8z"/><path class="c65" d="M94.9 107.7l2.5 3-1.6-3.1-2.5-3.9z"/><path class="c9" d="M109.3 78l3-16-1.7-5.6-2.9 17.3z"/><path class="c20" d="M100.7 117.9l2.5-.2-1.7-3.2-2.5-.3z"/><path class="c36" d="M112.6 89.5l2.9-11.7-1.5-8.6-2.9 14.1z"/><path class="c6" d="M111 83.2l2.9-14.1-1.6-7.1-3 16z"/><path class="c4" d="M116.9 87.9l2.6-4.4-1.4-11.4-2.7 5.6z"/><path class="c94" d="M118.1 72.1l2.1 4.8-1.5-8.4-2.1-6.1z"/><path class="c9" d="M64.6 103.4l2.3-8.6-1.3-1.1-2.3 8.2z"/><path class="c84" d="M96.6 112.1l2.5 2-1.6-3.4-2.5-3z"/><path class="c13" d="M102.4 122.5l2.5-1-1.7-3.9-2.5 .2z"/><path class="c40" d="M108.9 52.5l2.7-8.6-1.8-2.3-2.7 8.6z"/><path class="c72" d="M65.5 93.6l1.9-14.5-1.2 .6-2 13.3z"/><path class="c70" d="M116.6 62.4l2.1 6.1-1.6-7-2.1-7.1z"/><path class="c91" d="M115 54.4l2.1 7.1-1.7-5.4-2.1-7.9z"/><path class="c44" d="M98.2 117l2.5 .8-1.7-3.7-2.5-2z"/><path class="c36" d="M115.4 77.8l2.7-5.6-1.5-9.7-2.7 6.7z"/><path class="c10" d="M99.9 123.4l2.5-1-1.7-4.6-2.5-.8z"/><path class="c34" d="M67 65.8l2.2-11.5-.9 7.3-2.2 9.4z"/><path class="c33" d="M110.6 56.4l2.7-8.2-1.7-4.3-2.7 8.6z"/><path class="c12" d="M65.9 105.2l2.3-8.8-1.4-1.6-2.3 8.6z"/><path class="c12" d="M113.9 69.1l2.7-6.7-1.6-8-2.7 7.6z"/><path class="c34" d="M66.2 79.7l1.8-17.8-1.1 3.8-1.9 15.5z"/><path class="c19" d="M112.3 62l2.7-7.6-1.7-6.2-2.7 8.2z"/><path class="c47" d="M66.9 94.7l2-15.3-1.3-.3-1.9 14.5z"/><path class="c17" d="M97.3 124.4l2.6-1-1.7-6.4-2.6-2.6z"/><path class="c65" d="M94 107l2.6 5.1-1.7-4.4-2.6-7.1z"/><path class="c36" d="M67.3 107.3l2.3-8.8-1.4-2.2-2.3 8.8z"/><path class="c56" d="M95.6 114.4l2.6 2.6-1.7-4.9-2.6-5.1z"/><path class="c103" d="M68.2 96.4l2-15.7-1.4-1.3-2 15.3z"/><path class="c3" d="M67.5 79.1l1.8-19.6-1.2 2.4-1.8 17.8z"/><path class="c90" d="M68.8 109.8l2.4-8.5-1.5-2.7-2.3 8.8z"/><path class="c24" d="M94.7 125.4l2.6-1-1.7-10-2.7-4.3z"/><path class="c70" d="M68.1 61.9l2.2-13.3-1.1 5.7-2.2 11.5z"/><path class="c33" d="M70.3 48.6l2.9 1.5-1.2 5.3-2.9-1.2z"/><path class="c92" d="M70.2 112.5l2.5-7.9-1.5-3.3-2.4 8.5z"/><path class="c87" d="M69.7 98.6l2.1-15.6-1.5-2.3-2 15.7z"/><path class="c45" d="M93 110.1l2.7 4.3-1.7-7.4-2.7-8.1z"/><path class="c24" d="M92 126.4l2.7-1-1.7-15.3-2.8-3.7z"/><path class="c16" d="M68.8 79.4l1.8-20.8-1.4 .9-1.8 19.6z"/><path class="c55" d="M91.2 99l2.7 8.1-1.7-6.4-2.8-11.2z"/><path class="c42" d="M71.7 115.6l2.5-7.2-1.6-3.8-2.5 7.9z"/><path class="c79" d="M71.2 101.3l2.2-15-1.6-3.3-2.1 15.6z"/><path class="c34" d="M89.5 89.4l2.8 11.2-1.7-5.6-2.9-13.9z"/><path class="c44" d="M73.3 118.9l2.6-6.2-1.6-4.4-2.5 7.2z"/><path class="c24" d="M89.3 127.5l2.7-1-1.8-20-2.8 .3z"/><path class="c6" d="M72.7 104.6l2.3-13.9-1.6-4.4-2.2 15z"/><path class="c91" d="M69.3 59.5l2.2-14.8-1.2 3.8-2.2 13.3z"/><path class="c89" d="M70.2 80.7l1.9-21.3-1.5-.8-1.8 20.8z"/><path class="c27" d="M74.9 122.6l2.7-4.9-1.7-4.9-2.6 6.2z"/><path class="c40" d="M71.5 44.8l3 1.7-1.3 3.6-2.9-1.5z"/><path class="c60" d="M86.6 128.5l2.7-1-1.9-20.8-2.7 4.9z"/><path class="c36" d="M74.3 108.4l2.4-12.4-1.7-5.3-2.3 13.9z"/><path class="c17" d="M83.9 129.6l2.8-1.1-2-16.9-2.7 6.5z"/><path class="c10" d="M81 130.6l2.8-1.1-1.9-11.5-2.7 5.2z"/><path class="c11" d="M90.2 106.4l2.8 3.7-1.8-11.1-2.9-7.1z"/><path class="c46" d="M75.9 112.8l2.5-10.4-1.7-6.3-2.4 12.4z"/><path class="c17" d="M76.5 126.7l2.8-3.4-1.7-5.6-2.7 4.9z"/><path class="c63" d="M77.6 117.7l2.6-8.1-1.8-7.3-2.5 10.4z"/><path class="c22" d="M79.3 123.3l2.7-5.2-1.8-8.4-2.6 8.1z"/><path class="c10" d="M78.2 131.7l2.9-1.1-1.8-7.3-2.8 3.4z"/><path class="c75" d="M71.7 83l2-21.1-1.6-2.5-1.9 21.3z"/><path class="c104" d="M70.7 58.6l2.3-15.7-1.4 1.8-2.2 14.8z"/><path class="c5" d="M82 118.1l2.7-6.5-1.9-12.3-2.6 10.3z"/><path class="c105" d="M88.4 91.8l2.9 7.1-1.8-9.6-3-10.1z"/><path class="c84" d="M73.3 86.3l2.1-20.2-1.7-4.2-2 21.1z"/><path class="c106" d="M72.9 43l3 1.9-1.4 1.7-3-1.7z"/><path class="c30" d="M87.4 106.7l2.8-.3-1.9-14.6-2.9-.2z"/><path class="c46" d="M80.2 109.7l2.6-10.3-1.9-10.6-2.5 13.6z"/><path class="c53" d="M84.7 111.6l2.7-4.9-1.9-15.1-2.7 7.7z"/><path class="c45" d="M75 90.7l2.2-18.6-1.8-5.9-2.1 20.2z"/><path class="c34" d="M86.5 79.2l3 10.1-1.8-8.2-3.1-12.7z"/><path class="c6" d="M78.4 102.4l2.5-13.6-1.9-9.1-2.3 16.4z"/><path class="c0" d="M76.7 96l2.3-16.4-1.8-7.5-2.2 18.6z"/><path class="c34" d="M84.6 68.5l3.1 12.7-1.8-6.8-3.2-14.8z"/><path class="c70" d="M82.7 59.5l3.2 14.8-1.7-5.4-3.3-16.3z"/><path class="c107" d="M72.1 59.4l2.3-16.1-1.5-.4-2.3 15.7z"/><path class="c91" d="M74.4 43.3l3.1 1.9-1.6-.4-3-1.9z"/><path class="c11" d="M85.5 91.6l2.9 .2-1.9-12.6-2.9-.7z"/><path class="c11" d="M82.8 99.3l2.7-7.7-1.9-13.1-2.7 10.2z"/><path class="c69" d="M73.7 61.9l2.4-16-1.7-2.6-2.3 16.1z"/><path class="c12" d="M80.9 88.7l2.7-10.2-1.9-11.2-2.6 12.3z"/><path class="c108" d="M76.1 46l3.1 1.9-1.7-2.6-3.1-1.9z"/><path class="c12" d="M83.5 78.5l2.9 .7-1.9-10.8-3-1.1z"/><path class="c96" d="M75.4 66.2l2.5-15.3-1.8-4.9-2.4 16z"/><path class="c9" d="M79 79.6l2.6-12.3-1.9-9.3-2.5 14z"/><path class="c40" d="M77.2 72.1l2.5-14-1.8-7.2-2.5 15.3z"/><path class="c85" d="M77.9 50.9l3.1 1.7-1.8-4.8-3.1-1.9z"/><path class="c19" d="M81.6 67.3l3 1.1-1.9-8.9-3-1.5z"/><path class="c33" d="M79.7 58.1l3 1.5-1.8-6.9-3.1-1.7z"/><path d="M93.6 103.9l1.1 2.1 .7 2.3 0 .7 .5 1.7-.5 2.3-.2 .6-1.6 1.4-2.4 1.3-2.7 1-3 .7-3.4 .2-.1 0-4.1-1.4-.7-.5-2.2-1.2-2.3-1.9-2-2-1.7-2-1.6-2-.2-.3M92 99.9l.1 .3 .3 2.4-.5 1.3-1.9 2-2 .8-.7 .2-.1 0-3.4 .1-2.9-.7-1.9-1-1.3-.6-2.5-1.8-2.1-1.9-1.8-1.9-1.6-1.9-1.5-1.9-1.3-1.9-1.2-1.9-1-1.9-.8-1.9-.4-2M124.6 98.4l.7 2.1 0 .1 0 2.3-.3 .3-1.7 1.4-2.1 1-2.5 .7-2.9 .3-.9 0-3.2-1-.6-.2-3-1.5-2.3-1.7-1.1-1-1.1-.7-2.1-1.7-1.9-1.7-1.6-1.7-1.5-1.7-1.3-1.8-1-1.8-.3-.8-.6-1-.8-1.8-.3-1.9 .1-.3 .4-1.7M154.6 90.5l.1 1.6 0 .6-.8 .9-1.5 1-1.9 .7-2.2 .4-2.4 0-.5-.1-3.1-.9-1.9-1-.8-.3-2.5-1.4-2.2-1.5-2-1.5-1.8-1.5-1.7-1.5-1.6-1.5-1.5-1.5-1.4-1.5-1.2-1.5-.9-1.6-.1-.4-.6-1.1 .1-1.5 0-.2M171.3 85.3l.5 1.4-.3 .5-1.2 1-1.6 .7-1.9 .4-2.4 .1-.4 0-3.4-1-.1 0-3.1-1.1-1.8-.9-1.7 0-1-.1M170.5 77.9l-.1 1.7-1 .6-.4 .2-.3 0-2 .1-2.8-.6-1.2-.4-1.8-.7-2.5-1.2-2.2-1.3-2-1.3-.9-.6-1-.7M189.9 80.4l-.8 1-1.3 .6-1.7 .4-2.2 0-.1 0-3.2-.9-.9-.4-1.7-.7-2.4-1.2-2.1-1.2-2-1.2-1.9-1.2M211.4 72.9l-.5 .9-1.1 .6-1.4 .4-2 0-.3 0-2.9-.9-.8-.3-1.7-.6-2.3-1-2.1-1.1-2-1.1-1.9-1.1-1.8-1.1-1.8-1.1M210.5 66.7l0 0-1.8 .1-2.5-.5-1-.4-1.6-.6-2.3-1-2.1-1-2-1.1-1.9-1.1-1.9-1.1-1.8-1.1-1.7-1.1-1.6-1.1M221.1 69.6l-.6 .7-1.1 .5-1.5 .2-1.7 0-.5-.1-2.6-.6-1-.4-2.2-.3M234.5 65.2l-.7 .6-1.1 .3-1.7 .1-.6 0-2.7-.8-.3-.1-2.1-.7-2.2-.9-2-.9M252.8 58.3l-.1 .6-.7 .4-1.2 .2-1.2-.1-1.1-.3-1.4-.4-2.2-.8-2-.8-1-.5-.9-.4-1.9-.8-1.9-.8-1.8-.8M89.9 91.9l-.7 2-.5 .6-2.7 1-1.9-.1-2.1-.4-2.1-.9-2.7-1.7-2.2-1.8 0 0-2-1.8-1.8-1.8-1.5-1.8-1.4-1.8-1.2-1.8-.9-1.8 0 0-.7-1.8-.3-1.9M123 92.2l.1 .6-.6 1.8-1.9 1.2-2.8 .3-3.3-.6-.7-.3-2.5-1.1-2.5-1.6-2.1-1.6-1.2-1-.8-.6-1.9-1.6-1.7-1.7-1.5-1.7-1.3-1.7-.4-.7-.8-1-1.1-1.7-.8-1.7-.1-1.4 0-.4M121.2 83.9l-.9 .9-.7 .5-1.3 .1-1.8 0-2.7-.9-2.8-1.4-.2-.1-2.2-1.4-2.1-1.6-1.9-1.6-1.7-1.6-1.6-1.6-1.4-1.6-1.2-1.6-.9-1.5-.1-.1-.5-1.7M153.2 84l-.8 1.5-1.8 .7-2.8-.1-2.1-.5-2.7-1.2-.2-.1-2.6-1.3-2.2-1.4-2-1.4-1.9-1.4-1.8-1.4-1.7-1.4-1.6-1.4-1.4-1.4-1.2-1.5-.9-1.5M151.9 75.9l-1.8 .7-1.1-.1-2.4-.5-1.4-.5-2.7-1.3-2.3-1.4-2.1-1.4-.4-.3-1.6-1.1-1.8-1.4-1.7-1.4-1.2-1.1-.3-.3-1.4-1.4-1.2-1.4-.9-1.4-.2-.7 .3-1M170 70.3l-1.2 .9-1.8-.1-1-.1-2.5-.8-2.6-1.2-1.2-.6-1.2-.6-2.2-1.2-2-1.3-1.9-1.3-1.8-1.3M189.2 73.1l-1 .8-2.1 .1-2.4-.5-1.5-.6-1.2-.5-2.4-1.1-2.2-1.2-2-1.2-1.9-1.2-1.9-1.2-1.8-1.2M188.8 64.3l-.2 .5-.4 .5-1.1 0-1.5-.2-2-.6-2.6-1.1-2-1-.3-.1-2.2-1.1-2-1.1-1.9-1.2-1.8-1.2-1.7-1.2M210.9 57.8l0 .4-.2 .5-1.4 0-.8-.1-2.4-.7-2.4-1-1.1-.5-1.1-.5-2.1-1-2-1-1.9-1-1.8-1-1.7-1-1.6-1-.7-.5-.8-.5-1.3-1.1-.7-.9M210.5 66.7l.6-.8M221.2 63l-.9 .5-2.1-.1-1.7-.4-2.5-.9-.1 0-2.3-.9M221.3 55.3l-.8 .6-1-.1-1.9-.4-1.2-.4-2.4-.9-2.2-.9-2.1-1M234.6 58.8l-1.3 .2-2.6-.5-.3-.1-2.2-.7-2.2-.9-2.1-.9-2-.9M234.9 51.5l-1.4 .1M253.3 52.4l-.5 .5-1.9-.2-1.1-.3-2.3-.7-1.8-.7-.3-.1-2-.8-1.9-.8-1.9-.8-1.8-.8-1.8-.8-1.7-.8M253.2 46.1l-.6-.1-2.1-.4-.6-.2-2.2-.7-2.1-.8-2-.8-1.9-.8-1.8-.8-1.8-.8-1.7-.8-1.7-.8M87.1 79l.2 .7 0 2.3-.3 .7-2.7 1-2-.4-2.8-.9-.9-.5-2.5-1.7-2.1-1.7-1.8-1.7-1.6-1.8-1.4-1.8-1.2-1.8-.9-1.8-.6-1.8M119.4 72.5l-.6 1.3-.5 .5-1.2-.1-2.4-.4-1.7-.7-2.6-1.4-2.2-1.5-2-1.5-1.8-1.5-1.6-1.5-1.4-1.5-1.2-1.6-.8-1.6-.2-.9 .8-.9M151 65.8l-1.7 .7-1.3-.3-3.3-1.1-.1 0-2.5-1.3-2.2-1.3-2-1.3-1.9-1.3-1.7-1.3-1.6-1.3-1.4-1.3-1.1-1.4M152 75.5l-.2-1.8M153.1 86.7l.8 1.9 0 .7M169.3 60.7l-.9 1-2-.3-1.5-.4-1.6-.6-2.5-1.2-2.2-1.2-2.1-1.2-1.9-1.2-1.8-1.2-1.7-1.2-1.5-1.2-1.3-1.3M187.8 55.1l.1 .7-.2 .5-1.2-.2-2.1-.4-1.1-.4-2.4-1.1-2.2-1.1-2.1-1.1-1.9-1.1-1.8-1.1-1.7-1.1-1.6-1.1-1.4-1.1-.5-.5-.1-.8 .1-.4M210.6 50.5l-1.5-.2-1.2-.2-1.8-.6-2.4-.9-2.2-1-2.1-1-2-1-1.9-1-1.7-1-1.6-1-1.5-1-.8-.7-.1-.4M221 47.3l-.5 .6-1.2-.2-2.7-.8-.1 0-2.3-.9-2.2-.9-2-.9M233.5 51.7l-2.7-.7-2.1-.8-.2-.1-2.2-.9-2.1-.9-2-.9-1.9-.9M235 44l-1.5 0-.2 0-2.4-.7-2.3-.8-2.1-.8-2-.8-1.9-.9-1.8-.9-1.8-.9M253.3 39.1l-.7-.1-2.5-.6-.8-.3-1.4-.5-2-.7-2-.8-1.9-.8-1.8-.8-1.7-.8-1.7-.8-1-.5-.5-.3-1.2-.8M84.9 70.1l-2.6 1-1.4-.4-3.2-1.4-1.7-1-.8-.6-1.9-1.7-1.6-1.7-1.4-1.7-1.1-1.7-.3-.6-.3-1.1 .1-1.8M89.9 91.3l-.6-2.2M116.6 62.7l-.1 0-4.1-1-.3-.1-2.2-1.3-2.1-1.4-1.8-1.5-1.6-1.5-1.4-1.5-1-1.4 0-.1 .5-1.8M121.1 82.3l-.9-1.9M149.7 55.2l-1.6 .7-.8-.2-3-1.1-2.5-1.2-.9-.5-1.2-.7-1.9-1.3-1.8-1.3-.9-.8-.6-.5-1.2-1.3-.8-1.4M168 50.6l0 .4-.4 .8-1.6-.4-3.1-1M187 47l-.6-.1-3.1-.9-1-.3-1.5-.7-2.2-1-2-1.1-1.9-1.1-1.7-1.1-1-.7-.4-.4-.8-1.2 0-.2M210.1 41.9l-1.1-.2-2.6-.6-.4-.1-2.3-.9-2.1-.9-2-.9-1.9-.9-1.8-.9-1.6-1-.2-.1-.7-.9-.1-.3M220.2 38.8l.1 .4-.1 .4-.8-.2-2.6-.8-2.3-.8-.8-.3-1.3-.5-2-.9-1.9-.9M234.6 36.2l-.7-.1-1.5-.2-1.4-.5-2.2-.8-2.1-.8-2-.8-1.9-.8-1.8-.8-1.6-.8-.9-.5 0-.4M84.9 69.8l-.4-2M116.7 62.6l.2-2-.1-.4M166.2 41.5l-.4-.1-2.8-1-2.4-1.1-2.1-1.1-1.8-1.1-1.5-1.1-1.1-1.2-.1-.2M252.8 31.8l-2.4-.7-2.2-.7-2-.7-1.9-.7-1.8-.7-1.7-.7-1.6-.8-1.4-.8-.1-.1M253 31.8l-1-.8M81.9 56.5l-2.3 1.2-2.6-1.4-2.2-1.5-1.8-1.6-1.4-1.6-.9-1.6-.4-1.6M113.8 50l-1-.3-2.7-1.3-2.1-1.3-1.5-1.4-.9-1.5-.1-.5M147.3 43.7l-1.2 .9-1.9-.8-2.3-1.2-2-1.2-1.8-1.2-1.5-1.2M162.9 50.5l-2.4-1.1-2.1-1.2-2-1.2-1.8-1.2-1.7-1.2-1.5-1.2M166.2 41.2l-.7-1.4M185.2 37l-1.6-.5-2.4-1-2.1-1-1.8-1-1.5-1-.7-.6M208.9 32.9l-2.4-.7-2.4-.8-2.1-.9-1.8-.9-1.6-.9-1.1-.9M217.7 29.6l.5 .4 .8 .9-2.1-.7-2.2-.8-2.1-.8-1.9-.9-1.7-.9M233.3 27.9l-1.9-.4-1.8-.5-.6-.2-2-.8-1.9-.8M242.4 20.8l1.1 .3 2.2 .6 2 .7 1.8 .7 1.6 .8 .6 .4-1-.3-2.1-.7-2-.7-1.9-.7-1.7-.7M61.2 93.3l.1 .6-.1 1.6 .5 2 .8 2 1 2 1.2 2 .2 .3M228.6 25.8l-2-.8-2.1-.7M211.3 26.9l-1-.3-2.6-.5M223.2 23.9l.5 .6 .9 .6M138.6 38.3l-2.8-.1M150.6 41.6l.1 .6 .7 1.3M153.6 42l-.9-.2M240.4 26.5l-2.4-.5M67.2 65.9l-.5 1.4M129.8 53l.3 1.5M63.8 83.7l-.1 1.2M98.4 66.6l-.9 .7M124.8 68.5l.6 1.5" class="ct"/><path d="M146.8 51.9l2.4-6.8 2.6-6.3 2.5-4.9 2.4-3.3 2.3-1.7 2.1 .1 1.9 2 1.7 3.8 1.4 5.6 1 5.1 1.2 6.6 1 8.1 .8 9.5 .4 7.5 .9 7.8 .9 3.7-1.4-4.8M168.6 43l2.8-5.6 2.7-4.3 2.5-2.9 2.3-1.4 2.1 .2 1.9 1.8 1.6 3.4 1.3 5 1.1 6.6 .8 8 .6 4.4 .7 8.2 .4 9.6 .6 4 .7 3.2 1 1.4-1.7-2.6M191.3 37.7l3-5.4 2.9-4.2 2.7-2.8 2.4-1.4 2.2 .1 1.9 1.6 1.5 3.2 1.2 4.7 .9 6.2 .6 7.6 .2 9 .3 3.6 .2 8.8 .2 3.8 .5 2.6-1.3-3.8M207.3 26.5l2.7-2.8 2.4-1.4 2.2 .1 1.8 1.6 1.5 3.1 1.2 4.5 .8 5.9 .4 2.9 .6 6.7 .3 7.9-.1 9.3 0 3.9 .1 3.4 .6 1.6M219.2 28.6l2.9-3.7 2.7-2.5 2.4-1.3 2.1 .1 1.8 1.4 1.5 2.8 1.1 4.2 .8 5.5 .4 6.7 0 8-.4 9.4 .1 3-.2 3.8M234.7 68.1l.7 .8-1.7-1.7M253.4 46.7l-.2 7.6-.4 3.7M253 62.1l.6 .3M89 89.1l2.2-2.9 2.2-4.5 1.4-4.7 2.3-8.1 1.6-6.4 1.6-5.2 2.4-6.3 1.7-4.9 1.8-3.3 1.8-1.5 1.8 .4 1.8 2.3 1.7 4.3 1.7 6.2 2.1 7.1 1.6 7 1.5 8.4 1.7 10.3 1.5 7 1.8 6.2-1.6-4.6M153.7 87.8l1.2 3.9-1.6-3.6M66 70.9l1-5.1 2.2-11.5 1.1-5.7 1.2-3.8 1.4-1.8 1.5 .4 3.1 1.9 1.7 2.6 1.8 4.8 1.8 6.9 1.9 8.9 3.1 12.7 1.8 8.2 2.8 11.2 2.6 7.1-1.6-3.9M152.8 80.8l-1.2-7.8M234.8 30l3.2-4.5 3-3.4 2.7-2.3 2.4-1.2 2.1 .1 1.8 1.3 1.4 2.6 1 3.8 .7 5 .3 6.1-.1 2.9M125.4 100.4l-1.7-2.9M150.8 63.8l-1.1-8.9-1.3-7.3-1.5-5.6-1.7-3.8-1.9-2.1-1.8-1.7-2-.2-2.1 1.6-2.2 3.3-2.2 4.8-2.3 6.2M94.2 104.9l-1.6-2.5M57.5 98.4l2.4-2.9 1-1.4 2.2-7.3 2.1-9.4M126.1 64l2.3-6.4M186.2 47.8l1.9-3.5M119.8 79.5l2.1-3.8 2.2-5.1" class="sl"/><path d="M38.7 100.8L34.5 101.9M37.2 88.6L32.8 89.6M35.6 75.7L31 76.6M33.8 62.1L29.2 62.9M32 47.6L27.2 48.3M30.1 32.3L25.1 32.8M60.1 138.6L55.3 140.5M54.6 128.8L49.9 130.4M49.4 119.7L44.9 121.2M44.7 111.4L40.3 112.7M40.4 103.7L36.1 104.9M81.1 136.1L82.4 138M152.1 107.9L153.7 109.3M200.9 88.5L202.5 89.6M236.5 74.4L238 75.3M263.6 63.7L265 64.4" stroke="#777" stroke-width=".5"/><text x="27" y="37.2" text-anchor="end" font-size="7.2" letter-spacing=".6" fill="#222" stroke="#222" stroke-width=".15">1.0</text><text x="28.2" y="52" text-anchor="end" font-size="7.2" letter-spacing=".6" fill="#222" stroke="#222" stroke-width=".15">0.8</text><text x="30" y="66.2" text-anchor="end" font-size="7.2" letter-spacing=".6" fill="#222" stroke="#222" stroke-width=".15">0.6</text><text x="32" y="80.8" text-anchor="end" font-size="7.2" letter-spacing=".6" fill="#222" stroke="#222" stroke-width=".15">0.4</text><text x="34" y="94.3" text-anchor="end" font-size="7.2" letter-spacing=".6" fill="#222" stroke="#222" stroke-width=".15">0.2</text><text x="35.5" y="106.3" text-anchor="end" font-size="7.2" letter-spacing=".6" fill="#222" stroke="#222" stroke-width=".15">0.0</text><text x="32.8" y="108.6" text-anchor="middle" font-size="7" fill="#333">40</text><text x="37.5" y="116.4" text-anchor="middle" font-size="7" fill="#333">30</text><text x="42" y="125.5" text-anchor="middle" font-size="7" fill="#333">20</text><text x="46.6" y="134.6" text-anchor="middle" font-size="7" fill="#333">10</text><text x="53.6" y="142.8" text-anchor="middle" font-size="7" fill="#333">0</text><text transform="translate(81.5 143.6) rotate(30)" text-anchor="middle" font-size="3.8" fill="#666">0</text><text transform="translate(150.6 116.6) rotate(30)" text-anchor="middle" font-size="3.8" fill="#666">50</text><text transform="translate(199.7 97.6) rotate(30)" text-anchor="middle" font-size="3.8" fill="#666">100</text><text transform="translate(234.8 83.6) rotate(30)" text-anchor="middle" font-size="3.8" fill="#666">150</text><text transform="translate(262.7 72.2) rotate(30)" text-anchor="middle" font-size="3.8" fill="#666">200</text><text transform="translate(12.3 67.1) rotate(-99.1)" text-anchor="middle" font-size="5.5" font-weight="bold" fill="#111">Normalized amplitude</text><text transform="translate(30.5 131.5) rotate(62.3)" text-anchor="middle" font-size="5.5" font-weight="bold" fill="#111">Waveguide width (mm)</text><text transform="translate(184.7 116.9) rotate(-22.1)" text-anchor="middle" font-size="5.5" font-weight="bold" fill="#111">Propagation distance (mm)</text><circle cx="88.9" cy="111.1" r="1" fill="#111"/><circle cx="89.1" cy="108" r="2" fill="#ff1a1a"/><circle cx="97.5" cy="98.9" r="1.4" fill="#e8202a"/><circle cx="102.9" cy="51.8" r="1.2" fill="#d42a36"/><circle cx="142.1" cy="75" r="1" fill="#111"/><circle cx="142.5" cy="71.4" r="1.8" fill="#ff1a1a"/><circle cx="149.8" cy="44.8" r="1.5" fill="#f01c24"/><circle cx="179.7" cy="75.3" r="1.2" fill="#d42a36"/><circle cx="185.8" cy="33" r="1.2" fill="#d42a36"/><circle cx="215" cy="25.3" r="1.2" fill="#d42a36"/><path d="M40.6 367.8L225 321.2M38.3 354.4L226.6 310.8M36 340.3L228.3 299.9M33.5 325.6L230 288.6M54.3 377.4L44.1 307.9M106.5 363.2L103.5 298.1M151.2 351L153.2 289.9M189.8 340.5L195.4 282.9M268.6 346.3L225 321.2M271.4 334.7L226.6 310.8M274.3 322.6L228.3 299.9M277.3 310L230 288.6M261.5 354.7L275.2 294.8M252 348.9L264.3 290.3M243 343.4L254 286M234.5 338.2L244.4 282.1M226.5 333.3L235.3 278.4M62.9 423.4L261.5 354.7M57.7 412.3L252 348.9M52.8 402L243 343.4M48.4 392.6L234.5 338.2M44.3 383.8L226.5 333.3M78.9 423.9L54.3 377.4M138.8 402.6L106.5 363.2M188.5 385L151.2 351M230.3 370.1L189.8 340.5" stroke="#d6d6d6" stroke-width=".5" fill="none"/><path d="M42.7 380.5L30.9 310M30.9 310L231.8 276.9M223.4 331.4L231.8 276.9M231.8 276.9L280.4 296.9M280.4 296.9L266 357.4M42.7 380.5L65.4 428.7M65.4 428.7L266 357.4M266 357.4L223.4 331.4M42.7 380.5L223.4 331.4" stroke="#8e8e8e" stroke-width=".6" fill="none"/><path class="c109" d="M227 312.8l2.9-8.4-2.5 3.9-2.7 7.2z"/><path class="c110" d="M239.8 332.4l1.6-.6-1.1-4.8-1.6 .5z"/><path class="c111" d="M238.2 333l1.7-.7-1.1-4.9-1.8 1.6z"/><path class="c112" d="M227.3 324.7l3.2-10.1-1.5-2.2-3.2 10.5z"/><path class="c113" d="M236.5 333.7l1.7-.7-1.2-4-2 2.6z"/><path class="c114" d="M234.9 334.4l1.7-.7-1.6-2.1-1.9 1.7z"/><path class="c115" d="M229.7 332.7l2.7-6.5-.8-6.9-3 8.8z"/><path class="c116" d="M240.1 333.4l1.8-1.4-2.1 .4-1.7 .7z"/><path class="c117" d="M229.9 304.4l2.6-6.2-2.6 4.7-2.4 5.3z"/><path class="c118" d="M228.6 328.1l3-8.8-1.1-4.7-3.2 10.1z"/><path class="c119" d="M233.1 333.4l1.9-1.7 0-11.1-2.5 5.7z"/><path class="c120" d="M238.8 327.5l1.6-.5 .5-13.6-1.7 .6z"/><path class="c121" d="M238.3 334.8l1.8-1.4-1.9-.4-1.7 .7z"/><path class="c122" d="M233.2 334.8l1.6-.4-1.8-1.1-1.6 .4z"/><path class="c123" d="M234.9 331.6l2-2.6 .3-12.7-2.3 4.2z"/><path class="c124" d="M236.9 329.1l1.8-1.6 .4-13.6-2 2.4z"/><path class="c125" d="M228.9 312.5l3-8.8-2 .8-2.9 8.4z"/><path class="c126" d="M232.5 298.2l2.2-3.5-2.7 5.2-2.1 3.1z"/><path class="c127" d="M236.6 335.5l1.7-.7-1.8-1.1-1.7 .7z"/><path class="c128" d="M232.4 326.2l2.5-5.7-.5-8.6-2.8 7.4z"/><path class="c122" d="M235 335.9l1.6-.4-1.8-1.1-1.6 .4z"/><path class="c129" d="M230.5 314.7l3-8.5-1.5-2.5-3 8.8z"/><path class="c130" d="M231.6 319.3l2.8-7.4-1-5.7-3 8.5z"/><path class="c131" d="M231.9 303.7l2.7-6.5-2.1 1.1-2.6 6.2z"/><path class="c122" d="M233.3 336.4l1.7-.5-1.8-1.1-1.7 .5z"/><path class="c132" d="M234.9 320.6l2.3-4.2-.3-9.9-2.5 5.5z"/><path class="c133" d="M239.2 313.9l1.7-.6-.1-10.6-1.7 .6z"/><path class="c13" d="M237.2 316.4l2-2.4-.1-10.6-2.1 3.1z"/><path class="c134" d="M236.8 293.5l1.7-.6-2.2 1.3-1.7 .6z"/><path class="c135" d="M234.6 297.2l2.2-3.7-2.1 1.2-2.2 3.5z"/><path class="c116" d="M236.8 337l2.3-3.9-2.4 2.4-1.6 .4z"/><path class="c136" d="M239.1 333.1l2.5-5-3.2 6.7-1.7 .7z"/><path class="c137" d="M233.4 306.2l2.6-6.3-1.5-2.8-2.7 6.5z"/><path class="c122" d="M235.1 337.5l1.7-.5-1.8-1.1-1.7 .5z"/><path class="c138" d="M234.4 311.9l2.5-5.5-.9-6.5-2.6 6.3z"/><path class="c139" d="M239.1 303.4l1.7-.6-.8-7-1.7 .6z"/><path class="c140" d="M233.5 338.1l1.7-.6-1.8-1.1-1.7 .6z"/><path class="c141" d="M238.3 296.4l1.7-.6-1.5-2.9-1.7 .6z"/><path class="c142" d="M236.9 306.5l2.1-3.1-.8-7-2.2 3.6z"/><path class="c143" d="M236.1 299.9l2.2-3.6-1.5-2.9-2.2 3.7z"/><path class="c144" d="M237 338.6l1.9-1.8-2.1 .2-1.7 .5z"/><path class="c145" d="M238.9 336.8l3-7.7-2.8 4-2.3 3.9z"/><path class="c146" d="M235.3 339.2l1.7-.6-1.8-1.1-1.7 .6z"/><path class="c122" d="M233.6 339.5l1.7-.3-1.8-1.1-1.7 .3z"/><path class="c147" d="M241.9 329l2.8-6.5-3.1 5.6-2.5 5z"/><path class="c148" d="M238.8 339.7l2.3-3.9-2.2 1-1.9 1.8z"/><path class="c146" d="M237.1 340.3l1.7-.6-1.8-1.1-1.7 .6z"/><path class="c149" d="M244.7 322.5l2.5-4.8-3.4 6.7-2.3 3.7z"/><path class="c122" d="M235.4 340.6l1.7-.3-1.8-1.1-1.7 .3z"/><path class="c150" d="M241.1 335.8l3.3-8.9-2.5 2.2-3 7.7z"/><path class="c151" d="M240.7 340.8l2.5-4.6-2-.4-2.3 3.9z"/><path class="c146" d="M239 341.4l1.7-.6-1.9-1.1-1.7 .6z"/><path class="c152" d="M233.8 340.6l1.6 0-1.8-1.1-1.6 0z"/><path class="c153" d="M256.6 353.3l1.6-.5 .5-12.6-1.6 .6z"/><path class="c122" d="M237.3 341.8l1.7-.3-1.9-1.1-1.7 .3z"/><path class="c154" d="M242.5 342l2.3-3.9-1.8-1.8-2.5 4.6z"/><path class="c155" d="M240.8 342.6l1.7-.6-1.9-1.1-1.7 .6z"/><path class="c149" d="M244.4 326.9l3-7.5-2.7 3.2-2.8 6.5z"/><path class="c153" d="M255 353.9l1.6-.6 .5-12.6-1.9 1.5z"/><path class="c156" d="M243.1 336.2l3.4-9.4-2.1 0-3.3 8.9z"/><path class="c122" d="M235.7 341.8l1.6 0-1.9-1.1-1.6 0z"/><path class="c157" d="M253.4 354.4l1.6-.6 .3-11.6-2 2.4z"/><path class="c122" d="M239.2 342.9l1.7-.3-1.9-1.2-1.7 .3z"/><path class="c158" d="M251.7 355l1.6-.6-.1-9.8-2.2 3.1z"/><path class="c159" d="M244.3 343.9l2.1-2.6-1.5-3.2-2.3 3.9z"/><path class="c160" d="M242.6 344.5l1.7-.6-1.8-1.9-1.7 .6z"/><path class="c161" d="M250.1 355.6l1.7-.6-.7-7.2-2.2 3z"/><path class="c122" d="M234 342.1l1.7-.2-1.9-1.2-1.7 .2z"/><path class="c162" d="M247.4 319.4l2.7-5.6-2.9 3.9-2.5 4.8z"/><path class="c163" d="M244.9 338l3.3-9-1.7-2.2-3.4 9.4z"/><path class="c164" d="M245.8 347.1l1.8-1.3-1.3-4.5-2.1 2.6z"/><path class="c152" d="M237.6 343l1.6-.1-1.9-1.2-1.6 0z"/><path class="c165" d="M247.2 351.4l1.7-.5-1.2-5-1.8 1.3z"/><path class="c166" d="M248.4 356.1l1.7-.6-1.2-4.7-1.7 .5z"/><path class="c114" d="M248.8 350.8l2.2-3-.5-8.1-2.8 6.1z"/><path class="c167" d="M250.1 313.8l2.2-3.2-3 4.3-2.1 2.8z"/><path class="c168" d="M240.9 344.9l1.7-.4-1.8-1.9-1.7 .3z"/><path class="c169" d="M244.1 347.7l1.7-.6-1.5-3.2-1.7 .6z"/><path class="c170" d="M246.4 341.3l3.1-7.9-1.3-4.4-3.3 9z"/><path class="c154" d="M247.7 345.8l2.8-6.1-.9-6.3-3.1 7.9z"/><path class="c171" d="M246.5 326.8l3.1-7.9-2.2 .4-3 7.5z"/><path class="c172" d="M257.1 340.8l1.6-.6 .4-12.3-1.7 .6z"/><path class="c168" d="M245.5 352l1.7-.6-1.3-4.2-1.7 .6z"/><path class="c173" d="M251 347.8l2.2-3.1-.1-10.1-2.6 5.1z"/><path class="c174" d="M246.7 356.7l1.7-.6-1.2-4.8-1.7 .6z"/><path class="c122" d="M235.9 343.2l1.7-.3-1.9-1.2-1.7 .2z"/><path class="c161" d="M242.4 348.2l1.7-.4-1.5-3.2-1.7 .4z"/><path class="c175" d="M255.3 342.3l1.9-1.5 .4-12.3-2 2.3z"/><path class="c176" d="M212.1 315.5l1.3 3.5-1.1-5.6-1.2-4.1z"/><path class="c177" d="M253.2 344.7l2-2.4 .2-11.5-2.4 3.8z"/><path class="c178" d="M179.9 328.7l2.3-5.2-2.1 5.7-2.2 4z"/><path class="c116" d="M239.3 345.1l1.6-.2-1.8-2-1.6 .1z"/><path class="c179" d="M243.8 352.5l1.7-.5-1.3-4.2-1.7 .4z"/><path class="c166" d="M245 357.3l1.7-.6-1.2-4.8-1.7 .5z"/><path class="c122" d="M234.2 343.6l1.7-.4-1.9-1.2-1.7 .3z"/><path class="c180" d="M240.8 348.5l1.7-.3-1.5-3.3-1.6 .2z"/><path class="c181" d="M248.2 329l3.1-7.6-1.7-2.5-3.1 7.9z"/><path class="c182" d="M250.5 339.7l2.6-5.1-.6-7.9-2.9 6.6z"/><path class="c183" d="M237.6 345.4l1.7-.3-1.7-2.1-1.7 .3z"/><path class="c184" d="M249.6 318.9l2.8-5.8-2.3 .7-2.7 5.6z"/><path class="c158" d="M242.1 352.9l1.7-.4-1.3-4.3-1.7 .3z"/><path class="c166" d="M243.3 357.9l1.7-.6-1.2-4.8-1.7 .4z"/><path class="c181" d="M249.6 333.4l2.9-6.6-1.1-5.3-3.1 7.6z"/><path class="c185" d="M254.7 309.7l1.7-.6-2.4 .9-1.7 .6z"/><path class="c14" d="M252.4 313.1l2.3-3.4-2.4 .8-2.2 3.2z"/><path class="c183" d="M239.1 348.9l1.7-.4-1.5-3.4-1.7 .3z"/><path class="c186" d="M257.5 328.5l1.7-.6-.2-9.6-1.7 .6z"/><path class="c187" d="M235.9 345.8l1.7-.4-1.7-2.2-1.7 .4z"/><path class="c163" d="M253.1 334.6l2.4-3.8-.4-9-2.6 4.9z"/><path class="c179" d="M240.4 353.4l1.7-.5-1.3-4.4-1.7 .4z"/><path class="c188" d="M241.6 358.4l1.7-.6-1.2-4.9-1.7 .5z"/><path class="c189" d="M179.4 332.6l2.4-6.3-1.8 2.4-2.3 5.5z"/><path class="c190" d="M255.5 330.8l2-2.3-.2-9.6-2.2 2.9z"/><path class="c60" d="M210.7 312.6l1.4 2.9-1-6.3-1.3-3.5z"/><path class="c191" d="M251.3 321.4l2.7-5.6-1.7-2.7-2.8 5.8z"/><path class="c161" d="M237.4 349.4l1.7-.5-1.5-3.5-1.7 .4z"/><path class="c130" d="M252.5 326.7l2.6-4.9-1-6-2.7 5.6z"/><path class="c176" d="M209.7 321.3l1.6 1.6-.5-10.3-1.5-2.3z"/><path class="c192" d="M178.5 339.7l2.5-6.9-1.6-.2-2.4 6.6z"/><path class="c139" d="M256.3 312.6l1.7-.6-1.7-2.8-1.7 .6z"/><path class="c168" d="M238.7 353.9l1.7-.5-1.3-4.5-1.7 .5z"/><path class="c188" d="M239.9 359l1.7-.6-1.2-5-1.7 .5z"/><path class="c15" d="M257.2 318.9l1.7-.6-.9-6.4-1.7 .6z"/><path class="c137" d="M254.1 315.8l2.3-3.2-1.7-2.8-2.3 3.4z"/><path class="c193" d="M255.1 321.8l2.2-2.9-.9-6.4-2.3 3.2z"/><path class="c194" d="M181.8 326.2l2.4-6-1.9 3.2-2.3 5.2z"/><path class="c195" d="M204.4 335.4l1.8-.3 .1-15.4-1.8 .1z"/><path class="c157" d="M238.1 359.6l1.7-.6-1.2-5.1-1.7 .2z"/><path class="c153" d="M237 354.1l1.7-.2-1.3-4.6-1.3-2.1z"/><path class="c196" d="M236.1 347.3l1.3 2.1-1.5-3.6-1-4z"/><path class="c197" d="M180 341.5l2.5-6.7-1.5-2.1-2.5 6.9z"/><path class="c126" d="M209.2 310.3l1.5 2.3-1-6.9-1.5-2.8z"/><path class="c198" d="M202.5 336l1.9-.6 .1-15.6-1.9 .6z"/><path class="c135" d="M208.3 303l1.5 2.8-1.5-3-1.5-3z"/><path class="c109" d="M184.2 320.3l2.4-5.5-2 3.9-2.3 4.7z"/><path class="c199" d="M208 320.3l1.7 1.1-.5-11.1-1.6-1.6z"/><path class="c200" d="M181 332.8l2.5-6.7-1.7 .1-2.4 6.3z"/><path class="c154" d="M196.1 344.3l1.9-.5-1.4-4-2.1 1.9z"/><path class="c201" d="M236.4 360.2l1.8-.6-1.1-5.5-1.3-1.8z"/><path class="c198" d="M200.6 337l1.9-.9 0-15.6-2 1.2z"/><path class="c202" d="M181.4 344.1l2.4-5.4-1.3-3.9-2.5 6.7z"/><path class="c167" d="M186.6 314.8l2.4-4.8-2.1 4.6-2.3 4.2z"/><path class="c154" d="M194.1 345l1.9-.7-1.5-2.6-2.1 2.1z"/><path class="c203" d="M198.6 338.2l2-1.3-.1-15.3-2.1 1.8z"/><path class="c117" d="M206.3 319.8l1.7 .5-.4-11.6-1.7-.9z"/><path class="c204" d="M183 345.4l2-1-1.2-5.6-2.4 5.4z"/><path class="c205" d="M183.5 326.1l2.5-6.3-1.7 .4-2.4 6z"/><path class="c152" d="M235.6 352.3l1.3 1.8-.9-6.9-1-3.6z"/><path class="c200" d="M182.5 334.9l2.5-6.4-1.5-2.3-2.5 6.7z"/><path class="c169" d="M192.2 345.9l2-.9-1.7-1.2-2 .9z"/><path class="c178" d="M196.6 339.8l2-1.6-.2-14.7-2.1 2.4z"/><path class="c206" d="M207.6 308.6l1.6 1.6-1-7.3-1.6-2z"/><path class="c116" d="M181 346l2-.6-1.6-1.2-2 .6z"/><path class="c189" d="M194.6 341.7l2.1-1.9-.3-13.9-2.2 2.9z"/><path class="c150" d="M192.5 343.8l2.1-2.1-.4-12.9-2.2 3.4z"/><path class="c172" d="M190.5 344.6l2-.9-.6-11.7-2.3 3.8z"/><path class="c207" d="M234.6 360.8l1.8-.6-.7-7.9-1.4-1.7z"/><path class="c208" d="M206.7 301l1.6 2-1.5-3.1-1.6-2.1z"/><path class="c209" d="M188.6 345.4l2-.8-.9-8.7-2.3 4.1z"/><path class="c127" d="M185 344.4l2.3-4.4-1.1-6.9-2.4 5.6z"/><path class="c154" d="M186.6 346.1l2-.7-1.2-5.4-2.3 4.4z"/><path class="c210" d="M183.8 338.8l2.4-5.6-1.3-4.7-2.5 6.4z"/><path class="c148" d="M190.2 346.7l2-.8-1.6-1.2-2 .8z"/><path class="c197" d="M235.1 343.6l1 3.6-1.2-5.4-.8-5z"/><path class="c160" d="M184.6 346.6l2-.5-1.6-1.7-2 1z"/><path class="c60" d="M204.5 319.8l1.8-.1-.4-12-1.8-.1z"/><path class="c176" d="M185.9 319.9l2.4-5.7-1.8 .7-2.4 5.5z"/><path class="c210" d="M187.3 340l2.3-4.1-1-8-2.4 5.3z"/><path class="c195" d="M185 328.5l2.5-6-1.5-2.6-2.5 6.3z"/><path class="c183" d="M188.2 347.3l2-.7-1.6-1.2-2 .7z"/><path class="c121" d="M193.8 347.1l2.1-1.8-1.8-.3-2 .9z"/><path class="c211" d="M232.8 361.4l1.8-.6-.3-10.1-1.4-1.5z"/><path class="c121" d="M182.6 347.2l2-.7-1.6-1.2-2 .6z"/><path class="c212" d="M205.9 307.8l1.7 .9-.9-7.7-1.7-1.1z"/><path class="c198" d="M186.3 333.1l2.4-5.3-1.2-5.4-2.5 6z"/><path class="c60" d="M202.5 320.5l1.9-.6-.4-12.2-2 .7z"/><path class="c134" d="M205 299.8l1.7 1.1-1.5-3.2-1.7-1.2z"/><path class="c200" d="M189.6 335.9l2.3-3.8-.9-9.1-2.4 4.8z"/><path class="c122" d="M234.3 350.7l1.4 1.7-.6-8.7-1.1-3.4z"/><path class="c2" d="M188.4 314.2l2.4-5.1-1.8 .9-2.4 4.8z"/><path class="c148" d="M191.9 347.9l2-.8-1.7-1.2-2 .8z"/><path class="c146" d="M186.3 347.8l2-.5-1.6-1.2-2 .5z"/><path class="c117" d="M200.5 321.7l2-1.2-.4-12.2-2.1 1.5z"/><path class="c195" d="M191.9 332.1l2.2-3.4-.8-10.1-2.3 4.3z"/><path class="c125" d="M187.4 322.4l2.4-5.5-1.5-2.8-2.4 5.7z"/><path class="c211" d="M231 362l1.8-.6 0-12.2-1.5-1.3z"/><path class="c213" d="M190.8 309.1l2.3-4.3-1.9 1.1-2.3 4.1z"/><path class="c205" d="M188.7 327.9l2.4-4.8-1.2-6.1-2.4 5.5z"/><path class="c214" d="M198.5 323.5l2.1-1.8-.5-11.9-2.1 2.3z"/><path class="c215" d="M194.2 328.8l2.2-2.9-.7-10.9-2.3 3.7z"/><path class="c208" d="M204.1 307.6l1.8 .1-.9-7.9-1.8-.2z"/><path class="c183" d="M189.9 348.6l2-.7-1.7-1.2-2 .7z"/><path class="c125" d="M196.3 325.9l2.1-2.4-.6-11.5-2.2 3z"/><path class="c183" d="M184.2 348.5l2-.7-1.6-1.2-2 .7z"/><path class="c134" d="M197.6 298.6l2.1-1.7-2 1.5-2.1 1.6z"/><path class="c134" d="M203.1 299.6l1.8 .2-1.5-3.3-1.8-.3z"/><path class="c212" d="M193.1 304.7l2.3-3.5-1.9 1.3-2.2 3.4z"/><path class="c216" d="M195.4 301.2l2.2-2.6-1.9 1.4-2.2 2.5z"/><path class="c178" d="M234 340.2l1.1 3.4-.9-6.8-.9-4.8z"/><path class="c60" d="M189.9 316.9l2.4-4.9-1.5-3-2.4 5.1z"/><path class="c125" d="M191.1 323l2.3-4.3-1.1-6.7-2.4 4.9z"/><path class="c155" d="M187.9 349.1l2-.5-1.7-1.3-2 .5z"/><path class="c208" d="M202.1 308.3l2-.7-.9-8.1-2 .7z"/><path class="c122" d="M182.2 349.1l2-.6-1.6-1.3-2 .6z"/><path class="c217" d="M233.2 332.1l.9 4.8-1.3-4.7-.8-5.6z"/><path class="c153" d="M229.2 362.6l1.8-.6 .3-14.1-1.6-1z"/><path class="c210" d="M232.8 349.2l1.4 1.5-.3-10.4-1.2-3.1z"/><path class="c134" d="M201.2 300.3l2-.7-1.5-3.4-2 .7z"/><path class="c117" d="M193.4 318.7l2.3-3.7-1.1-7.2-2.3 4.2z"/><path class="c131" d="M192.3 312l2.3-4.2-1.5-3.1-2.3 4.3z"/><path class="c212" d="M200.1 309.8l2.1-1.5-.9-8-2.1 1.6z"/><path class="c183" d="M185.9 349.8l2-.7-1.6-1.3-2 .7z"/><path class="c131" d="M195.7 315l2.2-3-1-7.6-2.3 3.4z"/><path class="c134" d="M199.1 301.9l2.1-1.6-1.5-3.4-2.1 1.7z"/><path class="c206" d="M197.9 312l2.1-2.3-1-7.9-2.2 2.5z"/><path class="c135" d="M194.6 307.8l2.3-3.4-1.5-3.2-2.3 3.5z"/><path class="c218" d="M196.9 304.4l2.2-2.5-1.5-3.3-2.2 2.6z"/><path class="c153" d="M227.4 363.3l1.8-.6 .5-15.7-1.6-.7z"/><path class="c116" d="M191.7 348.4l2.4-4.8-2.3 4.3-2 .7z"/><path class="c144" d="M189.6 350.4l2.1-2-1.8 .2-2 .5z"/><path class="c121" d="M183.9 350.4l2-.6-1.6-1.3-2 .6z"/><path class="c189" d="M231.3 348l1.5 1.3-.1-12.1-1.3-2.7z"/><path class="c149" d="M232.8 337.1l1.2 3.1-.7-8.2-1-4.4z"/><path class="c183" d="M187.5 351.1l2-.7-1.7-1.3-2 .7z"/><path class="c152" d="M225.5 363.9l1.8-.6 .7-17-1.7-.4z"/><path class="c219" d="M232.2 327.7l1 4.4-1.2-5.5-.9-5.2z"/><path class="c121" d="M185.5 351.7l2-.6-1.7-1.3-2 .6z"/><path class="c122" d="M223.7 364.5l1.8-.6 .8-18-1.8 0z"/><path class="c116" d="M191.3 351.3l2.6-6.5-2.2 3.5-2.1 2z"/><path class="c183" d="M189.2 352.4l2.1-1-1.7-.9-2 .7z"/><path class="c200" d="M229.8 347l1.6 1 .2-13.6-1.4-2.3z"/><path class="c116" d="M183.5 352.1l2-.4-1.7-1.3-2 .4z"/><path class="c122" d="M221.8 365.1l1.9-.6 .9-18.6-1.9 .3z"/><path class="c192" d="M193.9 344.9l2.6-6.2-2.4 5-2.4 4.8z"/><path class="c220" d="M187.2 353l2-.6-1.7-1.3-2 .6z"/><path class="c215" d="M231.5 334.4l1.3 2.7-.6-9.4-1.1-3.9z"/><path class="c144" d="M220 365.8l1.9-.6 .9-18.9-1.9 .7z"/><path class="c146" d="M185.2 353.4l2-.4-1.7-1.3-2 .4z"/><path class="c198" d="M228.1 346.3l1.6 .7 .3-14.9-1.5-1.8z"/><path class="c200" d="M196.5 338.7l2.6-5.8-2.6 6.3-2.4 4.5z"/><path class="c116" d="M190.9 353.7l2.3-3.2-1.9 .8-2.1 1z"/><path class="c221" d="M231.1 323.8l1.1 3.9-1.1-6.3-1-4.6z"/><path class="c140" d="M218.1 366.4l1.9-.6 .8-18.9-2 1.1z"/><path class="c220" d="M188.9 354.3l2-.6-1.7-1.3-2 .6z"/><path class="c210" d="M193.2 350.5l2.8-7.4-2.1 1.8-2.6 6.5z"/><path class="c140" d="M216.2 367.1l1.9-.6 .7-18.5-2.1 1.4z"/><path class="c125" d="M230.1 332.1l1.4 2.3-.4-10.6-1.3-3.3z"/><path class="c222" d="M226.4 345.9l1.7 .4 .5-15.9-1.6-1.2z"/><path class="c146" d="M186.9 354.8l2-.4-1.7-1.3-2 .4z"/><path class="c140" d="M214.2 367.7l1.9-.7 .5-17.7-2.1 1.8z"/><path class="c223" d="M192.7 355l2.4-3.9-1.8-.6-2.3 3.2z"/><path class="c168" d="M190.6 355.7l2-.6-1.7-1.3-2 .6z"/><path class="c200" d="M196 343.1l2.8-7.1-2.2 2.7-2.6 6.2z"/><path class="c121" d="M184.8 355.4l2.1-.7-1.7-1.3-2.1 .7z"/><path class="c140" d="M212.3 368.4l1.9-.7 .3-16.5-2.2 2.1z"/><path class="c195" d="M224.6 345.9l1.8 0 .5-16.7-1.8-.6z"/><path class="c131" d="M229.8 320.5l1.3 3.3-1-7.1-1.2-4z"/><path class="c206" d="M228.9 312.7l1.2 4-1.7-3.1-1.2-4.2z"/><path class="c177" d="M195 351.1l2.8-7.8-1.9-.2-2.8 7.4z"/><path class="c155" d="M210.3 369l2-.7 .1-15.1-2.2 2.4z"/><path class="c146" d="M188.6 356.1l2-.4-1.7-1.4-2 .4z"/><path class="c224" d="M228.6 330.3l1.5 1.8-.3-11.6-1.4-2.6z"/><path class="c225" d="M194.4 356.4l2.3-3.2-1.7-2.1-2.4 3.9z"/><path class="c179" d="M208.4 369.7l2-.7-.2-13.4-2.3 2.7z"/><path class="c183" d="M192.4 357.1l2.1-.7-1.7-1.4-2 .6z"/><path class="c226" d="M198.8 336l2.7-6.7-2.4 3.6-2.6 5.8z"/><path class="c227" d="M222.7 346.2l1.9-.3 .6-17.3-1.9 .1z"/><path class="c183" d="M186.5 356.8l2.1-.7-1.7-1.4-2.1 .7z"/><path class="c168" d="M206.4 370.4l2-.7-.5-11.3-2.3 2.9z"/><path class="c165" d="M204.4 371.1l2-.7-.8-9.1-2.3 3.1z"/><path class="c228" d="M196.7 353.2l2.8-7.5-1.7-2.3-2.8 7.8z"/><path class="c159" d="M196.1 358.7l2.2-2-1.5-3.5-2.3 3.2z"/><path class="c146" d="M190.3 357.5l2-.5-1.7-1.4-2 .4z"/><path class="c203" d="M197.9 343.3l2.8-7.5-2 .1-2.8 7.1z"/><path class="c205" d="M220.8 346.9l1.9-.7 .6-17.5-2 .7z"/><path class="c116" d="M184.4 357.4l2.1-.6-1.7-1.4-2.1 .5z"/><path class="c229" d="M202.4 371.7l2-.7-1.2-6.7-2.2 2.1z"/><path class="c125" d="M201.5 329.2l2.7-6.2-2.5 4.4-2.6 5.3z"/><path class="c230" d="M194 359.3l2.1-.7-1.7-2.3-2.1 .7z"/><path class="c196" d="M119.8 353.8l2.3-5.1-1.2 3.2-2.3 2.2z"/><path class="c60" d="M226.9 329.2l1.6 1.2-.2-12.5-1.6-1.8z"/><path class="c206" d="M228.4 317.9l1.4 2.6-.9-7.7-1.4-3.2z"/><path class="c164" d="M197.6 362.4l2.1-.8-1.4-4.8-2.2 2z"/><path class="c231" d="M201.1 366.4l2.2-2.1-1-8-2.6 5.2z"/><path class="c232" d="M198.3 356.7l2.7-6.6-1.5-4.4-2.8 7.5z"/><path class="c208" d="M227.5 309.6l1.4 3.2-1.6-3.3-1.3-3.3z"/><path class="c233" d="M117.4 354l2.4-.2-1.2 .3-2.4 .3z"/><path class="c183" d="M188.2 358.2l2.1-.7-1.7-1.4-2.1 .7z"/><path class="c234" d="M199 367.1l2-.7-1.4-4.9-2.1 .8z"/><path class="c205" d="M218.8 348l2-1.1 .5-17.5-2.1 1.4z"/><path class="c225" d="M199.7 361.5l2.6-5.2-1.2-6.3-2.7 6.6z"/><path class="c161" d="M200.4 372.4l2-.7-1.3-5.3-2 .7z"/><path class="c235" d="M203.3 364.4l2.3-3.1-.8-9.8-2.6 4.9z"/><path class="c236" d="M192 359.9l2.1-.5-1.7-2.3-2 .5z"/><path class="c230" d="M195.5 363l2.1-.7-1.5-3.7-2.1 .7z"/><path class="c60" d="M204.2 323.1l2.6-5.5-2.6 5.2-2.5 4.8z"/><path class="c205" d="M216.7 349.4l2.1-1.4 .4-17.2-2.2 2.1z"/><path class="c123" d="M205.6 361.3l2.3-2.9-.5-11.5-2.5 4.6z"/><path class="c222" d="M199.6 345.7l2.8-7.2-1.7-2.6-2.8 7.5z"/><path class="c173" d="M207.9 358.4l2.3-2.7-.3-13.1-2.5 4.2z"/><path class="c237" d="M197 367.8l2.1-.7-1.4-4.7-2.1 .7z"/><path class="c127" d="M186.1 358.8l2.1-.6-1.7-1.4-2.1 .6z"/><path class="c238" d="M214.6 351.2l2.1-1.8 .3-16.5-2.3 2.7z"/><path class="c215" d="M200.7 335.8l2.8-7.1-2 .5-2.7 6.7z"/><path class="c161" d="M198.3 373.1l2-.7-1.3-5.3-2.1 .7z"/><path class="c156" d="M210.2 355.7l2.2-2.4-.1-14.5-2.5 3.8z"/><path class="c124" d="M212.4 353.3l2.2-2.1 .1-15.6-2.4 3.3z"/><path class="c14" d="M225.2 328.6l1.8 .6-.1-13.1-1.7-1z"/><path class="c126" d="M206.8 317.6l2.6-4.7-2.7 5.8-2.4 4.1z"/><path class="c232" d="M202.2 356.4l2.6-4.9-1.1-7.7-2.7 6.3z"/><path class="c111" d="M193.5 363.6l2.1-.6-1.5-3.7-2.1 .5z"/><path class="c239" d="M189.9 360.5l2.1-.7-1.7-2.3-2.1 .7z"/><path class="c228" d="M201 350.1l2.7-6.3-1.4-5.3-2.8 7.2z"/><path class="c208" d="M226.8 316l1.6 1.8-.9-8.3-1.5-2.3z"/><path class="c237" d="M194.9 368.4l2.1-.6-1.4-4.8-2.1 .6z"/><path class="c161" d="M196.3 373.8l2.1-.7-1.4-5.3-2.1 .6z"/><path class="c134" d="M226 307.3l1.5 2.3-1.6-3.5-1.5-2.4z"/><path class="c233" d="M118.7 355.4l2.4-1.1-1.3-.5-2.4 .2z"/><path class="c136" d="M121.1 354.3l2.3-7.1-1.2 1.5-2.3 5.1z"/><path class="c240" d="M204.8 351.5l2.5-4.6-.9-9-2.7 6z"/><path class="c111" d="M187.8 361.1l2.1-.6-1.7-2.3-2.1 .6z"/><path class="c230" d="M191.4 364.3l2.1-.7-1.5-3.7-2.1 .7z"/><path class="c14" d="M223.3 328.7l1.9-.1-.1-13.6-1.9-.1z"/><path class="c221" d="M203.5 328.8l2.8-6.5-2.1 .8-2.7 6.2z"/><path class="c241" d="M202.4 338.5l2.8-6.8-1.7-2.9-2.8 7.1z"/><path class="c234" d="M192.8 369.1l2.1-.7-1.4-4.8-2.1 .7z"/><path class="c161" d="M194.2 374.5l2.1-.7-1.4-5.4-2.1 .7z"/><path class="c149" d="M203.8 343.8l2.7-6-1.3-6.1-2.8 6.8z"/><path class="c242" d="M207.4 346.8l2.5-4.2-.7-10.3-2.7 5.5z"/><path class="c230" d="M189.3 364.9l2.1-.6-1.5-3.8-2.1 .6z"/><path class="c14" d="M221.3 329.4l2-.7-.1-13.8-2 .8z"/><path class="c216" d="M225.1 315l1.7 1-.8-8.7-1.7-1.3z"/><path class="c147" d="M123.3 347.2l2.3-6.8-1.3 2.4-2.3 5.9z"/><path class="c126" d="M206.3 322.3l2.7-5.8-2.2 1.1-2.6 5.5z"/><path class="c234" d="M190.7 369.8l2.1-.7-1.4-4.8-2.1 .6z"/><path class="c243" d="M192.1 375.2l2.1-.7-1.4-5.4-2.1 .7z"/><path class="c244" d="M224.3 306l1.7 1.3-1.6-3.7-1.7-1.4z"/><path class="c196" d="M120 356.8l2.4-1.8-1.3-.7-2.4 1.1z"/><path class="c245" d="M209.9 342.6l2.5-3.8-.6-11.3-2.6 4.9z"/><path class="c14" d="M219.2 330.8l2.1-1.4-.1-13.7-2.2 1.7z"/><path class="c125" d="M205.2 331.7l2.8-6.2-1.7-3.1-2.8 6.5z"/><path class="c215" d="M206.5 337.8l2.7-5.5-1.2-6.9-2.8 6.2z"/><path class="c162" d="M212.3 338.8l2.4-3.3-.4-12.3-2.5 4.2z"/><path class="c197" d="M122.3 355l2.3-7.4-1.3-.4-2.3 7.1z"/><path class="c117" d="M217 332.9l2.2-2.1-.2-13.5-2.3 2.6z"/><path class="c233" d="M117.6 357.7l2.4-.9-1.3-1.4-2.4 .8z"/><path class="c176" d="M214.7 335.6l2.3-2.7-.3-13-2.4 3.4z"/><path class="c135" d="M209 316.5l2.6-4.9-2.2 1.3-2.6 4.7z"/><path class="c161" d="M190 376l2.1-.7-1.4-5.4-2.1 .5z"/><path class="c134" d="M223.2 314.9l1.9 .1-.8-9-1.9-.3z"/><path class="c246" d="M188.6 370.3l2.1-.5-1.4-4.9-1.9-1.9z"/><path class="c149" d="M125.6 340.4l2.3-6.4-1.3 3.2-2.3 5.6z"/><path class="c152" d="M187.4 363l1.9 1.9-1.5-3.8-1.7-3.9z"/><path class="c206" d="M156.7 314.5l2.1 3.2-1.5-3.2-2.1-3.4z"/><path class="c218" d="M211.6 311.6l2.5-4-2.3 1.5-2.5 3.8z"/><path class="c247" d="M216.5 304.6l2.2-1.9-2.4 1.7-2.2 1.8z"/><path class="c247" d="M222.4 305.7l1.9 .3-1.6-3.8-1.9-.3z"/><path class="c14" d="M208 325.4l2.7-5.6-1.6-3.3-2.7 5.8z"/><path class="c244" d="M214.1 307.6l2.4-3-2.3 1.6-2.3 2.8z"/><path class="c248" d="M209.1 332.3l2.6-4.9-1.1-7.6-2.7 5.6z"/><path class="c233" d="M121.3 358.2l2.4-1.1-1.3-2.1-2.4 1.8z"/><path class="c134" d="M221.2 315.7l2-.8-.8-9.1-2.1 .8z"/><path class="c249" d="M187.8 376.7l2.1-.7-1.3-5.7-1.9-1.9z"/><path class="c197" d="M123.7 357.1l2.3-7.1-1.3-2.4-2.3 7.4z"/><path class="c215" d="M127.9 334l2.4-6-1.3 4-2.3 5.2z"/><path class="c60" d="M211.8 327.5l2.5-4.2-1-8.2-2.6 4.8z"/><path class="c200" d="M124.6 347.6l2.3-7.1-1.3 0-2.3 6.8z"/><path class="c233" d="M118.9 359.1l2.4-.9-1.3-1.4-2.4 .9z"/><path class="c247" d="M220.4 306.5l2.1-.8-1.6-3.8-2.1 .8z"/><path class="c250" d="M210.7 319.9l2.6-4.8-1.6-3.5-2.6 4.9z"/><path class="c218" d="M219 317.3l2.2-1.7-.8-9.1-2.2 1.9z"/><path class="c206" d="M214.3 323.3l2.4-3.4-.9-8.6-2.5 3.9z"/><path class="c212" d="M216.7 319.9l2.3-2.6-.9-9-2.4 2.9z"/><path class="c218" d="M213.3 315.1l2.5-3.9-1.6-3.7-2.5 4z"/><path class="c244" d="M218.1 308.4l2.2-1.9-1.6-3.8-2.2 1.9z"/><path class="c14" d="M154.7 332.2l2.2 .8-1.1-12.5-2.2-1.3z"/><path class="c152" d="M186.8 368.4l1.9 1.9-1.2-7.2-1.7-3.9z"/><path class="c165" d="M122.6 359.7l2.4-.2-1.3-2.4-2.4 1.1z"/><path class="c244" d="M215.8 311.3l2.4-2.9-1.6-3.8-2.4 3z"/><path class="c206" d="M155.8 320.4l2.2 2-1.3-7.9-2.2-2.5z"/><path class="c195" d="M146.6 351.6l2.3-1.2-1.1-17-2.4 1.6z"/><path class="c122" d="M125 359.5l2.3-5.2-1.4-4.3-2.3 7.1z"/><path class="c208" d="M154.6 312.1l2.2 2.5-1.5-3.4-2.2-2.6z"/><path class="c157" d="M185.7 377.4l2.1-.7-1.1-8.3-1.9-1.8z"/><path class="c251" d="M144.3 353.1l2.3-1.5-1.1-16.6-2.4 2.2z"/><path class="c241" d="M126.9 340.5l2.4-6.8-1.4 .3-2.3 6.4z"/><path class="c197" d="M185.7 359.1l1.7 3.9-1.3-5.8-1.6-5.5z"/><path class="c178" d="M126 350l2.3-6.9-1.4-2.6-2.3 7.1z"/><path class="c252" d="M184.5 351.8l1.6 5.5-1.5-4.1-1.5-6.4z"/><path class="c121" d="M120.2 360.6l2.4-.9-1.3-1.4-2.4 .9z"/><path class="c114" d="M126.4 360.9l2.4-.6-1.4-6.1-2.3 5.2z"/><path class="c178" d="M142 355l2.3-1.8-1.2-15.9-2.4 2.8z"/><path class="c189" d="M139.6 357.1l2.3-2.1-1.3-15-2.4 3.3z"/><path class="c253" d="M137.3 358.6l2.4-1.6-1.3-13.8-2.4 3.7z"/><path class="c254" d="M152.5 332l2.3 .2-1.1-13.1-2.3-.5z"/><path class="c209" d="M136.3 360.9l2.4-.8-1.4-1.5-2.4 .8z"/><path class="c121" d="M128.8 360.3l2.4-4.7-1.4-7.4-2.4 6.1z"/><path class="c148" d="M134.9 359.5l2.4-.8-1.4-11.7-2.4 4.1z"/><path class="c127" d="M123.9 361.1l2.4-.2-1.3-1.5-2.4 .2z"/><path class="c210" d="M127.4 354.3l2.4-6.1-1.4-5.1-2.3 6.9z"/><path class="c173" d="M132.5 360.9l2.4-1.4-1.4-8.4-2.4 4.5z"/><path class="c232" d="M130.1 362l2.4-1.1-1.4-5.3-2.4 4.7z"/><path class="c246" d="M183.5 378.1l2.2-.7-.9-10.8-2-1.6z"/><path class="c212" d="M153.6 319.1l2.2 1.3-1.3-8.4-2.2-1.6z"/><path class="c248" d="M129.3 333.7l2.4-6.3-1.4 .6-2.4 6z"/><path class="c148" d="M127.7 362.4l2.4-.4-1.4-1.7-2.4 .6z"/><path class="c173" d="M133.9 362.3l2.4-1.4-1.4-1.5-2.4 1.4z"/><path class="c218" d="M152.3 310.5l2.2 1.6-1.5-3.6-2.2-1.7z"/><path class="c116" d="M184.8 366.6l1.9 1.8-1-9.3-1.8-3.7z"/><path class="c195" d="M128.3 343.1l2.4-6.5-1.4-2.9-2.4 6.8z"/><path class="c253" d="M131.1 355.6l2.4-4.5-1.4-8.6-2.4 5.7z"/><path class="c14" d="M150.2 332.4l2.3-.4-1.1-13.4-2.3 .3z"/><path class="c160" d="M121.5 362l2.4-.9-1.3-1.5-2.4 .9z"/><path class="c236" d="M131.5 363.5l2.4-1.1-1.4-1.5-2.4 1.1z"/><path class="c198" d="M129.7 348.2l2.4-5.7-1.4-5.9-2.4 6.5z"/><path class="c127" d="M125.3 362.6l2.4-.2-1.4-1.5-2.4 .2z"/><path class="c255" d="M133.5 351.1l2.4-4.1-1.4-9.8-2.4 5.3z"/><path class="c60" d="M131.7 327.4l2.4-5.6-1.4 .9-2.4 5.4z"/><path class="c140" d="M181.4 378.9l2.2-.7-.7-13.1-2-1.4z"/><path class="c254" d="M147.8 333.4l2.3-1-1.2-13.5-2.4 1.1z"/><path class="c256" d="M151.3 318.6l2.3 .5-1.3-8.7-2.3-.7z"/><path class="c220" d="M129.1 363.9l2.4-.4-1.4-1.5-2.4 .4z"/><path class="c125" d="M130.7 336.6l2.4-6-1.4-3.1-2.4 6.3z"/><path class="c257" d="M135.4 363.8l2.4-1.4-1.4-1.5-2.4 1.4z"/><path class="c195" d="M135.9 347l2.4-3.7-1.4-10.9-2.4 4.8z"/><path class="c134" d="M150 309.7l2.3 .7-1.5-3.7-2.3-.8z"/><path class="c147" d="M183.9 355.4l1.8 3.7-1.2-7.3-1.7-5.2z"/><path class="c117" d="M145.5 335l2.4-1.6-1.2-13.3-2.4 1.9z"/><path class="c250" d="M134.1 321.8l2.4-4.9-1.5 1.1-2.4 4.7z"/><path class="c205" d="M132.1 342.5l2.4-5.3-1.4-6.6-2.4 6z"/><path class="c160" d="M122.8 363.5l2.5-.9-1.4-1.5-2.4 .9z"/><path class="c215" d="M138.3 343.2l2.4-3.3-1.3-11.8-2.4 4.2z"/><path class="c214" d="M143.1 337.2l2.4-2.2-1.3-13-2.4 2.7z"/><path class="c258" d="M140.7 340l2.4-2.8-1.3-12.5-2.4 3.5z"/><path class="c149" d="M182.8 346.6l1.7 5.2-1.4-5.1-1.6-6.2z"/><path class="c236" d="M132.9 365l2.4-1.1-1.4-1.5-2.4 1.1z"/><path class="c135" d="M136.5 316.9l2.4-4.1-1.5 1.3-2.4 3.9z"/><path class="c210" d="M182.8 365l2 1.6-.9-11.2-1.9-3.4z"/><path class="c140" d="M179.2 379.6l2.2-.7-.6-15.2-2.1-1.1z"/><path class="c256" d="M149 318.9l2.3-.3-1.3-8.9-2.3 .2z"/><path class="c216" d="M139 312.8l2.4-3.2-1.5 1.4-2.4 3z"/><path class="c127" d="M126.7 364.1l2.5-.2-1.4-1.5-2.4 .2z"/><path class="c117" d="M133.1 330.5l2.4-5.4-1.4-3.3-2.4 5.6z"/><path class="c244" d="M147.7 310l2.3-.2-1.5-3.8-2.3 .2z"/><path class="c258" d="M134.5 337.2l2.4-4.8-1.4-7.3-2.4 5.4z"/><path class="c168" d="M130.5 365.4l2.4-.4-1.4-1.5-2.4 .4z"/><path class="c256" d="M146.6 320.1l2.4-1.1-1.3-9-2.4 1.2z"/><path class="c131" d="M135.5 325.1l2.4-4.7-1.4-3.5-2.4 4.9z"/><path class="c117" d="M136.9 332.4l2.4-4.2-1.4-7.9-2.4 4.7z"/><path class="c160" d="M124.2 365.1l2.5-.9-1.4-1.5-2.5 .9z"/><path class="c244" d="M145.3 311.2l2.4-1.2-1.5-3.8-2.4 1.2z"/><path class="c155" d="M176.9 380.4l2.2-.8-.4-17.1-2.1-.8z"/><path class="c212" d="M144.2 322l2.4-1.9-1.4-8.9-2.4 2.2z"/><path class="c20" d="M139.4 328.2l2.4-3.5-1.4-8.3-2.4 3.9z"/><path class="c135" d="M138 320.4l2.4-3.9-1.5-3.6-2.4 4.1z"/><path class="c206" d="M141.8 324.7l2.4-2.7-1.4-8.7-2.4 3.1z"/><path class="c134" d="M142.9 313.3l2.4-2.2-1.5-3.8-2.4 2.2z"/><path class="c218" d="M140.4 316.4l2.4-3.1-1.5-3.7-2.4 3.2z"/><path class="c127" d="M128 365.7l2.5-.3-1.4-1.5-2.5 .2z"/><path class="c259" d="M121.7 366.2l2.5-1.1-1.4-1.5-2.5 1.1z"/><path class="c198" d="M182.1 352l1.9 3.4-1.1-8.8-1.8-4.9z"/><path class="c178" d="M180.8 363.6l2 1.4-.8-13-1.9-3.1z"/><path class="c116" d="M134.4 364.8l2.5-5.3-1.5 4.3-2.4 1.1z"/><path class="c127" d="M174.7 381.1l2.2-.8-.4-18.7-2.2-.5z"/><path class="c122" d="M131.9 367l2.5-2.1-1.4 .2-2.4 .4z"/><path class="c209" d="M125.6 366.6l2.5-.9-1.4-1.5-2.5 .9z"/><path class="c162" d="M181 341.7l1.8 4.9-1.4-6-1.7-5.8z"/><path class="c127" d="M129.5 367.2l2.5-.3-1.4-1.5-2.5 .3z"/><path class="c260" d="M123.1 367.7l2.5-1.1-1.4-1.5-2.5 1.1z"/><path class="c127" d="M172.5 381.9l2.3-.8-.3-19.9-2.3-.1z"/><path class="c251" d="M178.7 362.5l2.1 1.1-.7-14.7-2-2.6z"/><path class="c207" d="M53.6 373.5l2.8-.7-.1 3.8-2.8 .8z"/><path class="c209" d="M127 368.2l2.5-.9-1.4-1.6-2.5 .9z"/><path class="c121" d="M170.2 382.7l2.3-.8-.3-20.8-2.3 .2z"/><path class="c205" d="M180.1 348.9l1.9 3.1-1-10.3-1.9-4.4z"/><path class="c116" d="M133.4 368.3l2.5-7.1-1.5 3.7-2.5 2.1z"/><path class="c155" d="M130.9 368.8l2.5-.5-1.4-1.3-2.5 .3z"/><path class="c236" d="M124.5 369.3l2.5-1.1-1.4-1.6-2.5 1.1z"/><path class="c207" d="M50.8 374.3l2.8-.8-.1 3.9-2.8 .8z"/><path class="c168" d="M167.9 383.4l2.3-.8-.4-21.4-2.4 .6z"/><path class="c261" d="M135.9 361.1l2.5-6.9-1.6 5.3-2.5 5.3z"/><path class="c222" d="M176.6 361.7l2.1 .8-.6-16.3-2.1-2.1z"/><path class="c209" d="M128.4 369.8l2.5-1-1.4-1.6-2.5 .9z"/><path class="c199" d="M179.2 337.3l1.9 4.4-1.3-6.9-1.8-5.3z"/><path class="c168" d="M165.6 384.2l2.3-.8-.4-21.5-2.4 1z"/><path class="c236" d="M125.9 370.9l2.5-1.2-1.4-1.6-2.5 1.1z"/><path class="c116" d="M132.4 370.4l2.5-2.9-1.5 .7-2.5 .5z"/><path class="c125" d="M178.1 346.3l2 2.6-1-11.6-2-3.8z"/><path class="c183" d="M163.3 385l2.3-.8-.5-21.3-2.4 1.4z"/><path class="c210" d="M134.9 367.5l2.5-8.2-1.5 1.8-2.5 7.1z"/><path class="c227" d="M174.4 361.2l2.2 .5-.5-17.5-2.2-1.5z"/><path class="c260" d="M129.8 371.4l2.5-1-1.5-1.6-2.5 1z"/><path class="c122" d="M123.3 371.4l2.5-.5-1.4-1.6-2.5 .5z"/><path class="c183" d="M160.9 385.8l2.3-.8-.6-20.7-2.5 1.8z"/><path class="c257" d="M127.3 372.5l2.5-1.2-1.4-1.6-2.5 1.2z"/><path class="c153" d="M51 371.7l2.9-.9-.3 2.6-2.8 .8z"/><path class="c183" d="M158.5 386.6l2.4-.8-.8-19.7-2.5 2.1z"/><path class="c160" d="M133.8 372l2.5-3.7-1.5-.8-2.5 2.9z"/><path class="c131" d="M177.2 333.5l2 3.8-1.3-7.8-1.9-4.6z"/><path class="c135" d="M175.9 324.9l1.9 4.6-1.6-3.5-1.9-4.9z"/><path class="c205" d="M172.1 361.1l2.3 .1-.5-18.6-2.3-.9z"/><path class="c260" d="M131.3 373l2.5-1-1.5-1.6-2.5 1z"/><path class="c200" d="M137.4 359.4l2.6-7.9-1.6 2.8-2.5 6.9z"/><path class="c122" d="M124.7 372.5l2.6 .1-1.4-1.6-2.5 .5z"/><path class="c183" d="M156.2 387.4l2.4-.8-.9-18.4-2.5 2.5z"/><path class="c224" d="M176 344.1l2.1 2.1-.9-12.8-2.1-3.2z"/><path class="c189" d="M136.4 368.4l2.6-8.6-1.5-.4-2.5 8.2z"/><path class="c161" d="M153.7 388.2l2.4-.8-1-16.7-2.5 2.8z"/><path class="c236" d="M128.8 374.2l2.5-1.2-1.5-1.6-2.5 1.2z"/><path class="c215" d="M169.8 361.3l2.3-.2-.5-19.4-2.3-.2z"/><path class="c165" d="M151.3 389.1l2.4-.8-1.1-14.8-2.5 3.1z"/><path class="c114" d="M135.3 373.7l2.5-2.9-1.5-2.4-2.5 3.7z"/><path class="c241" d="M140 351.4l2.6-7.5-1.6 3.8-2.6 6.5z"/><path class="c236" d="M132.8 374.7l2.5-1-1.5-1.6-2.5 1z"/><path class="c229" d="M148.9 389.9l2.5-.8-1.3-12.6-2.6 3.3z"/><path class="c122" d="M126.2 373.4l2.6 .8-1.5-1.7-2.6-.1z"/><path class="c262" d="M146.4 390.7l2.5-.8-1.4-10.1-2.6 3.5z"/><path class="c263" d="M167.5 361.9l2.4-.6-.6-19.8-2.4 .5z"/><path class="c135" d="M175.1 330.3l2.1 3.2-1.3-8.6-2.1-3.8z"/><path class="c60" d="M173.8 342.6l2.2 1.5-.9-13.8-2.2-2.4z"/><path class="c264" d="M137.9 370.8l2.6-8.3-1.5-2.7-2.6 8.6z"/><path class="c196" d="M51.6 371.6l2.9-1-.6 .2-2.9 .9z"/><path class="c111" d="M130.2 375.9l2.6-1.2-1.5-1.7-2.5 1.2z"/><path class="c159" d="M136.8 376.5l2.5-1.7-1.5-4-2.5 2.9z"/><path class="c216" d="M173.9 321.1l2.1 3.8-1.6-3.8-2.1-4.1z"/><path class="c265" d="M143.9 391.6l2.5-.8-1.5-7.5-2.5 2.3z"/><path class="c198" d="M138.9 359.8l2.6-8.3-1.6 0-2.6 7.9z"/><path class="c248" d="M142.6 343.9l2.7-7-1.7 4.8-2.6 6z"/><path class="c154" d="M134.3 377.5l2.6-1-1.5-2.8-2.5 1z"/><path class="c263" d="M165.1 362.9l2.4-1-.6-20-2.5 1.2z"/><path class="c231" d="M142.4 385.6l2.5-2.3-1.4-8.8-2.6 5.7z"/><path class="c266" d="M138.4 380.8l2.5-.7-1.5-5.4-2.5 1.7z"/><path class="c267" d="M139.4 374.8l2.6-7.3-1.5-5-2.6 8.3z"/><path class="c239" d="M139.9 386.3l2.5-.7-1.5-5.4-2.5 .7z"/><path class="c164" d="M140.9 380.2l2.6-5.7-1.5-7-2.6 7.3z"/><path class="c268" d="M141.4 392.4l2.5-.9-1.5-6-2.5 .7z"/><path class="c269" d="M144.9 383.3l2.6-3.5-1.4-10.8-2.6 5.5z"/><path class="c116" d="M127.6 375.8l2.6 0-1.5-1.7-2.6-.8z"/><path class="c263" d="M162.6 364.3l2.4-1.4-.7-19.8-2.5 1.9z"/><path class="c154" d="M131.7 378.6l2.6-1.1-1.5-2.8-2.6 1.2z"/><path class="c231" d="M135.8 381.8l2.6-.9-1.5-4.3-2.6 1z"/><path class="c119" d="M147.5 379.8l2.6-3.3-1.3-12.7-2.6 5.2z"/><path class="c131" d="M171.6 341.7l2.3 .9-.9-14.7-2.3-1.5z"/><path class="c196" d="M55.4 372.3l2.3-5.5-.6 1.1-2.6 2.8z"/><path class="c263" d="M160.2 366.1l2.5-1.8-.8-19.3-2.6 2.6z"/><path class="c198" d="M140.5 362.5l2.7-8-1.6-3-2.6 8.3z"/><path class="c119" d="M150.1 376.5l2.5-3.1-1.2-14.5-2.6 4.8z"/><path class="c270" d="M137.3 387.2l2.5-.9-1.5-5.5-2.6 .9z"/><path class="c233" d="M52.5 373.3l2.9-1-.9-1.7-2.9 1z"/><path class="c268" d="M138.8 393.3l2.5-.9-1.5-6.1-2.5 .9z"/><path class="c109" d="M141.6 351.4l2.7-7.9-1.6 .4-2.6 7.5z"/><path class="c208" d="M173 327.9l2.2 2.4-1.3-9.3-2.2-2.9z"/><path class="c271" d="M157.7 368.2l2.5-2.1-.9-18.5-2.6 3.2z"/><path class="c272" d="M152.6 373.5l2.5-2.8-1.1-16.1-2.6 4.3z"/><path class="c273" d="M155.1 370.7l2.5-2.5-1-17.4-2.6 3.8z"/><path class="c274" d="M143.5 374.5l2.6-5.5-1.5-8.6-2.7 7.1z"/><path class="c275" d="M133.2 382.8l2.6-1-1.5-4.3-2.6 1.1z"/><path class="c239" d="M129.1 379.2l2.6-.6-1.5-2.7-2.6 0z"/><path class="c244" d="M171.7 318.1l2.2 2.9-1.6-4-2.2-3.1z"/><path class="c276" d="M142 367.5l2.7-7.1-1.5-5.9-2.7 8z"/><path class="c261" d="M57.7 366.8l2.1-7.2-.5 2-2.1 6.3z"/><path class="c277" d="M134.8 388.2l2.6-.9-1.5-5.5-2.6 1z"/><path class="c265" d="M136.3 394.2l2.6-.9-1.5-6.1-2.6 .9z"/><path class="c278" d="M169.2 341.5l2.3 .2-.9-15.3-2.4-.6z"/><path class="c279" d="M130.6 383.5l2.6-.7-1.5-4.2-2.6 .6z"/><path class="c280" d="M146.1 369l2.6-5.2-1.4-10.1-2.7 6.7z"/><path class="c233" d="M53.4 375l2.9-1.1-.9-1.7-2.9 1z"/><path class="c117" d="M144.2 343.5l2.7-7.3-1.7 .7-2.7 7z"/><path class="c205" d="M143.1 354.5l2.7-7.6-1.6-3.3-2.7 7.9z"/><path class="c136" d="M56.3 373.9l2.2-6.5-.8-.7-2.3 5.5z"/><path class="c270" d="M132.2 389l2.6-.8-1.5-5.4-2.6 .7z"/><path class="c265" d="M133.7 395l2.6-.9-1.5-6-2.6 .8z"/><path class="c134" d="M170.7 326.4l2.3 1.5-1.3-9.8-2.3-1.9z"/><path class="c195" d="M144.7 360.4l2.7-6.7-1.5-6.9-2.7 7.6z"/><path class="c278" d="M166.8 341.9l2.4-.5-.9-15.7-2.5 .3z"/><path class="c242" d="M148.8 363.8l2.6-4.8-1.4-11.4-2.7 6.2z"/><path class="c247" d="M169.4 316.2l2.3 1.9-1.6-4.2-2.3-2.1z"/><path class="c206" d="M93.8 329.4l3 3-1.4-3.6-3-3.2z"/><path class="c202" d="M126.4 373.9l2.7 5.3-1.5-3.4-2.7-6.7z"/><path class="c262" d="M131.1 395.9l2.6-.9-1.5-6.1-2.6 .1z"/><path class="c126" d="M146.9 336.2l2.7-6.6-1.7 1.1-2.7 6.3z"/><path class="c253" d="M58.5 367.5l2-7.6-.8-.4-2.1 7.2z"/><path class="c14" d="M164.3 343.1l2.5-1.2-1-15.8-2.5 1.3z"/><path class="c245" d="M151.4 359l2.6-4.3-1.3-12.7-2.7 5.6z"/><path class="c168" d="M129.6 389.1l2.6-.1-1.5-5.5-2.7-2.9z"/><path class="c233" d="M54.3 376.7l2.9-1.1-.9-1.7-2.9 1.1z"/><path class="c122" d="M128 380.6l2.7 2.9-1.5-4.3-2.7-5.3z"/><path class="c167" d="M145.8 346.8l2.7-7.1-1.6-3.6-2.7 7.3z"/><path class="c136" d="M57.3 375.6l2.3-5.6-1.1-2.6-2.2 6.5z"/><path class="c215" d="M147.3 353.7l2.7-6.2-1.5-7.8-2.7 7.1z"/><path class="c244" d="M168.3 325.8l2.4 .6-1.3-10.2-2.4-.9z"/><path class="c219" d="M154 354.6l2.6-3.8-1.2-13.8-2.7 4.9z"/><path class="c60" d="M161.8 345l2.5-1.9-1-15.7-2.6 2.3z"/><path class="c176" d="M156.7 350.8l2.6-3.2-1.2-14.6-2.7 4.1z"/><path class="c117" d="M159.3 347.6l2.6-2.6-1.1-15.3-2.6 3.2z"/><path class="c208" d="M149.7 329.6l2.7-5.8-1.8 1.3-2.7 5.5z"/><path class="c281" d="M167 315.3l2.4 .9-1.6-4.3-2.4-.9z"/><path class="c282" d="M128.5 396.8l2.6-.9-1.5-6.9-2.7-1.8z"/><path class="c149" d="M60.5 359.9l2.1-7.2-.8 0-2.1 6.9z"/><path class="c206" d="M92.5 336.1l3 1.8-1.7-8.5-3-2.2z"/><path class="c131" d="M148.5 339.8l2.7-6.4-1.6-3.8-2.7 6.6z"/><path class="c167" d="M150 347.5l2.7-5.6-1.5-8.5-2.7 6.4z"/><path class="c134" d="M152.4 323.8l2.7-4.8-1.8 1.6-2.7 4.6z"/><path class="c152" d="M58.2 377.4l2.7-2.9-1.3-4.4-2.3 5.6z"/><path class="c212" d="M90.8 327.2l3 2.2-1.4-3.8-3-2.4z"/><path class="c253" d="M59.6 370.1l2.1-7.3-1.1-2.9-2 7.6z"/><path class="c244" d="M165.9 326.1l2.5-.3-1.3-10.5-2.5 .3z"/><path class="c283" d="M55.3 378.5l2.9-1.1-1-1.7-2.9 1.1z"/><path class="c281" d="M157.7 315.2l2.6-2.6-1.9 1.9-2.6 2.5z"/><path class="c244" d="M155.1 318.9l2.7-3.8-1.9 1.8-2.6 3.6z"/><path class="c140" d="M126.9 387.2l2.7 1.8-1.6-8.4-2.7-4z"/><path class="c284" d="M164.6 315.6l2.5-.3-1.6-4.4-2.5 .2z"/><path class="c60" d="M152.7 341.9l2.7-4.9-1.4-9.2-2.7 5.6z"/><path class="c192" d="M60.9 374.5l2.2-6.4-1.5-5.3-2.1 7.3z"/><path class="c285" d="M125.8 397.7l2.7-.9-1.6-9.6-2.7-1.7z"/><path class="c286" d="M74.8 376.3l2.7-2.4-2.5-15.3-2.6 3.6z"/><path class="c206" d="M151.3 333.4l2.7-5.6-1.6-4-2.7 5.8z"/><path class="c244" d="M163.3 327.5l2.5-1.3-1.3-10.6-2.6 1.4z"/><path class="c210" d="M71.9 377.3l2.9-1-2.4-14.1-2.6 4.1z"/><path class="c148" d="M62.2 378.6l2.7-3-1.7-7.5-2.2 6.4z"/><path class="c225" d="M59.2 379.2l3-.6-1.3-4.1-2.7 2.9z"/><path class="c109" d="M62.7 352.7l2.2-6.7-.8 .3-2.2 6.4z"/><path class="c185" d="M155.4 337l2.7-4.1-1.4-9.8-2.7 4.6z"/><path class="c121" d="M69 377.9l2.9-.6-2.1-11-2.5 4.5z"/><path class="c218" d="M160.7 329.7l2.6-2.3-1.3-10.5-2.6 2.5z"/><path class="c281" d="M162 317l2.6-1.4-1.6-4.4-2.6 1.4z"/><path class="c149" d="M61.7 362.8l2.2-6.9-1.2-3.1-2.1 7.2z"/><path class="c210" d="M125.3 376.7l2.7 4-1.6-6.7-2.8-5.6z"/><path class="c113" d="M66.1 379.3l2.9-1.4-1.7-7.1-2.5 4.8z"/><path class="c212" d="M158.1 333l2.6-3.2-1.4-10.2-2.7 3.6z"/><path class="c212" d="M89.6 335.1l2.9 1-1.8-8.9-3-1.3z"/><path class="c216" d="M154 327.8l2.7-4.6-1.6-4.2-2.7 4.8z"/><path class="c189" d="M123.7 368.3l2.8 5.6-1.5-4.8-2.8-6.6z"/><path class="c216" d="M87.8 325.9l3 1.3-1.4-3.9-3-1.4z"/><path class="c154" d="M63.2 380.4l2.9-1.1-1.3-3.7-2.7 3z"/><path class="c210" d="M64.9 375.6l2.5-4.8-1.9-8.8-2.3 6.1z"/><path class="c236" d="M56.2 380.3l3-1.1-1-1.8-2.9 1.1z"/><path class="c287" d="M159.4 319.5l2.6-2.5-1.6-4.4-2.6 2.6z"/><path class="c244" d="M156.7 323.2l2.7-3.6-1.6-4.3-2.7 3.8z"/><path class="c17" d="M86 349.7l2.8-.7-2.2-14-2.9 .7z"/><path class="c200" d="M63.1 368.1l2.3-6.1-1.6-6.1-2.2 6.9z"/><path class="c167" d="M64.9 346l2.3-6.1-.8 .6-2.3 5.8z"/><path class="c285" d="M123.1 398.6l2.7-.9-1.6-12.2-2.8-1.5z"/><path class="c111" d="M67.2 381.1l2.9-1.4-1.1-1.8-2.9 1.4z"/><path class="c160" d="M60.2 380.9l3-.6-1-1.8-3 .6z"/><path class="c178" d="M67.3 370.8l2.5-4.5-2-10-2.4 5.7z"/><path class="c215" d="M63.9 355.8l2.3-6.5-1.2-3.3-2.2 6.7z"/><path class="c288" d="M83.2 351l2.8-1.3-2.2-14.1-2.8 1.5z"/><path class="c289" d="M124.2 385.5l2.7 1.7-1.6-10.5-2.8-3.7z"/><path class="c256" d="M86.7 334.9l2.9 .2-1.8-9.2-3-.4z"/><path class="c14" d="M67.2 339.9l2.5-5.4-.8 .8-2.4 5.1z"/><path class="c222" d="M69.8 366.3l2.6-4.1-2.1-11.1-2.5 5.2z"/><path class="c290" d="M84.8 325.5l3 .4-1.4-4-3-.4z"/><path class="c236" d="M64.2 382.2l3-1.1-1-1.8-2.9 1.1z"/><path class="c195" d="M65.4 362l2.4-5.7-1.7-6.9-2.3 6.5z"/><path class="c221" d="M80.4 352.9l2.8-1.9-2.3-13.9-2.8 2.3z"/><path class="c236" d="M57.2 382.1l3-1.1-1-1.8-3 1.1z"/><path class="c205" d="M72.4 362.2l2.6-3.6-2.2-12.1-2.5 4.6z"/><path class="c250" d="M69.7 334.5l2.6-4.6-.8 1.1-2.5 4.3z"/><path class="c282" d="M120.4 399.5l2.7-.9-1.7-14.6-2.8-1.2z"/><path class="c186" d="M77.7 355.5l2.7-2.5-2.3-13.5-2.7 3.1z"/><path class="c291" d="M75 358.6l2.7-3.1-2.2-12.9-2.6 3.9z"/><path class="c135" d="M72.3 329.9l2.7-3.6-.8 1.2-2.6 3.5z"/><path class="c214" d="M66.1 349.4l2.4-5.9-1.3-3.6-2.3 6.1z"/><path class="c292" d="M83.8 335.6l2.9-.7-1.8-9.4-2.9 .6z"/><path class="c162" d="M67.8 356.2l2.5-5.2-1.7-7.6-2.4 5.9z"/><path class="c160" d="M61.2 382.8l3.1-.6-1-1.8-3 .6z"/><path class="c134" d="M81.9 326.1l2.9-.6-1.4-4.1-2.9 .6z"/><path class="c200" d="M122.5 373l2.8 3.7-1.6-8.4-2.9-5.3z"/><path class="c14" d="M68.5 343.5l2.5-5.2-1.3-3.8-2.5 5.4z"/><path class="c212" d="M80.9 337.1l2.8-1.5-1.9-9.5-2.9 1.6z"/><path class="c214" d="M70.3 351.1l2.5-4.6-1.8-8.2-2.5 5.2z"/><path class="c257" d="M65.2 384l3-1.1-1.1-1.8-3 1.1z"/><path class="c161" d="M117.7 400.5l2.7-.9-1.8-16.7-2.8-1z"/><path class="c290" d="M79.1 327.7l2.9-1.6-1.4-4.1-2.8 1.6z"/><path class="c194" d="M120.8 363l2.9 5.3-1.6-5.8-2.9-6.3z"/><path class="c110" d="M121.4 384l2.8 1.5-1.7-12.6-2.9-3.4z"/><path class="c236" d="M58.1 383.9l3-1.1-1-1.8-3 1.1z"/><path class="c254" d="M72.8 346.5l2.6-3.9-1.8-8.7-2.6 4.4z"/><path class="c185" d="M71 338.3l2.6-4.4-1.4-3.9-2.6 4.6z"/><path class="c206" d="M78.2 339.4l2.8-2.3-1.9-9.3-2.8 2.6z"/><path class="c185" d="M75.5 342.6l2.7-3.1-1.9-9.1-2.7 3.5z"/><path class="c218" d="M76.3 330.3l2.8-2.6-1.4-4.1-2.8 2.7z"/><path class="c212" d="M73.6 333.9l2.7-3.5-1.4-4-2.7 3.6z"/><path class="c160" d="M62.2 384.6l3.1-.6-1-1.8-3.1 .6z"/><path class="c161" d="M114.9 401.4l2.8-.9-2-18.6-2.9-.6z"/><path class="c236" d="M59.1 385.8l3-1.2-1-1.9-3 1.1z"/><path class="c116" d="M66.3 385.9l2.5-5.5-.5 2.5-3 1.1z"/><path class="c120" d="M118.6 382.8l2.8 1.2-1.8-14.5-2.9-3z"/><path class="c149" d="M119.6 369.6l2.9 3.4-1.7-10-2.9-4.9z"/><path class="c165" d="M112.2 402.3l2.8-.9-2.1-20.2-2.9-.3z"/><path class="c160" d="M63.2 386.5l3.1-.6-1.1-1.9-3.1 .6z"/><path class="c167" d="M116.2 350.3l3 5.9-1.5-3.4-3-6.2z"/><path class="c219" d="M117.9 358.1l2.9 4.9-1.6-6.9-3-5.9z"/><path class="c257" d="M60.1 387.7l3-1.2-1-1.9-3 1.2z"/><path class="c165" d="M109.4 403.3l2.8-1-2.2-21.4-2.9 .1z"/><path class="c124" d="M115.7 381.8l2.8 1-1.9-16.2-3-2.5z"/><path class="c259" d="M106.5 404.3l2.8-1-2.4-22.3-2.9 .5z"/><path class="c116" d="M64.2 388.4l2.5-5.4-.5 2.9-3.1 .6z"/><path class="c205" d="M116.7 366.5l2.9 3-1.7-11.5-3-4.4z"/><path class="c236" d="M61.2 389.6l3.1-1.2-1-1.9-3 1.2z"/><path class="c259" d="M103.7 405.2l2.9-1-2.5-22.8-3 .9z"/><path class="c124" d="M112.8 381.2l2.9 .6-2-17.8-3-2z"/><path class="c131" d="M113.1 344.9l3.1 5.3-1.5-3.7-3.1-5.6z"/><path class="c117" d="M114.9 353.7l3 4.4-1.7-7.8-3.1-5.3z"/><path class="c169" d="M100.8 406.2l2.9-1-2.6-22.8-3 1.3z"/><path class="c111" d="M62.2 391.6l3.1-1.2-1.1-1.9-3.1 1.2z"/><path class="c116" d="M65.3 390.4l2.2-8.7-.7 1.3-2.5 5.4z"/><path class="c169" d="M97.9 407.2l2.9-1-2.7-22.5-3 1.7z"/><path class="c219" d="M113.7 364l3 2.5-1.8-12.9-3.1-3.8z"/><path class="c263" d="M109.9 380.9l2.9 .3-2.1-19.1-3-1.3z"/><path class="c169" d="M95 408.2l2.9-1-2.7-21.8-2.9 2.1z"/><path class="c259" d="M63.3 393.6l3-1.8-1-1.4-3.1 1.2z"/><path class="c147" d="M67.5 381.7l2.2-8.6-.6 2.4-2.3 7.5z"/><path class="c169" d="M92 409.2l3-1-2.7-20.6-2.9 2.5z"/><path class="c263" d="M107 381l2.9-.1-2.3-20.2-3.1-.6z"/><path class="c210" d="M66.3 391.8l2.1-9.3-1-.8-2.2 8.7z"/><path class="c131" d="M111.8 349.9l3.1 3.8-1.7-8.7-3.1-4.6z"/><path class="c135" d="M110 340.4l3.1 4.6-1.6-4-3.1-4.9z"/><path class="c237" d="M89 410.2l3-1-2.7-19.1-2.9 2.9z"/><path class="c167" d="M110.7 362.1l3 2-1.9-14.1-3.1-3z"/><path class="c237" d="M86 411.2l3-1-2.6-17.3-2.9 3.2z"/><path class="c114" d="M64.4 395.6l3.1-1.2-1.2-2.6-3 1.8z"/><path class="c293" d="M104.1 381.5l2.9-.5-2.4-20.9-3.1 .1z"/><path class="c294" d="M82.9 412.3l3.1-1-2.5-15.2-2.9 3.4z"/><path class="c253" d="M67.5 394.4l2.2-8.8-1.3-3.1-2.1 9.3z"/><path class="c295" d="M79.8 413.3l3.1-1-2.3-12.8-2.8 3.7z"/><path class="c200" d="M68.4 382.5l2.2-9-1-.4-2.2 8.6z"/><path class="c293" d="M101.1 382.4l3-.9-2.5-21.3-3.1 .8z"/><path class="c296" d="M76.7 414.4l3.1-1.1-2.1-10.1-2.8 3.9z"/><path class="c159" d="M65.6 398.8l3.2-1.2-1.3-3.3-3.1 1.2z"/><path class="c221" d="M107.7 360.7l3 1.3-2-15.2-3.1-2.2z"/><path class="c135" d="M108.7 346.9l3.1 3-1.8-9.6-3.2-3.7z"/><path class="c110" d="M68.8 397.6l2.5-6.8-1.5-5.3-2.2 8.8z"/><path class="c216" d="M106.8 336.6l3.2 3.7-1.6-4.3-3.2-4z"/><path class="c277" d="M73.6 415.4l3.1-1.1-1.8-7.3-3.1 1.6z"/><path class="c273" d="M98.1 383.7l3-1.3-2.6-21.4-3 1.6z"/><path class="c231" d="M71.9 408.6l3.1-1.6-2-9-2.8 4.5z"/><path class="c119" d="M70.2 402.5l2.8-4.5-1.8-7.2-2.5 6.8z"/><path class="c297" d="M67.1 403.7l3.2-1.2-1.5-4.9-3.2 1.2z"/><path class="c235" d="M75 407.1l2.8-3.9-2.2-11.2-2.6 6z"/><path class="c203" d="M69.7 385.6l2.3-8.7-1.3-3.4-2.2 9z"/><path class="c231" d="M68.7 409.8l3.2-1.1-1.6-6.1-3.2 1.2z"/><path class="c273" d="M95.2 385.4l3-1.7-2.6-21.1-3 2.3z"/><path class="c277" d="M70.4 416.5l3.2-1.1-1.7-6.8-3.2 1.1z"/><path class="c204" d="M77.8 403.2l2.8-3.7-2.4-13.2-2.7 5.7z"/><path class="c205" d="M70.7 373.5l2.3-8.7-1 0-2.3 8.2z"/><path class="c117" d="M104.6 360.1l3.1 .6-2.1-16-3.1-1.3z"/><path class="c171" d="M92.2 387.6l2.9-2.1-2.7-20.5-3 3.1z"/><path class="c151" d="M80.6 399.5l2.9-3.4-2.5-15.1-2.7 5.4z"/><path class="c151" d="M73 398.1l2.6-6-2-8.9-2.4 7.7z"/><path class="c298" d="M71.2 390.8l2.4-7.7-1.7-6.3-2.3 8.7z"/><path class="c267" d="M83.5 396.1l2.9-3.2-2.6-16.9-2.8 4.9z"/><path class="c171" d="M89.3 390.1l2.9-2.5-2.7-19.6-2.9 3.7z"/><path class="c299" d="M86.4 392.9l2.9-2.9-2.7-18.3-2.8 4.3z"/><path class="c256" d="M105.6 344.7l3.1 2.2-1.8-10.3-3.2-2.7z"/><path class="c244" d="M103.6 333.9l3.2 2.7-1.6-4.5-3.2-2.9z"/><path class="c240" d="M75.6 392l2.7-5.7-2.1-10.5-2.5 7.3z"/><path class="c167" d="M73 364.8l2.4-8.1-1 .4-2.4 7.7z"/><path class="c245" d="M72 376.8l2.4-8.4-1.4-3.7-2.3 8.7z"/><path class="c60" d="M101.6 360.2l3.1-.1-2.2-16.6-3.1-.3z"/><path class="c198" d="M73.7 383.1l2.5-7.3-1.8-7.3-2.4 8.4z"/><path class="c273" d="M78.3 386.3l2.7-5.4-2.2-12-2.6 6.9z"/><path class="c218" d="M102.4 343.4l3.1 1.3-1.9-10.8-3.2-1.7z"/><path class="c60" d="M98.5 361l3.1-.8-2.3-17-3.1 .8z"/><path class="c131" d="M75.4 356.7l2.6-7.4-1 .8-2.5 7z"/><path class="c247" d="M100.4 332.2l3.2 1.7-1.6-4.7-3.2-1.8z"/><path class="c176" d="M74.4 368.5l2.5-7.8-1.4-4-2.4 8.1z"/><path class="c241" d="M81 380.9l2.8-4.9-2.3-13.4-2.7 6.3z"/><path class="c205" d="M76.2 375.8l2.6-6.9-1.9-8.3-2.5 7.8z"/><path class="c117" d="M95.5 362.6l3-1.6-2.4-17.1-3.1 1.8z"/><path class="c215" d="M83.8 376.1l2.8-4.3-2.4-14.6-2.8 5.5z"/><path class="c206" d="M78 349.3l2.7-6.6-1 1.1-2.7 6.2z"/><path class="c221" d="M92.5 364.9l3-2.3-2.4-16.8-3 2.8z"/><path class="c218" d="M99.3 343.2l3.1 .3-2-11.2-3.2-.5z"/><path class="c219" d="M86.6 371.7l2.9-3.7-2.4-15.6-2.9 4.7z"/><path class="c167" d="M89.5 368l3-3.1-2.4-16.3-3 3.8z"/><path class="c2" d="M76.9 360.7l2.6-7.1-1.5-4.3-2.6 7.4z"/><path class="c281" d="M97.3 331.7l3.2 .5-1.6-4.8-3.2-.6z"/><path class="c125" d="M78.8 368.9l2.7-6.3-2-9.1-2.6 7.1z"/><path class="c216" d="M80.7 342.7l2.8-5.6-1 1.4-2.8 5.3z"/><path class="c134" d="M83.5 337.2l2.9-4.4-1.1 1.6-2.9 4.2z"/><path class="c216" d="M96.1 344l3.1-.8-2-11.4-3.2 .7z"/><path class="c117" d="M81.4 362.7l2.8-5.5-2-9.9-2.7 6.3z"/><path class="c206" d="M79.5 353.5l2.7-6.3-1.5-4.5-2.7 6.6z"/><path class="c247" d="M94.1 332.5l3.2-.7-1.6-4.9-3.2 .7z"/><path class="c208" d="M93.1 345.8l3.1-1.8-2-11.5-3.1 1.9z"/><path class="c131" d="M84.2 357.1l2.9-4.7-2.1-10.5-2.8 5.4z"/><path class="c208" d="M82.2 347.2l2.8-5.4-1.6-4.7-2.8 5.6z"/><path class="c212" d="M90 348.6l3-2.8-2.1-11.4-3 3.1z"/><path class="c206" d="M87.1 352.4l3-3.8-2.1-11-2.9 4.3z"/><path class="c244" d="M91 334.4l3.1-1.9-1.6-5-3.1 2z"/><path class="c134" d="M85 341.8l2.9-4.3-1.6-4.8-2.9 4.4z"/><path class="c244" d="M88 337.5l3-3.1-1.6-4.9-3 3.2z"/><path d="M193.3 345.3l.2-.5 1.4-1 1.6-.8 1.7-.7 .9-.4 .6-.5 1.6-.7 1.8-.6 1.8-.6 1.9-.5 1.9-.5 1.9-.4 2-.4 2.2-.3 .3 0 1.7-.3 2.1-.3 2.1-.3 2.7 .1 .1 0 3.5 .6 .1 0 2.6 .9 2 1.1 1.7 1.2 1.2 1.4 0 0M137.6 356.4l.3-.6 1.5-1.6 .2-.2 1.7-1 2.1-1 2.2-.9 2.2-.8 2.2-.7 2.3-.7 2.3-.6 2.3-.6 2.3-.6 2.3-.5 2.4-.5 2.4-.4 2.5-.4 2.6-.2 1.1 0 1.9 .1 2.9 .4 .8 .3 2.1 .8 2.1 1.3 1.4 1.5 .5 1.3M135.9 361.5l.5-.7 1.9-1.2 2.2-.9 2.1-.9 .7-.3 1.2-.8 2.1-.9 2.3-.7 2.3-.7 2.2-.7 2.3-.6 2.3-.6 2.3-.5 2.4-.5 2.5-.3 .6 0 1.9-.3 2.5-.3 2.5-.3 2.7 .1 .3 0 3.4 .7 .6 .3 2 .8 1.9 1.3 1.5 1.4 .6 1.3M198.8 333.5l.1-.1 1.1-1.2 1.3-.9 .1-.1 1.5-.7 1.7-.7 1.8-.6 1.8-.5 1.9-.5 1.9-.5 2-.4 2-.4 2.1-.3 1.2-.1 1.1-.1 2.6 0 2.2 .1 .9 .2 2.4 .6 2.3 1 1.5 1.2 .5 1.1M195.8 340.4l.1-.5 .9-1.3 .2-.2 1.1-.7 1.6-.8 1.7-.7 1.8-.6 1.8-.6 1.8-.6 1.9-.5 1.9-.5 1.9-.4 2-.4 2-.4 2.1-.3 2.2-.2 1.1-.1 1.5 .1 3 .3 .3 .1 2.6 .8 2.2 1.1 1.6 1.2 .9 1.3M120.9 360l-.9-1.8-2-1.5-2.8-.9-.7-.2-3-.2-3.3 .1-1.1 .1-1.9 .3-3 .5-2.9 .6-2.9 .6-2.9 .7-2.9 .7-2.9 .8-2.9 .9-2.8 .9-2.8 1-1.6 .7-1.1 .5-2.6 1.5-1.9 1.4-.4 .6-.8 1.8M123.7 366.3l-1-1.8-1.9-1.5-2.9-1.2-.1 0-3.7-.4-1.6 0-1.6 .1-3 .3-2.9 .5-2.9 .5-2.9 .6-2.8 .7-2.8 .7-2.8 .8-2.8 .8-2.8 .9-2.8 .9-2.8 1-2.8 1.1-2.7 1.2-1.2 .7-1.3 1-2.2 2.1-.1 .1-.6 2.2M126.3 372.4l-1.2-1.8-1.7-1.6-2.4-1.4-.5-.1-3.6-.7-.3-.1-3.2 0-2.9 .4-2.9 .5-2.2 .4-.7 0-3 .4-2.9 .6-2.8 .7-2.8 .7-2.8 .8-2.8 .9-2.8 .9-2.7 1-2.7 1.2-.5 .3-2.3 .9-2.8 1.2-2.8 1.1-2.4 1.8-.1 .1-1.9 2.6-.1 .2M149.6 327.2l.6-.5 1.7-1.2 1.8-.9 .1 0 2.3-.7 2.4-.6 2.4-.5 2.5-.4 1.4-.2 1.3-.1 3-.1 3 .1 .4 .1 2.4 .9 .6 1.3M178.4 330.9l-1-1.5-2.6-1.1-1-.2-3.5-.3-.4 0-2.4 .2-2.7 .3-2.6 .4-2.5 .5-2.4 .5-2.3 .6-2.3 .7-2.2 .8-2.1 .9-.7 .4-1 .9-.9 1.3M180.4 337.1l-1.2-1.5-2.4-1.2-1.7-.4-2.3-.3-1.2 0-2.9 .1-2.7 .2-2.6 .3 0 0-2.4 .5-2.4 .5-2.4 .6-2.3 .6-2.3 .7-.9 .3-1.3 .5-2.1 .9-2 1-1.6 1.1-.1 .2-.8 1.9M182.1 343.2l-1.3-1.5-2.2-1.2-2-.6-1.3-.3-2.2-.2-2.9 0-1.1 .1-1.5 .2-2.5 .4-2.4 .4-2.4 .5-2.4 .5-2.3 .6-2.3 .6-2.3 .7-2.2 .7-2.2 .8-2.1 .9-.2 .1-1.7 1.1-1.6 1.4-.2 .3M209 313.6l.1-.2 1.2-.9 1.5-.8 1.7-.6 1.2-.3 .7-.2 .4-.1 1.7-.3 2.3-.2 2.6-.1 2.3 .1 1 .2 2 .6 .7 .9M230.4 318l-1.3-1.3-2.6-.9-1-.1-3.1-.2-.7 0-1.8 .1-2.2 .3-2.1 .3-2 .4-1.9 .5-1.8 .6-1.7 .6-1.5 .7-.1 .1M231.5 323.8l-1.4-1.2-2.4-1-1.9-.3-2-.3-1.2 0-2.5 .1-2.3 .2-2.2 .3-1.6 .3-.5 .1-2 .4-1.9 .5-1 .3-.8 .2-1.7 .6-1.6 .7-1.4 .8-.9 .8M84.3 335.8l1.2-1.8 .5-.5 2.1-.8 3-.9 3.1-.7 3.2-.5 2.7-.2 .8 .1 3.5 .8M109.8 338.2l-2.6-1.1-.3-.1-3.4-.1-3.4 .1-2.7 .3-.6 .1-3.1 .6-3 .7-3 .8-.4 .1-2.4 .9-2.7 1.3-2.2 1.4M113.8 345l-2.5-1.3-1.4-.2-3.8-.3-.4 0-2.9 .2-3.2 .4-3.1 .5-3 .6-3 .7-2.9 .8-2.9 .9-2.8 1-2.3 1-.5 .3-2.4 1.9-.6 .7M117.1 351.7l-2.2-1.4-2.3-.5-2-.3-1.7 0-3.3 .2-3.2 .3-3.1 .5-.9 .2-2.1 .4-2.9 .7-2.9 .7-2.9 .8-1.8 .6-1 .3-2.8 1-2.8 1.2-2.7 1.4-1.1 .7-1.2 1.3-.9 1.3M171.9 316.6l-3.7-.8-.2 0-2.9 .2-2.7 .3-2.5 .5-2.3 .6-2.1 .8-1 .5M225.2 304.9l-2.2-.4-2-.2-.9 .1-2.1 .3-1.9 .5-1.2 .4M205.2 321l.3-.9M251 314.2l-1.6 .4M135 363.8l.2-1M245.3 321.3l.4-.7 1.2-.7 1.6-.4M239.5 332.2l.5-.9 1.2-.7 1.4-.6 1.6-.5M242.9 325.9l.4-.3 1.4-.6 1.6-.5M57.9 365.5l1.2-1.5 1.2-1 1.1-.6 2.5-1.2 2.6-1 2.6-.9 2.6-.8 1.8-.5 .9-.2 2.6-.7 2.6-.7 2.6-.7 2.6-.6 2.6-.6 1-.2 1.7-.3 2.7-.5 2.7-.4 2.8-.3 2.8-.2 1.5 0 1.6 .2 2.5 .5 1.5 .7 .9 .4 1.5 1.3 1 1.5 0 .7 0 1.1-.9 1.5-.8 .8-.9 .8-2.3 1.1-2.4 1-2.5 .9-2.5 .9-1.6 .5-.9 .4-2.6 .9-2.7 .8-2.8 .7-2.9 .7-2.9 .6-1 .1-2 .4-3 .6-3 .5-3 .6M121.9 349.2l.1-.2 1.2-1.8 .1-.1 1.7-1.1 2-.9 2-.8 2.1-.7 1.2-.4 .9-.3 2.1-.6 2.2-.6 2.2-.6 2.2-.5 2.2-.5 2.2-.5 2.1-.4 .1 0 2.2-.4 2.3-.3 2.4-.3 2.5-.1 1.3 0 1.7 .2 2.1 .4 2.2 .9 .2 .1 1.8 1.1 1.2 1.3 0 .1 .6 1.4-.3 1.1-.5 .8-.5 .7-1.8 .9-1.8 .8-1.9 .8-2 .7-.1 0-1.8 .8-2.1 .7-2.1 .7-2.2 .6-2.3 .6-2.4 .5-2.5 .5-1.2 .1-1.4 .3-2.5 .5M179.3 337.6l-1.3-1.2-.7-1.3 0-.3 .6-1.4 .1-.1 1.3-.9 1.5-.8 1.6-.7 1.7-.6 .8-.3 .9-.3 1.8-.5 1.8-.5 1.8-.5 1.8-.4 1.8-.4 1.9-.4 .4-.1 1.5-.3 2-.3 2-.2 2.2-.1 1.7 0 .8 .1 2.7 .5 1 .3 1.5 .5 1.8 1 1.5 1.1 .5 .8 .4 .5 0 1.2-.2 .4-.5 .8-1.4 .7-1.5 .7-1.6 .6-1.3 .5-.3 .2-1.5 .7-1.7 .6-1.8 .5-1.9 .5-2 .4-2.1 .4-1.3 .1-.9 .2M59.6 359.9l0-.1 .9-1.9 .8-.7 2.3-1.5 1.1-.6 1.5-.6 2.6-1 2.6-.9 2.7-.8 2.7-.7 2.7-.7 2.7-.6 2.7-.6 2.7-.6 2.7-.5 2.7-.4 2.8-.4 1.8-.2 1.1 0 3.2 .1 1.5 .2 2.5 .8 .4 .2 1.7 1.3 .8 1.5 0 .3-.4 1.6-.7 .7-1.9 1.5-.8 .5-1.5 .7-2.4 1-2.5 .9-2.6 .8-2.7 .8-2.7 .8-2.8 .7-2.9 .7-2.9 .6-3 .6-3 .5-3.1 .4M62.1 352l1.6-2.1 .1-.1 2.3-1.3 2.5-1.1 2.5-1 .1 0 2.7-.8 2.7-.7 2.7-.7 2.7-.6 2.7-.6 2.8-.5 2.8-.5 .2 0 2.7-.3 3-.2 3.1 0 .1 0 3.6 .8 .3 .2 1.5 1 .5 1.3 .1 .3-1.2 2 0 0-2.1 1.3-2.3 1.1-2.3 .9-.2 .1-2.6 .9-2.7 .8-2.8 .7-2.8 .7-2.9 .7-3 .6-3 .5-.1 0-3.1 .3M124.6 342.1l1.2-1.3 1.3-.9 .4-.2 2-.9 2.1-.8 2.1-.7 2.1-.6 2.2-.6 2.2-.6 2.2-.5 2.2-.5 2.2-.4 2.3-.4 2.3-.3 2.4-.3 1.8-.1 .8 0 2.9 .2 1.3 .2 2.7 .8 .1 0 1.9 1.1 1.2 1.3 0 .1 .2 1.5-.3 .6-1.2 1.3-.4 .3-1.2 .7-1.9 .8-2 .8-2.1 .7-2.1 .7-2.2 .6-2.3 .6-2.3 .6-2.4 .5-2.4 .5-2.5 .4M127.7 334.9l.9-.7 1.8-1 1.9-.9 .1 0 2-.7 2.1-.6 2.2-.6 2.2-.5 2.2-.5 2.3-.5 2.3-.4 2.3-.4 1.1-.1 1.3-.1 2.6-.1 2.8 .1 .3 0 3.3 .7 .4 .2 1.5 .8 .8 1 .2 .3-.3 1.6-.1 .1-1.4 1.1-1.7 1-1 .4-.9 .4-2 .7-2.1 .7-2.2 .6-2.3 .6-2.3 .5-2.4 .5M180 328.6l.8-1.2 .8-.7 .5-.3 1.5-.7 1.6-.6 1.7-.6 1.7-.5 1.8-.5 1.8-.4 1.8-.4 1.9-.4 1.9-.3 2-.3 2.1-.2 2.2-.2 0 0 2.6 .1 1.9 .2 1.5 .4 1.2 .3 1.9 .9 1.4 1.1 .3 .6 .3 .7-.3 .8-.9 1 0 0-1.3 .7-1.5 .7-1.6 .6-1.7 .6-1.8 .5-1.8 .5-1.9 .5-1.9 .4M183 322l.7-.7 1.3-.8 1.3-.6 .2-.1 1.7-.6 1.7-.5 1.8-.5 1.8-.4 1.9-.4 1.9-.4 2-.3 1.5-.2 .5 0 2.3-.1 2.5 0 .9 .1 2.4 .4 .8 .2 2.1 .9 1.3 1.1 .1 .4 .1 1-.3 .4-1 .9-1.3 .8-.4 .2-1.2 .5-1.7 .6-1.8 .5-1.8 .5M232.6 328.5l-1.1-.2-2.7-.7-.5-.2-1.8-.6-1.8-1-1.5-1-.8-.9-.3-.2-.6-1.2 .1-.4 .9-.8 1.2-.6 1-.3 .4-.1 1.6-.4M65 344l1.2-1.2 1.7-1.2 .6-.3 2.6-1 2.6-.9 2.7-.8 2.7-.7 2.8-.6 2.8-.5 2.8-.4 2.9-.4 3-.2 .9 0 2.4 .2 2.4 .4 2.1 1.1 .1 0 0 .1 .3 1.5-1.1 1.2-1.3 1.1-.7 .4-2.4 1-2.6 .9-2.7 .8-2.8 .7-2.9 .7-2.9 .6-3 .5M68.7 335.7l.1-.1 2.4-1.4 2.5-1.1 1.1-.4 1.6-.5 2.8-.7 2.8-.6 2.9-.5 1.9-.3 1.1-.1 3.1-.1 3.3 .1 .4 0 2.5 1.1-.1 1.6-.2 .2-2.1 1.3-2.4 1.1-.9 .3-1.7 .5-2.8 .7-2.9 .6M129.7 329.4l.2-.4 1.3-1.4 0 0 1.9-.9 2-.8 2.1-.7 2.2-.6 2.2-.5 2.3-.5 2.3-.4 2.4-.3 2.5-.3 2.6-.2 1.5 0 1.5 .1 2.6 .4 1.7 .7 .5 .2 .2 .3 .6 1-.6 1.2-.5 .6-.9 .5-1.8 .9-1.9 .8-2.1 .7-2.2 .6-2.3 .6-2.4 .5M133 321.9l1.3-1.1 1.7-1 .1-.1 1.9-.7 2.2-.6 2.2-.5 2.3-.5 2.4-.4 2.5-.3 1.1-.1 1.6 0 3 .1 1.2 .1 2.5 .9 .6 1.3-.4 .5-1.4 1.1-1 .5-.8 .3-2.1 .7-2.2 .6M185.7 316.8l.1-.5 .6-1 .2-.1 1.4-.8 1.6-.6 1.7-.6 1.8-.5 1.8-.4 1.9-.4 2-.3 2.1-.2 2.2-.2 2 0 .5 0 3.2 .4 .1 0 2.2 .8 1.2 1.1 0 0-.3 1.3-.1 .2-1 .6-1.4 .7-1.6 .6M230.8 321.7l-2.3-.8-1.9-.9-1.5-1-1.1-1.1-.2-.5 .1-.9 .2-.3 1.1-.7 1.4-.5 1.6-.4M193.3 302.9l.1-.1 1.4-.7 1.6-.5 1.8-.4 2-.3 2.2-.2 1.9 0 .9 .1 2.2 .5 .4 .9M210.6 308l-.7-.9-.2-.2-.5-.2-2-.6-1.9-.2-2.6-.1-.8 0-1.5 .1-2 .3-1.9 .4-1.8 .4-1.8 .5-1.6 .6-.1 0-1.2 .8-1 1M73.1 328.8l1.1-1.5 .6-.5 1.9-.7 2.8-.7 2.9-.6 3-.4 2.4-.2 .8 .1 3.1 .7M144.1 307.3l1.7-.7 2.5-.4 1.1 0M155.7 311.9l-1.1-.3-2.1-.5-1.4 0-2.7 .2-2.5 .3-2.3 .4-2.2 .6-2.1 .7-1.9 .9 0 0M228.5 314l-1.5-1-.1-.1-.8-1.1 0-.6 .8-.8 .2-.1 1.1-.4 1.6-.4M236.3 294.2l-.2 0-1.3 .4M127 336.7l.3-.9M233.7 299.2l-1.6 .4M228.5 305.9l.4-.5 1.2-.6 1.6-.4M225.2 324.6l-1.6 .4-1.5 .5-1.4 .5-1 .6-.1 .1-.5 1.1-1.2 .7-1.6 .4-1.7 .4-1.8 .4-1.7 .4-1.7 .4-1.7 .4-2.4 0-2.2 .1 0 0-2 .2-1.9 .3-1.8 .4-1.8 .4-1.8 .4-1.8 .4-1.8 .5-1.8 .5-1.8 .5-1.8 .5-1.8 .5-1.7 .5-1.7 .6-1.6 .7-.5 .2-1 .6-1.3 1-1.5 .9-1.9 .5-1.9 .5-2 .5-2 .5-2 .5-2.1 .4-2.6 0-2.5 .1-.7 .1-1.6 .2-2.2 .4-2.2 .4-2.2 .5-2.1 .5-2.1 .5-2.1 .5-2.1 .6-2.1 .6-2.1 .6-2.1 .6-2.1 .6-2.1 .7-2.1 .7-2 .8-.4 .2-1.6 .8-1.8 1.1-2 .9-2.4 .5-2.3 .7-2.3 .7-2.4 .6-2.5 .6-3 0-2.8 .2-.8 .1-1.9 .3-2.6 .5-2.6 .5-2.6 .6-2.6 .6-2.6 .6-2.6 .7-2.6 .7-2.6 .7-2.6 .7-2.6 .7-2.6 .8-2.6 .8-2.6 .9-1.7 .7-.9 .4-2.5 1.2-2.4 1.5-2.9 .7-2.8 .8M223.7 329.4l-1.5 .4-1.5 .4-1.5 .5-1.4 .5-1.3 .6-1.6 .4-1.6 .4-1.6 .4-1.7 .4-1.7 .4-1.7 .4-1.7 .4-1.8 .4-1.8 .4-1.8 .4-1.8 .4-1.8 .4-1.8 .4-1.8 .5-1.8 .5-1.8 .5-1.8 .5-1.8 .5-1.8 .5-1.8 .5-1.8 .5-1.8 .5-1.8 .5-1.7 .6-1.7 .7-1.9 .5-1.9 .5-1.9 .5-1.9 .5-1.9 .5-2 .5-2 .5-2 .5-2.2 .4-2.1 .5-2.1 .5-2.1 .5-2.1 .5-2.1 .5-2.1 .6-2.1 .6-2.1 .6-2.1 .6-2.1 .6-2.2 .6-2.2 .6-2.2 .6-2.2 .6-2.2 .7-2.1 .7-2.1 .8-2.3 .6-2.3 .6-2.3 .6-2.3 .6-2.4 .6-2.4 .6-2.5 .6-2.5 .5-2.5 .6-2.5 .6-2.5 .6-2.5 .6-2.5 .7-2.5 .7-2.5 .7-2.6 .7-2.6 .7-2.6 .7-2.6 .7-2.6 .7-2.6 .8-2.7 .8-2.7 .8-2.6 .9-2.7 .8-2.8 .7" class="cd" opacity=".4"/><path d="M258.3 350.3l-1.6 .5-1.7 .5-1.7 .5-1.9 .4-2.2 .2-1.7 .6-1.7 .6-1.7 .6-1.7 .6-1.7 .6-1.7 .6-1.6 .6-1.4 .8-1.6 .7-1.7 .7-1.7 .6-1.8 .6-1.8 .6-1.8 .6-1.8 .6-1.9 .6-1.9 .6-1.9 .6-1.9 .6-1.9 .6-2 .6-2 .6-2 .6-2.1 .6-2.3 .5-2.3 .4-2 .7-2.1 .7-2.1 .7-2.1 .7-2.1 .7-2.1 .8-1.7 1.1-2 .9-2.1 .8-2.1 .8-2.2 .8-2.2 .8-2.2 .8-2.3 .8-2.3 .8-2.3 .8-2.3 .8-2.3 .8-2.4 .8-2.4 .8-2.4 .8-2.5 .8-2.5 .7-2.6 .7-2.7 .6-2.8 .5-2.5 .9-2.6 .8-2.6 .8-2.6 .9-2.5 1-2.4 1.2-2.5 1-2.6 1-2.7 1-2.7 1-2.7 .9-2.8 .9-2.8 1-2.8 1-2.9 1-2.9 1-2.9 1-3 1-3 1-3 1-3.1 .9-3.1 .9-3.2 .8-3.3 .6-3.2 .9-3.2 1M258.6 344.2l-1.6 .5-1.8 .4-2 .3-.6 0-1.8 .1-2.9-.4-.5-.2-2.6-.1-1.8 .5-1.6 .6-1.4 .7-1.6 .6-1.7 .6 .1 .7-.6 .8-.8 1.2-.8 .6-.4 .3-1.5 .8-1.6 .7-1.7 .7-1.8 .7-1.8 .6-1.8 .6-1.9 .6-1.9 .6-1.9 .6-2 .6-2 .6-2.1 .5-2.1 .5-2.3 .4-1.6 .2-.8 .1-2.8 .1-2.4-.2-1.1-.3-2.5 .3-2.1 .6-2 .7-2.1 .6-2.1 .7-.1 1.1-.7 .7-1.2 1.5-1.2 .9-.4 .3-1.9 1-2 .9-2.1 .8-2.2 .8-2.2 .8-2.2 .8-2.3 .8-2.3 .7-2.4 .7-2.4 .7-2.4 .7-2.5 .7-2.5 .7-2.6 .6-2.7 .5-2 .3-.8 .1-3.1 .1-2.7-.3-1.1-.4-2.7 .7-2.6 .7-2.7 .6-2.5 .9-.2 1.2-1.2 1.2-2 1.7-1.4 .8-.9 .5-2.5 1.2-2.6 1.1-2.7 1-2.7 1-2.8 1-2.8 1-2.9 .9-2.9 .9-2.9 .9-3 .9-3 .9-3.1 .9-3.1 .8-3.2 .8-3.3 .6-1.2 .2-2.3 .2-3.7 0-2.4 0-1.6-.6-3.3 .9M126.3 372.4l.5 2-.1 .3-1.1 2.3-.2 .2-2.1 1.6-2.3 1.3-2.5 1.2-2 .8-.6 .3-2.7 1-2.8 1-2.8 .9-2.9 .9-2.9 .9-3 .9-3 .9-3.1 .8-3.2 .8-.6 .1-2.6 .6-3.3 .6-3.5 .4-3.7 .1M185.7 356.3l.2 .4-.3 1.9-.1 .2-1.3 1.2-1.7 1.1-1.9 1-1.6 .7-.4 .2-2.1 .8-2.2 .8-2.2 .8-2.3 .7-2.3 .7-2.4 .7-2.4 .7-2.5 .7-2.5 .6-1.8 .4-.8 .2-2.7 .5-2.9 .4-3.1 .2-1.3 0-2.4-.4-1.6-.5-2.5-1.3-1.8-1.5-1.2-1.7-.5-1.8M235.1 343.7l-1 1.1-1.3 .9-1.5 .8-1.4 .6-.2 .1-1.7 .7-1.8 .6-1.8 .6-1.9 .6-1.9 .6-2 .6-2 .5-2.1 .5-1 .2-1.2 .2-2.3 .4-2.4 .3-2.7 .1-1 0-2.4-.4-1.5-.4-2.6-1.1-2-1.3-1.5-1.4-.9-1.5 0-.7 .3-1.1M123.7 368.4l-1.6 2.1-1 .8-1.2 .7-2.4 1.2-2.6 1.1-2.7 1.1-2.8 1-2.8 1-2.9 .9-3 .9-3 .8-3.1 .8-3.2 .7-3.2 .7-3.3 .6-3.5 .4-1.7 .1-2.1-.1-3.9-.5-.2-.1-2.8-1.4-1.6-1.8-.6-2M120.9 360l-.4 1.8-.2 .4-1.6 1.5-2.2 1.5-.9 .5-1.6 .7-2.7 1.1-2.8 1-2.9 .9-2.9 .9-3 .8-3.1 .8-3.2 .7-3.2 .7-3.3 .6-2 .3-1.5 .1-3.7 .1-3.1-.2-1-.3-2.6-1-1.8-1.7-.5-2M117.1 351.7l.7 1.8-.7 1.4-.8 1.1-1.1 .8-2.4 1.3-2.6 1.2-2.7 1.1-.8 .3-2 .7-3 .9-3 .8-3.1 .8-2.1 .4-1.2 .2-3.4 .5-3.5 .4-3.6 .2-1.7 0-2.4-.4-2.2-.6-2.1-1.6-.3-2M184.1 350.5l.1 .5-.7 1.5-.8 .9-.6 .4-1.8 1-1.9 .9-2.1 .9-2.2 .8-2.2 .8-2.3 .7-2.4 .7-2.4 .7-2.5 .6-2.6 .6-2.6 .6-2.7 .5-2.9 .4-2.6 .2-.4 0-3.6-.3-1.2-.2-3-1.2-1.7-1.3-.3-.2-.2-.2-1-1.4-.1-1.9M182.1 343.2l.2 1.1 0 .7-.8 1-1.5 1.3-.7 .5-1.1 .6-2 .9-2.1 .8-2.2 .8-2.3 .7-2.4 .7-2.5 .6-2.5 .6-2.6 .6-2.7 .5-2.8 .4-.2 0-2.9 .1-3.4-.1-.6-.1-3.5-1-.8-.5-1.3-.9-.7-1-.4-.6 .3-2M180.4 337.1l-.1 .9-.4 1.1-.6 .5-1.6 1.1-1.9 1-2 .9 0 0-2.2 .7-2.3 .7-2.4 .7-2.5 .6-2.6 .6-1.1 .2-1.6 .3-2.9 .3-3 .2-2.9 0-.4-.1-3.8-.8-.9-.5-1.4-.8-.6-1-.3-.6M234 336.4l.1 .1-.3 1.3-.4 .6-.5 .4-1.4 .8-1.5 .8-1.6 .7-1.7 .7-1.8 .6-1.9 .6-1.9 .6-2 .5-2.1 .5-2.2 .4-2.3 .4-2.4 .3-2.1 .1-.6 0-3.2-.3-1-.2-3-1-2.1-1.2-1.5-1.4-.6-1.6M232.9 330.6l.1 .4-.5 .9-1 1-.6 .4-.8 .4-1.6 .7-1.7 .7-1.8 .6-1.9 .6-2 .5-2 .5-2.1 .5-2.2 .4-2.1 .3-.3 0-2.7 .1-3-.1-.4 0-3.4-.8-1.3-.7-1-.5-.6-.6-.8-.8-.2-1.6M231.5 323.8l.1 .8-.1 .8-.4 .4-1.2 .9-1.4 .8-1.6 .7-1.3 .5-.4 .1-1.9 .6-2 .5-1.2 .3-.9 .2-2.3 .4-2.4 .3-2.6 .2-2.2 0-.8-.1-3.2-.6-1.5-.7-.9-.4-.5-.5-.8-.8 .2-1.4 .1-.3M258.8 337.9l-1.7 .5-1.9 .4-2.2 .2-2.2-.1-.6-.1-2.7-.7-2.4-1-2.1-1.1-1.7-1.2-1.4-1.2-.6-1.2 0-.2M259.1 331.5l-1.7 .5-2 .3-.9 .1-1.6 0-2.7-.4-1.2-.4-1.5-.5-2.1-1-1.7-1.1-.7-.7-.4-.6 0-1.1 .4-.6M75.5 392.2l-4.2-1-.2-.1-2.4-1.6-1.4-1.9-.8-2 .1-2.3M113.8 345l.4 1.8-.6 .7-2 1.8-.3 .2-2.2 1.1-2.7 1.1-2.8 1-3 .9-3.1 .8-3.2 .7-3.3 .6-3.4 .5-2.9 .3-.7 0-4.1-.4-1.3-.2-2.4-1.5-.1-2M109.8 338.2l0 1.7 0 .2-2.1 1.4-2.5 1.3-2.2 .9-.5 .2-3 .8-3.1 .7-3.2 .6-.5 .1-3 .3-3.7 .2-3.4-.1-.7-.3-2.2-1.1 .2-1.6 .1-.4M178.4 330.9l-.2 .5-1.1 1.5-.2 .2-1.6 .9-2 .9-2.2 .8-2.3 .7-2.4 .6-2.5 .6-2.7 .5-2.8 .4-3 .3-1.1 0-2.4-.2-2.9-.4-1.8-.8-.8-.4-.3-.5-.5-1.1M175.7 324.4l.1 .2-1.3 1.2-1.7 1.1-.9 .4-1.2 .4-2.3 .7-2.4 .6-2.6 .5-2.7 .4-.2 0-2.9 .2-3.3 0-1.4-.1-3-1.1-.4-1.6M230.4 318l-.1 .4-.6 1.2-.2 .3-1 .6-1.6 .7-1.7 .6-1.9 .5-2 .5-2.2 .4-2.3 .3-2.5 .2-.3 0-2.8-.2-2.2-.3-2.7-1 0 0 0 0-1.1-1.3M228.4 311.7l.2 .4-.7 .8-1.3 .8-1.6 .7-1.5 .5-.3 .1-.7 .2-1.3 .3-2.3 .3-2.6 .2-2.9 0-.5 0-3-.9-.8-1.4M235.1 343.7l-.1-1.7M259.1 324.9l-1.7 .4-2.2 .2-2.1-.1-1-.2-2.2-.6-2.3-1-1.6-1.1-.7-.9-.1-.4M104.5 331.4l-1.1 1.8-.4 .3-2.2 .9-2.9 .9-3.2 .7-3.3 .5-2.7 .2-1.1-.1-3.3-.8M123.7 368.4l0-2.1M171.9 316.6l-.1 1.7-.1 .1-1.9 .9-2.2 .7-2.4 .6-2.7 .4-2.9 .3-1.6 .1-2.2-.4-1.6-.4 0-.8 .4-.9M225.2 304.9l.1 .8-.4 .7-.6 .2-1.8 .5-2.1 .4-1.7 .2-.9 0-3.5-.5 .2-1.3 .3-.3M258.9 318.2l-1.7 .4-2.7-.1-1.6-.3-2.5-.9-1.5-1.1-.2-.6 .7-.9M257.3 310.6l-1.9 .3-1.3-.3-.4-.5 1.4-.5M206.4 319.1l-.9 1M135.9 361.5l-.7 1.3M240.5 327.5l-1.6 .4-.7 0-1.2 .2-2 .2-2.3 0M71.1 372.8l-3.2 .4-1.7-.2-2-.2-2.5-.6-1.8-1-.7-.3-1.4-1.6-.5-1.8M72.8 364.3l-1.8 .2-1.4 0-3.5-.2-1.4-.2-2.8-1.1-.2-.1-1.5-1.5-.4-1.7M139.4 354.6l-2.5 .5-2.6 .4-3-.1-.1 0-3.6-.6-.3-.1-2.3-1.1-1.6-1.3-1-1.4-.3-1.6M141.3 347.1l-2.6 .4-2.7 .3-.6 0-2.4 0-3-.3-.5-.2-2.3-.8-1.8-1.2-.9-1.4 .1-1.4 .1-.3M145.8 339.1l-2.5 .5-2.5 .4-.1 0-2.8 .2-3 .1-1.8-.1-1.7-.3-1.8-.5-1.9-1.2-.8-1.4M196.6 339.3l-2.1 .4-2.2 .3-2.2 .3-2.7 0-.2 0-3.2-.5-.6-.1-2.4-1-1.8-1.1M200.6 332l-2 .4-2.1 .4-2.2 .3-2.3 .2-.8 0-1.8 0-3-.3-.1 0-2.7-.8-1.9-1-1.2-1.2-.4-1.4 0 0M204.5 324.6l-1.9 .5-2 .4-2.1 .4-2.2 .3-.2 0-2.1 .2-2.6 0-1.9-.1-1.2-.2-2.1-.5-2.1-1-1.1-1.2 0-1 .1-.5M240.6 321.4l-1.6 .4-1.9 .3-2.2 .1-.8 0-2.3-.3-1.1-.3M240.8 315.3l-1.6 .4-1.6 .2-.4 0-2.5-.1-1.6-.2-2.5-.7-.1 0-1.9-.9M74.5 355.9l-3.3 .2-3.4 0-.1 0-3.7-.9-.7-.6-1-.9-.2-1-.1-.7M79.4 346.9l-3.1 .4-3.3 .3-.8 0-2.7-.2-2.3-.4-2.1-1.3 0-1.7M84.1 337.6l-3 .5-1.8 .3-1.3 .1-3.4 .1-3.5-.1-.2 0-2.5-1.2 .4-1.8M147.7 331.4l-2.5 .4-2.6 .4-2.7 .3-2.9 .1M151.7 322.9l-2.3 .5-2.4 .5-2.5 .4-2.5 .3-.2 0-3.1 0-2.8-.2-.8-.3-1.6-.7-.3-1-.1-.5M207.9 317l-1.7 .5-1.8 .5-1.9 .4-2 .4-2.2 .3-2.3 .2-2.5 .1-.4 0-2.7-.3-1.3-.2-2.2-.9-1-1.2M210.6 308l-.4 .7-1 .9-.4 .2-1 .4-1.7 .5-1.8 .5-2 .4-2.1 .3-2.2 .3-.1 0-2.5 0-3-.2 0 0-2.5-.8-.8-1.2 0 0M240.8 309l-1.7 .4-2.1 .1-1.5-.1-1.6-.3-1.4-.4-2.1-.8-1.4-1-.4-.6-.1-.6M91.6 325l-1.1 1.5-.4 .4-2 .7-2.7 .8-2.9 .6-3.1 .4-2.3 .2-1.1-.1-2.9-.7M136.9 332.5l-3.4-.4-.9-.2-2.1-1.1-.6-1.4M155.7 311.9l.1 .5-.2 .9-.8 .5-1.9 .8-2.1 .6-2.3 .5-2.5 .4-2.7 .3-2.9 .1M207.9 302.1l0 .3-1 .6-1.5 .6-1.8 .5-2 .4-2.2 .2-2.5 .1-.3 0-3.1-.7-.3-1.3M240.7 302.6l-1.7 .3-2.6-.1-1.5-.2-2.3-.8-1.3-1M240 295.8l-.2 0-1.6 .2-2.6-.6-.7-.9M140.4 316.5l-3.1-.8 .2-1.5M149.4 306.3l-.6 .3-2.2 .6-2.5 .1M57.9 365.5l-.4 1.5M127.7 334.9l-.4 .8M232.1 299.6l-.8 .8M53.6 375.6l-2.8 .8" class="cd"/><path d="M234.1 336.8l.8 5 1 4M186.1 358.8l-1.7-1.4-1.7-1.4-1.7-1.4-1.7-1.3-2 .1-1.6-1.3-2.1 .4-2.1 1-2.1 .2-1.6-.5-2.1 .6-2.1 .4-2.2 .7-2.2 .8-2.2 .5-2.2 .3-2.2 .7-2.3 1-2.3 .4-2.3-.1-2.3 .5-2.3 .7 1.5-1.3-2.4 2.6-2.4 1.5-2.4 1.4M234.2 343.6l-1.9-1.3-1.9-1.1-1.8-1.2-1.8-1.1-1.7 .4-1.8-1.1-1.8 .7-1.8 .6-1.7 0-1.8-.8-1.8 1-1.8 .9-1.8 .3-1.8 .3-1.8 .4-1.8 .5-1.8 .5-1.9 .5-1.9 .4-1.9 .3-1.9 .5 2-1.3-2.1 2.3-2.1 1.8-2 .8 2.3-4.3M86.4 332.7l-1.1 1.6-2.9 4.2M126.2 373.4l-1.4-1-1.4-1.1-1.4-1.6-2.6 .5-1.4-1.6-2.6 1-2.6 .9-2.7-.4-1.3-.5-2.6 .8-2.6 .9-2.7 .4-2.7 .6-2.7 1-2.7 .7-2.7 1-2.7 1.2-2.8 .8-2.8 .9-2.8 .9-2.9 .4 .8-1.4-2.7 3-3 .8-2.9 1.4 .5-2.5-2.5 5.5 .5-2.9 2.3-7.5 .6-2.4M155.9 317l2.6-2.5M238.3 334.8l1.8-1.4 1.8-1.4 1.6-.5M157.4 314.5l2 4.1 1.5 3 1.9 4.5 1.9 5 1.8 5.3 1.3 4.4 1.7 4.7-1.4-3.6 1.8 3.6-1.5-1.2-1.5-1.2-1.5-1.2-1.5 .3 2-.5 2-.6 2-.4 1.9-.5 1.9-.6 2.1-2.4 2.2-4.2M211.1 309.2l1.2 4.1 1.1 4.6 1.2 4.9 1.1 4.3 1 4.5 1.4 1.8-1.7-1.1-1.7-1-1.6-1-1.6-1 1.7-.3 1.6-.2 1.6 0-1.8 .3 1.6-.3 1.6-.5 1.8-1.4-2.2 3.2 2-3.2 2.7-6.6 2.4-5.5 2.8-6.6M95.4 328.8l3 4 3 4.6 2.9 5.1 2.9 5.5 1.3 2.6 2.8 5.5 2.7 4.5-1.3-1.5-1.2-1.4-1.2-1.4 2.4-.4-1.2 .2 2.4-.9 2.4-.8 1.2-.4M206.8 299.8l1.5 3M59.7 359.6l-.5 2M186.6 314.8l-2 3.9M122.1 348.8l-1.2 3.2" class="sd" opacity=".45"/><path d="M158.5 314.5l1.9-1.9 2.6-1.4 2.5-.2 2.4 .9 2.3 2.1 2.2 3.1 2.1 4.1 1.6 3.8 1.9 4.6 1.8 5.3 1.7 5.8 1.6 6.2 1.4 5.1 1.6 5.5 1.7 3.9-1.7-2.4M194.1 343.7l2.4-5 2.6-5.8 2.6-5.3 2.5-4.8 2.6-5.2 2.6-4.7 2.5-3.8 2.3-2.8 2.2-1.8 2.4-1.7 2.1-.8 1.9 .3 1.7 1.4 1.5 2.4 1.6 3.5 1.4 3.2 1.2 4 1 4.6 .9 5.2 1.2 5.5 .9 4.8M86.4 332.7l3-3.2 3.1-2 3.2-.7 3.2 .6 3.2 1.8 3.2 2.9 3.2 4 3.1 4.9 3.1 5.6 3 6.2 1.5 3.4 2.9 6.3 2.8 6.6 2.7 6.7-1.5-2.4M235.9 345.8l-1.7-2.2M69.7 373.1l2.3-8.2 2.4-7.7 2.5-7 2.7-6.2 2.8-5.3M135.4 363.8l-2.4 1.1 1.4-.2 1.5-3.7 2.5-6.9 2.6-6.5 1.6-3.8 2.7-7 2.7-6.3 2.7-5.5 2.7-4.6 2.6-3.6M238.3 334.8l-1.7 .7 2.4-2.4 2.5-5 3.1-5.6 2.5-4.8 2.9-3.9 2.2-3.2 1.7-.6M208.3 302.8l1.5 3 1.3 3.5M59.7 359.6l2.1-6.9 2.2-6.4 2.3-5.8 2.4-5.1 2.5-4.3 .8-1.1 2.7-3.6 2.8-2.7 2.8-1.6 2.9-.6 3 .4 3 1.4 3 2.4 3 3.2M122.1 348.8l2.3-5.9 2.3-5.6 1.3-3.2 2.4-6 2.4-5.4 2.4-4.7 2.4-3.9 2.4-3 1.5-1.4 2.4-2.2 2.4-1.2 2.3-.2 2.3 .8 2.2 1.7 2.2 2.6 2.1 3.4M186.6 314.8l2.4-4.8 2.3-4.1 2.2-3.4 2.2-2.5 2.1-1.6 2-1.5 2-.7 1.8 .3 1.7 1.2 1.6 2.1M227.4 308.3l2.4-5.3 2.6-4.7 2.2-3.5 2.1-1.2 1.7-.6M51 371.7l2.9-.9 .6-.2 2.6-2.8 2.1-6.3M117.4 354l2.4-.2-1.2 .3 2.3-2.2M178 333.1l2-4.5 2.3-5.2 2.3-4.7" class="sd"/><path d="M42.7 380.5L39.7 381.3M40.6 367.8L37.5 368.5M38.3 354.4L35.2 355.1M36 340.3L32.7 341M33.5 325.6L30.1 326.2M30.9 310L27.4 310.6M62.9 423.4L59.5 424.6M57.7 412.3L54.3 413.4M52.8 402L49.6 403M48.4 392.6L45.3 393.5M44.3 383.8L41.3 384.7M78.9 423.9L80.1 426.2M138.8 402.6L140.4 404.5M188.5 385L190.2 386.6M230.3 370.1L232.2 371.5M266 357.4L267.9 358.7" stroke="#777" stroke-width=".5"/><text x="29.3" y="314.4" text-anchor="end" font-size="6.8" letter-spacing=".6" fill="#222" stroke="#222" stroke-width=".15">1.0</text><text x="31.2" y="329.6" text-anchor="end" font-size="6.8" letter-spacing=".6" fill="#222" stroke="#222" stroke-width=".15">0.8</text><text x="33.7" y="344.3" text-anchor="end" font-size="6.8" letter-spacing=".6" fill="#222" stroke="#222" stroke-width=".15">0.6</text><text x="36.1" y="359" text-anchor="end" font-size="6.8" letter-spacing=".6" fill="#222" stroke="#222" stroke-width=".15">0.4</text><text x="38.1" y="372.6" text-anchor="end" font-size="6.8" letter-spacing=".6" fill="#222" stroke="#222" stroke-width=".15">0.2</text><text x="41" y="383.8" text-anchor="end" font-size="6.8" letter-spacing=".6" fill="#222" stroke="#222" stroke-width=".15">0.0</text><text x="38.2" y="387.8" text-anchor="middle" font-size="7" fill="#333">40</text><text x="43.6" y="396.8" text-anchor="middle" font-size="7" fill="#333">30</text><text x="47.8" y="405.9" text-anchor="middle" font-size="7" fill="#333">20</text><text x="52.3" y="415.9" text-anchor="middle" font-size="7" fill="#333">10</text><text x="57.3" y="425.9" text-anchor="middle" font-size="7" fill="#333">0</text><text transform="translate(80 428.3) rotate(30)" text-anchor="middle" font-size="3.8" fill="#666">0</text><text transform="translate(136.7 408) rotate(30)" text-anchor="middle" font-size="3.8" fill="#666">50</text><text transform="translate(186.6 390.4) rotate(30)" text-anchor="middle" font-size="3.8" fill="#666">100</text><text transform="translate(227.6 377.8) rotate(30)" text-anchor="middle" font-size="3.8" fill="#666">150</text><text transform="translate(264.2 363.9) rotate(30)" text-anchor="middle" font-size="3.8" fill="#666">200</text><text transform="translate(20.4 346.8) rotate(-96)" text-anchor="middle" font-size="5.7" font-weight="bold" fill="#111">Normalized amplitude</text><text transform="translate(38.7 411.4) rotate(64.7)" text-anchor="middle" font-size="5.7" font-weight="bold" fill="#111">Waveguide width (mm)</text><text transform="translate(192.8 398.9) rotate(-20.2)" text-anchor="middle" font-size="5.7" font-weight="bold" fill="#111">Propagation distance (mm)</text><circle cx="90.6" cy="329.5" r=".8" fill="#333"/><circle cx="90.6" cy="331.7" r="1.3" fill="#e07080"/><circle cx="88" cy="363.1" r="1.4" fill="#e06a78"/><circle cx="81.7" cy="371.5" r=".9" fill="#111"/><circle cx="82.1" cy="374.1" r="1.6" fill="#e8404a"/><circle cx="131.5" cy="326" r=".8" fill="#222"/><circle cx="131.5" cy="327.4" r="1.4" fill="#f02020"/><circle cx="129.4" cy="371.3" r="1.6" fill="#ff1a1a"/><circle cx="126.9" cy="378.3" r=".9" fill="#111"/><circle cx="126.9" cy="375.6" r="1.9" fill="#ff1a1a"/><circle cx="166.9" cy="310.8" r=".8" fill="#333"/><circle cx="166.9" cy="311.3" r="1.6" fill="#f01818"/><circle cx="197.7" cy="304.5" r="1.3" fill="#e05060"/><circle cx="196.9" cy="327.4" r="1.5" fill="#ff1a1a"/><circle cx="198" cy="339.9" r=".8" fill="#222"/><circle cx="198" cy="337.2" r="1.6" fill="#ff1a1a"/><circle cx="219.5" cy="324.9" r="1.1" fill="#e0a0b0"/><circle cx="225.8" cy="332.3" r="1.3" fill="#f04858"/><circle cx="221.7" cy="336.4" r="1" fill="#e8a0b0"/><circle cx="163.6" cy="359.1" r="1" fill="#c05060"/><defs><linearGradient id="cbg" x1="0" y1="0" x2="0" y2="1"><stop offset="0" stop-color="#f6fbfd"/><stop offset=".2" stop-color="#d8eef7"/><stop offset=".4" stop-color="#a9dcf0"/><stop offset=".6" stop-color="#7ccbea"/><stop offset=".8" stop-color="#4fb8e3"/><stop offset="1" stop-color="#22a3da"/></linearGradient></defs><rect x="293.4" y="4" width="10.5" height="98.6" fill="url(#cbg)" stroke="#9a9a9a" stroke-width=".4"/><rect x="293.4" y="101" width="10.5" height="1.6" fill="#16304a"/><path d="M303.9 5.2h1.3" stroke="#999" stroke-width=".4"/><text x="305.8" y="6.7" text-anchor="start" font-size="4.5" fill="#666">1.000</text><path d="M303.9 24.5h1.3" stroke="#999" stroke-width=".4"/><text x="305.8" y="26" text-anchor="start" font-size="4.5" fill="#666">0.8000</text><path d="M303.9 43.8h1.3" stroke="#999" stroke-width=".4"/><text x="305.8" y="45.3" text-anchor="start" font-size="4.5" fill="#666">0.6000</text><path d="M303.9 63h1.3" stroke="#999" stroke-width=".4"/><text x="305.8" y="64.5" text-anchor="start" font-size="4.5" fill="#666">0.4000</text><path d="M303.9 82.3h1.3" stroke="#999" stroke-width=".4"/><text x="305.8" y="83.8" text-anchor="start" font-size="4.5" fill="#666">0.2000</text><path d="M303.9 101.6h1.3" stroke="#999" stroke-width=".4"/><text x="305.8" y="103.1" text-anchor="start" font-size="4.5" fill="#666">0.000</text><rect x="288.3" y="281" width="10.2" height="103.4" fill="url(#cbg)" stroke="#9a9a9a" stroke-width=".4"/><rect x="288.3" y="382.8" width="10.2" height="1.6" fill="#16304a"/><path d="M298.5 282.2h1.3" stroke="#999" stroke-width=".4"/><text x="302.4" y="283.7" text-anchor="start" font-size="4.5" fill="#333">1.000</text><path d="M298.5 302.4h1.3" stroke="#999" stroke-width=".4"/><text x="302.4" y="303.9" text-anchor="start" font-size="4.5" fill="#333">0.8000</text><path d="M298.5 322.7h1.3" stroke="#999" stroke-width=".4"/><text x="302.4" y="324.2" text-anchor="start" font-size="4.5" fill="#333">0.6000</text><path d="M298.5 342.9h1.3" stroke="#999" stroke-width=".4"/><text x="302.4" y="344.4" text-anchor="start" font-size="4.5" fill="#333">0.4000</text><path d="M298.5 363.2h1.3" stroke="#999" stroke-width=".4"/><text x="302.4" y="364.7" text-anchor="start" font-size="4.5" fill="#333">0.2000</text><path d="M298.5 383.4h1.3" stroke="#999" stroke-width=".4"/><text x="302.4" y="384.9" text-anchor="start" font-size="4.5" fill="#333">0.000</text><path d="M43.1 167.4V246.3H143.3" fill="none" stroke="#222" stroke-width="1.1"/><path d="M43.1 239h-2.4M43.1 231.8h-1.3M43.1 224.7h-2.4M43.1 217.6h-1.3M43.1 210.4h-2.4M43.1 203.2h-1.3M43.1 196.1h-2.4M43.1 188.9h-1.3M43.1 181.8h-2.4M43.1 174.6h-1.3M43.1 167.5h-2.4M52.7 246.3v2.4M72.7 246.3v2.4M92.7 246.3v2.4M112.7 246.3v2.4M132.7 246.3v2.4M62.7 246.3v1.3M82.7 246.3v1.3M102.7 246.3v1.3M122.7 246.3v1.3" stroke="#222" stroke-width="0.8"/><text x="39.2" y="240.9" text-anchor="end" font-size="5.7" fill="#333">0</text><text x="39.2" y="226.6" text-anchor="end" font-size="5.7" fill="#333">0.2</text><text x="39.2" y="212.3" text-anchor="end" font-size="5.7" fill="#333">0.4</text><text x="39.2" y="198" text-anchor="end" font-size="5.7" fill="#333">0.6</text><text x="39.2" y="183.7" text-anchor="end" font-size="5.7" fill="#333">0.8</text><text x="39.2" y="169.4" text-anchor="end" font-size="5.7" fill="#333">1.0</text><text x="52.7" y="256.5" text-anchor="middle" font-size="5.7" fill="#333">0</text><text x="72.7" y="256.5" text-anchor="middle" font-size="5.7" fill="#333">10</text><text x="92.7" y="256.5" text-anchor="middle" font-size="5.7" fill="#333">20</text><text x="112.7" y="256.5" text-anchor="middle" font-size="5.7" fill="#333">30</text><text x="132.7" y="256.5" text-anchor="middle" font-size="5.7" fill="#333">40</text><text x="94.2" y="267.2" text-anchor="middle" font-size="5.9" font-weight="bold" fill="#111">Waveguide width (mm)</text><text transform="translate(21.1 208) rotate(-90)" text-anchor="middle" font-size="5.7" font-weight="bold" fill="#111">Normalized amplitude</text><polyline points="54.9,239 56.3,235.7 57.6,232.3 59,229 60.3,225.7 61.7,222.4 63.1,219.2 64.4,216.1 65.8,213 67.1,210 68.5,207.1 69.9,204.2 71.2,201.5 72.6,198.8 73.9,196.3 75.3,193.9 76.6,191.6 78,189.5 79.4,187.5 80.7,185.7 82.1,184 83.4,182.4 84.8,181 86.2,179.8 87.5,178.8 88.9,177.9 90.2,177.2 91.6,176.6 93,176.3 94.3,176.1 95.7,176.1 97,176.3 98.4,176.6 99.8,177.2 101.1,177.9 102.5,178.8 103.8,179.8 105.2,181 106.6,182.4 107.9,184 109.3,185.7 110.6,187.5 112,189.5 113.4,191.6 114.7,193.9 116.1,196.3 117.4,198.8 118.8,201.5 120.1,204.2 121.5,207.1 122.9,210 124.2,213 125.6,216.1 126.9,219.2 128.3,222.4 129.7,225.7 131,229 132.4,232.3 133.7,235.7 135.1,239" fill="none" stroke="#1c9be0" stroke-width="1.4" stroke-linejoin="round"/><circle cx="62.7" cy="221.7" r="1.05" fill="#d8202a"/><circle cx="88.9" cy="182.6" r="1.05" fill="#d8202a"/><circle cx="93" cy="176.2" r="1.05" fill="#d8202a"/><circle cx="106.6" cy="186.6" r="1.05" fill="#d8202a"/><rect x="103.5" y="160.6" width="66.3" height="16.2" fill="#fff" stroke="#8a8a8a" stroke-width="0.6"/><path d="M105.7 164.9h14" stroke="#1c9be0" stroke-width="1.3"/><circle cx="112.7" cy="171.8" r="1.05" fill="#d8202a"/><text x="121.7" y="166.7" font-size="5.4" fill="#222">Simulation result</text><text x="121.7" y="173.5" font-size="5.4" fill="#222">Experimental result</text><path d="M201.6 169.6V246.7H300.5" fill="none" stroke="#222" stroke-width="1.1"/><path d="M201.6 240.3h-2.4M201.6 233.6h-1.3M201.6 226.9h-2.4M201.6 220.3h-1.3M201.6 213.6h-2.4M201.6 206.9h-1.3M201.6 200.2h-2.4M201.6 193.5h-1.3M201.6 186.9h-2.4M201.6 180.2h-1.3M201.6 173.5h-2.4M219.1 246.7v2.4M253.5 246.7v2.4M287.9 246.7v2.4M201.9 246.7v1.3M236.3 246.7v1.3M270.7 246.7v1.3" stroke="#222" stroke-width="0.8"/><text x="197.7" y="242.2" text-anchor="end" font-size="5.7" fill="#333">0</text><text x="197.7" y="228.8" text-anchor="end" font-size="5.7" fill="#333">0.2</text><text x="197.7" y="215.5" text-anchor="end" font-size="5.7" fill="#333">0.4</text><text x="197.7" y="202.1" text-anchor="end" font-size="5.7" fill="#333">0.6</text><text x="197.7" y="188.8" text-anchor="end" font-size="5.7" fill="#333">0.8</text><text x="197.7" y="175.4" text-anchor="end" font-size="5.7" fill="#333">1.0</text><text x="219.1" y="255.2" text-anchor="middle" font-size="5.7" fill="#333">90</text><text x="253.5" y="255.2" text-anchor="middle" font-size="5.7" fill="#333">100</text><text x="287.9" y="255.2" text-anchor="middle" font-size="5.7" fill="#333">110</text><text x="251.7" y="265.1" text-anchor="middle" font-size="5.9" font-weight="bold" fill="#111">Propagation distance (mm)</text><text transform="translate(183.2 207.5) rotate(-90)" text-anchor="middle" font-size="5.7" font-weight="bold" fill="#111">Normalized amplitude</text><polyline points="208.5,239.1 209.6,237.6 210.8,235.9 211.9,233.9 213.1,231.7 214.2,229 215.4,226.2 216.5,223.2 217.6,220.2 218.8,217.5 219.9,215 221.1,212.5 222.2,210.1 223.3,207.7 224.5,205.4 225.6,203.2 226.8,201.1 227.9,199 229.1,196.9 230.2,194.8 231.3,192.8 232.5,190.9 233.6,189.1 234.8,187.4 235.9,185.8 237.1,184.4 238.2,183 239.3,181.7 240.5,180.7 241.6,179.9 242.8,179.4 243.9,178.9 245,178.5 246.2,178.3 247.3,178.2 248.5,178.3 249.6,178.5 250.8,178.8 251.9,179.1 253,179.4 254.2,179.8 255.3,180.3 256.5,180.8 257.6,181.5 258.7,182.2 259.9,183.1 261,184 262.2,185.2 263.3,186.7 264.5,188.3 265.6,190.1 266.7,191.9 267.9,193.8 269,195.9 270.2,198.1 271.3,200.4 272.5,202.8 273.6,205.3 274.7,208 275.9,210.8 277,213.7 278.2,216.7 279.3,219.7 280.4,222.6 281.6,225.5 282.7,228.3 283.9,231 285,233.7 286.2,236.4 287.3,239.1" fill="none" stroke="#1c9be0" stroke-width="1.4" stroke-linejoin="round"/><circle cx="226.7" cy="201.8" r="1.05" fill="#d8202a"/><circle cx="240.9" cy="179.7" r="1.05" fill="#d8202a"/><circle cx="254.8" cy="182.7" r="1.05" fill="#d8202a"/><circle cx="269.4" cy="188.2" r="1.05" fill="#d8202a"/><circle cx="283.6" cy="229.1" r="1.05" fill="#d8202a"/><rect x="255" y="160.2" width="69" height="15.5" fill="#fff" stroke="#8a8a8a" stroke-width="0.6"/><path d="M257.2 164.5h14" stroke="#1c9be0" stroke-width="1.3"/><circle cx="264.2" cy="171.4" r="1.05" fill="#d8202a"/><text x="273.2" y="166.3" font-size="5.4" fill="#222">Simulation result</text><text x="273.2" y="173.1" font-size="5.4" fill="#222">Experimental result</text><path d="M43.2 444.8V528.4H146.2" fill="none" stroke="#222" stroke-width="1.1"/><path d="M43.2 521.1h-2.4M43.2 514.3h-1.3M43.2 507.5h-2.4M43.2 500.7h-1.3M43.2 493.9h-2.4M43.2 487.1h-1.3M43.2 480.3h-2.4M43.2 473.5h-1.3M43.2 466.7h-2.4M43.2 459.9h-1.3M43.2 453.1h-2.4M53.8 528.4v2.4M74.6 528.4v2.4M95.5 528.4v2.4M116.3 528.4v2.4M137.1 528.4v2.4M64.2 528.4v1.3M85 528.4v1.3M105.9 528.4v1.3M126.7 528.4v1.3" stroke="#222" stroke-width="0.8"/><text x="39.3" y="523" text-anchor="end" font-size="5.7" fill="#333">0</text><text x="39.3" y="509.4" text-anchor="end" font-size="5.7" fill="#333">0.2</text><text x="39.3" y="495.8" text-anchor="end" font-size="5.7" fill="#333">0.4</text><text x="39.3" y="482.2" text-anchor="end" font-size="5.7" fill="#333">0.6</text><text x="39.3" y="468.6" text-anchor="end" font-size="5.7" fill="#333">0.8</text><text x="39.3" y="455" text-anchor="end" font-size="5.7" fill="#333">1.0</text><text x="53.8" y="539.3" text-anchor="middle" font-size="5.7" fill="#333">0</text><text x="74.6" y="539.3" text-anchor="middle" font-size="5.7" fill="#333">10</text><text x="95.5" y="539.3" text-anchor="middle" font-size="5.7" fill="#333">20</text><text x="116.3" y="539.3" text-anchor="middle" font-size="5.7" fill="#333">30</text><text x="137.1" y="539.3" text-anchor="middle" font-size="5.7" fill="#333">40</text><text x="94.5" y="547.7" text-anchor="middle" font-size="5.9" font-weight="bold" fill="#111">Waveguide width (mm)</text><text transform="translate(25 481) rotate(-90)" text-anchor="middle" font-size="5.7" font-weight="bold" fill="#111">Normalized amplitude</text><polyline points="55.9,518.4 56.9,513.9 57.9,509.4 58.9,505 59.9,500.7 61,496.5 62,492.5 63,488.6 64,484.9 65,481.4 66,478.2 67,475.2 68.1,472.5 69.1,470.1 70.1,468 71.1,466.2 72.1,464.8 73.1,463.7 74.1,463 75.2,462.7 76.2,462.7 77.2,463 78.2,463.7 79.2,464.8 80.2,466.2 81.3,468 82.3,470.1 83.3,472.5 84.3,475.2 85.3,478.2 86.3,481.4 87.3,484.9 88.4,488.6 89.4,492.5 90.4,496.5 91.4,500.7 92.4,505 93.4,509.4 94.4,513.9 95.5,518.4 95.5,518.4 96.6,513.2 97.7,508.1 98.8,503.1 99.9,498.1 101,493.3 102.1,488.7 103.2,484.2 104.3,480 105.4,476 106.5,472.3 107.6,468.9 108.7,465.8 109.8,463 110.9,460.6 112,458.6 113.1,457 114.3,455.8 115.4,454.9 116.5,454.5 117.6,454.5 118.7,454.9 119.8,455.8 120.9,457 122,458.6 123.1,460.6 124.2,463 125.3,465.8 126.4,468.9 127.5,472.3 128.6,476 129.7,480 130.8,484.2 131.9,488.7 133.1,493.3 134.2,498.1 135.3,503.1 136.4,508.1 137.5,513.2 138.6,518.4" fill="none" stroke="#1c9be0" stroke-width="1.4" stroke-linejoin="round"/><circle cx="68" cy="467.3" r="1.05" fill="#d8202a"/><circle cx="80.5" cy="472.7" r="1.05" fill="#d8202a"/><circle cx="102.9" cy="489.3" r="1.05" fill="#d8202a"/><circle cx="117.7" cy="454.1" r="1.05" fill="#d8202a"/><rect x="98" y="434.6" width="70" height="15.6" fill="#fff" stroke="#8a8a8a" stroke-width="0.6"/><path d="M100.2 438.9h14" stroke="#1c9be0" stroke-width="1.3"/><circle cx="107.2" cy="445.8" r="1.05" fill="#d8202a"/><text x="116.2" y="440.7" font-size="5.4" fill="#222">Simulation result</text><text x="116.2" y="447.5" font-size="5.4" fill="#222">Experimental result</text><path d="M206 445.2V525.3H308.6" fill="none" stroke="#222" stroke-width="1.1"/><path d="M206 518.8h-2.4M206 512.2h-1.3M206 505.5h-2.4M206 498.9h-1.3M206 492.2h-2.4M206 485.6h-1.3M206 479h-2.4M206 472.3h-1.3M206 465.7h-2.4M206 459h-1.3M206 452.4h-2.4M213.4 525.3v2.4M240.6 525.3v2.4M267.8 525.3v2.4M295 525.3v2.4M227 525.3v1.3M254.2 525.3v1.3M281.4 525.3v1.3M308.6 525.3v1.3" stroke="#222" stroke-width="0.8"/><text x="202.1" y="520.7" text-anchor="end" font-size="5.7" fill="#333">0</text><text x="202.1" y="507.4" text-anchor="end" font-size="5.7" fill="#333">0.2</text><text x="202.1" y="494.1" text-anchor="end" font-size="5.7" fill="#333">0.4</text><text x="202.1" y="480.9" text-anchor="end" font-size="5.7" fill="#333">0.6</text><text x="202.1" y="467.6" text-anchor="end" font-size="5.7" fill="#333">0.8</text><text x="202.1" y="454.3" text-anchor="end" font-size="5.7" fill="#333">1.0</text><text x="213.4" y="536.8" text-anchor="middle" font-size="5.7" fill="#333">80</text><text x="240.6" y="536.8" text-anchor="middle" font-size="5.7" fill="#333">100</text><text x="267.8" y="536.8" text-anchor="middle" font-size="5.7" fill="#333">120</text><text x="295" y="536.8" text-anchor="middle" font-size="5.7" fill="#333">140</text><text x="256.9" y="545.8" text-anchor="middle" font-size="5.9" font-weight="bold" fill="#111">Propagation distance (mm)</text><text transform="translate(188.8 480) rotate(-90)" text-anchor="middle" font-size="5.7" font-weight="bold" fill="#111">Normalized amplitude</text><polyline points="217.1,517 218.3,514.1 219.5,511.3 220.8,508.4 222,505.5 223.2,502.6 224.4,499.7 225.7,496.7 226.9,493.8 228.1,490.7 229.3,487.8 230.5,484.8 231.8,482 233,479.1 234.2,476.2 235.4,473.3 236.6,470.5 237.9,467.8 239.1,465.4 240.3,463.4 241.5,461.5 242.8,459.8 244,458.2 245.2,456.9 246.4,455.9 247.6,455.1 248.9,454.3 250.1,453.6 251.3,453.1 252.5,452.8 253.8,452.7 255,452.9 256.2,453.2 257.4,453.6 258.6,454.2 259.9,454.8 261.1,455.5 262.3,456.6 263.5,458 264.7,459.6 266,461.4 267.2,463.3 268.4,465.2 269.6,467.1 270.9,469.2 272.1,471.4 273.3,473.7 274.5,476 275.7,478.4 277,480.7 278.2,483 279.4,485.3 280.6,487.6 281.9,490 283.1,492.4 284.3,494.7 285.5,496.9 286.7,499 288,500.9 289.2,502.7 290.4,504.4 291.6,506.1 292.8,507.8 294.1,509.4 295.3,510.9 296.5,512.3 297.7,513.7 299,515 300.2,516.2 301.4,517.3" fill="none" stroke="#1c9be0" stroke-width="1.4" stroke-linejoin="round"/><circle cx="221.7" cy="502.7" r="1.05" fill="#d8202a"/><circle cx="226.7" cy="489" r="1.05" fill="#d8202a"/><circle cx="253.3" cy="453.3" r="1.05" fill="#d8202a"/><circle cx="280.7" cy="475.3" r="1.05" fill="#d8202a"/><circle cx="286.7" cy="487.7" r="1.05" fill="#d8202a"/><rect x="255.3" y="433.3" width="67.9" height="15.8" fill="#fff" stroke="#8a8a8a" stroke-width="0.6"/><path d="M257.5 437.6h14" stroke="#1c9be0" stroke-width="1.3"/><circle cx="264.5" cy="444.5" r="1.05" fill="#d8202a"/><text x="273.5" y="439.4" font-size="5.4" fill="#222">Simulation result</text><text x="273.5" y="446.2" font-size="5.4" fill="#222">Experimental result</text><text x="7.9" y="8.6" font-size="7.6" font-weight="bold" fill="#111">(a)</text><text x="8.7" y="156.2" font-size="7.6" font-weight="bold" fill="#111">(b)</text><text x="171.5" y="155.8" font-size="7.6" font-weight="bold" fill="#111">(c)</text><text x="7.9" y="283" font-size="7.6" font-weight="bold" fill="#111">(d)</text><text x="7.9" y="435.9" font-size="7.6" font-weight="bold" fill="#111">(e)</text><text x="174.7" y="435.6" font-size="7.6" font-weight="bold" fill="#111">(f)</text></svg></body></html>
